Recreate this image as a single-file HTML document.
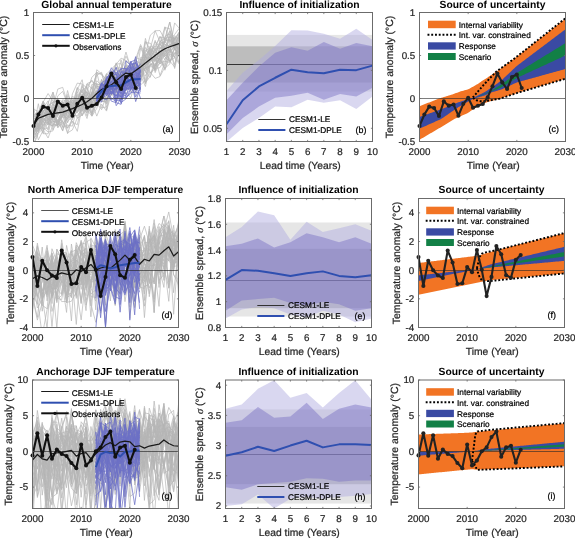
<!DOCTYPE html>
<html><head><meta charset="utf-8"><style>html,body{margin:0;padding:0;background:#fff;}svg{display:block;} text{-webkit-font-smoothing:antialiased;text-rendering:geometricPrecision;} body>div{will-change:transform;opacity:0.999;}</style></head>
<body><div><svg width="575" height="538" viewBox="0 0 575 538" font-family='"Liberation Sans", sans-serif'><defs><clipPath id="ca"><rect x="33.5" y="12.5" width="146.0" height="129.0"/></clipPath><clipPath id="cb"><rect x="226.5" y="12.5" width="146.0" height="129.0"/></clipPath><clipPath id="cc"><rect x="419.5" y="12.5" width="146.0" height="129.0"/></clipPath><clipPath id="cd"><rect x="32.5" y="198.5" width="146.0" height="129.0"/></clipPath><clipPath id="ce"><rect x="225.5" y="198.5" width="146.0" height="129.0"/></clipPath><clipPath id="cf"><rect x="418.5" y="198.5" width="146.0" height="129.0"/></clipPath><clipPath id="cg"><rect x="32.5" y="380.0" width="146.0" height="128.5"/></clipPath><clipPath id="ch"><rect x="225.5" y="380.0" width="146.0" height="128.5"/></clipPath><clipPath id="ci"><rect x="418.5" y="380.0" width="146.0" height="128.5"/></clipPath></defs><rect width="575" height="538" fill="#fff"/><text x="33.5" y="154.7" font-size="9.8" text-anchor="middle" font-weight="normal" fill="#262626" stroke="#262626" stroke-width="0.22" >2000</text>
<text x="82.17" y="154.7" font-size="9.8" text-anchor="middle" font-weight="normal" fill="#262626" stroke="#262626" stroke-width="0.22" >2010</text>
<text x="130.83" y="154.7" font-size="9.8" text-anchor="middle" font-weight="normal" fill="#262626" stroke="#262626" stroke-width="0.22" >2020</text>
<text x="179.5" y="154.7" font-size="9.8" text-anchor="middle" font-weight="normal" fill="#262626" stroke="#262626" stroke-width="0.22" >2030</text>
<text x="29.3" y="144.9" font-size="9.8" text-anchor="end" font-weight="normal" fill="#262626" stroke="#262626" stroke-width="0.22" >-0.5</text>
<text x="29.3" y="101.9" font-size="9.8" text-anchor="end" font-weight="normal" fill="#262626" stroke="#262626" stroke-width="0.22" >0</text>
<text x="29.3" y="58.9" font-size="9.8" text-anchor="end" font-weight="normal" fill="#262626" stroke="#262626" stroke-width="0.22" >0.5</text>
<text x="29.3" y="15.9" font-size="9.8" text-anchor="end" font-weight="normal" fill="#262626" stroke="#262626" stroke-width="0.22" >1</text>
<text x="106.5" y="7.55" font-size="10.3" text-anchor="middle" font-weight="bold" fill="#000" >Global annual temperature</text>
<text x="107.3" y="168.5" font-size="10.3" text-anchor="middle" font-weight="normal" fill="#262626" stroke="#262626" stroke-width="0.22" >Time (Year)</text>
<text x="0" y="0" font-size="10.45" text-anchor="middle" font-weight="normal" fill="#262626" stroke="#262626" stroke-width="0.22" transform="translate(7.31,77) rotate(-90)">Temperature anomaly (°C)</text>
<g clip-path="url(#ca)"><polyline points="33.5,129.02 38.37,117.17 43.23,118.49 48.1,123.41 52.97,121 57.83,124.63 62.7,115.65 67.57,99.16 72.43,109.23 77.3,112.59 82.17,102 87.03,97.61 91.9,95.89 96.77,101.28 101.63,92.47 106.5,81.94 111.37,95.43 116.23,88.72 121.1,96.99 125.97,92.14 130.83,97.8 135.7,80.97 140.57,82.31 145.43,65.99 150.3,58.8 155.17,57.08 160.03,75.7 164.9,62.1 169.77,51.89 174.63,45.86 179.5,57.9" fill="none" stroke="#b6b6b6" stroke-width="0.7" stroke-linejoin="round" /><polyline points="33.5,136.04 38.37,129.88 43.23,110.58 48.1,119.87 52.97,115.85 57.83,105.44 62.7,114.9 67.57,112.35 72.43,108.26 77.3,105.91 82.17,115.55 87.03,104.95 91.9,86.85 96.77,103.83 101.63,85.13 106.5,84.7 111.37,89.89 116.23,64.01 121.1,63.66 125.97,79.64 130.83,75.68 135.7,65.7 140.57,66.97 145.43,56.81 150.3,57.65 155.17,48.77 160.03,36.15 164.9,49.52 169.77,45.16 174.63,48.84 179.5,43.59" fill="none" stroke="#b6b6b6" stroke-width="0.7" stroke-linejoin="round" /><polyline points="33.5,118.53 38.37,118.08 43.23,107.95 48.1,100.86 52.97,121.16 57.83,122.86 62.7,109.59 67.57,127.92 72.43,119.03 77.3,111.17 82.17,94.4 87.03,91.86 91.9,97.89 96.77,96.77 101.63,92.94 106.5,74.43 111.37,84.32 116.23,83.4 121.1,74.25 125.97,73.35 130.83,75.99 135.7,81.48 140.57,70.85 145.43,68.61 150.3,50.36 155.17,46.35 160.03,48.85 164.9,41.52 169.77,47.38 174.63,35.58 179.5,40.17" fill="none" stroke="#b6b6b6" stroke-width="0.7" stroke-linejoin="round" /><polyline points="33.5,115.93 38.37,112.14 43.23,129.84 48.1,137.99 52.97,124.71 57.83,125.07 62.7,114.84 67.57,90.5 72.43,109.34 77.3,112.66 82.17,104.66 87.03,97.28 91.9,98.39 96.77,95.44 101.63,83.65 106.5,80.47 111.37,92.04 116.23,84.03 121.1,77.4 125.97,83.11 130.83,75.17 135.7,78.82 140.57,60.81 145.43,59.19 150.3,57.04 155.17,60.21 160.03,54.58 164.9,68.22 169.77,64.06 174.63,47.81 179.5,64.12" fill="none" stroke="#b6b6b6" stroke-width="0.7" stroke-linejoin="round" /><polyline points="33.5,130.94 38.37,113.59 43.23,122.54 48.1,109.36 52.97,110.66 57.83,126.06 62.7,105.13 67.57,94.54 72.43,103.66 77.3,107.43 82.17,106.21 87.03,111.42 91.9,91.53 96.77,96.16 101.63,90.88 106.5,95.17 111.37,93.41 116.23,95.61 121.1,70.14 125.97,72.22 130.83,64.82 135.7,67.12 140.57,72.15 145.43,67.98 150.3,66.13 155.17,57.85 160.03,56.13 164.9,53.04 169.77,61.04 174.63,57.58 179.5,32.5" fill="none" stroke="#b6b6b6" stroke-width="0.7" stroke-linejoin="round" /><polyline points="33.5,114.91 38.37,111.87 43.23,101.06 48.1,122.53 52.97,118.41 57.83,120.39 62.7,131.04 67.57,110.16 72.43,108.73 77.3,106.01 82.17,111.2 87.03,99.92 91.9,102.68 96.77,96.36 101.63,100.74 106.5,102.54 111.37,77.82 116.23,83.01 121.1,74.67 125.97,72.69 130.83,78.02 135.7,76.57 140.57,63.19 145.43,64.61 150.3,61.17 155.17,55.98 160.03,41.1 164.9,38.69 169.77,39.7 174.63,47.86 179.5,57.22" fill="none" stroke="#b6b6b6" stroke-width="0.7" stroke-linejoin="round" /><polyline points="33.5,119.3 38.37,117.83 43.23,111.17 48.1,105.36 52.97,102.77 57.83,100.52 62.7,111.99 67.57,96.26 72.43,115.2 77.3,100.95 82.17,97.89 87.03,91.38 91.9,77.28 96.77,72.39 101.63,92.7 106.5,104.1 111.37,83.17 116.23,89.59 121.1,79.79 125.97,66.39 130.83,86.96 135.7,94.54 140.57,72.91 145.43,64.81 150.3,62.11 155.17,56.16 160.03,60.03 164.9,65.65 169.77,54.22 174.63,56.73 179.5,62.75" fill="none" stroke="#b6b6b6" stroke-width="0.7" stroke-linejoin="round" /><polyline points="33.5,133.6 38.37,117.77 43.23,125.33 48.1,123.65 52.97,126.13 57.83,125.45 62.7,114.68 67.57,118.5 72.43,108.14 77.3,103.31 82.17,84.53 87.03,107.7 91.9,92.18 96.77,92.19 101.63,89.14 106.5,100.65 111.37,93.79 116.23,77.02 121.1,76.04 125.97,72.11 130.83,76.42 135.7,60.61 140.57,63.64 145.43,82.36 150.3,72.39 155.17,78.35 160.03,76.56 164.9,67.01 169.77,40.8 174.63,42.59 179.5,53.44" fill="none" stroke="#b6b6b6" stroke-width="0.7" stroke-linejoin="round" /><polyline points="33.5,109.18 38.37,111.53 43.23,113.54 48.1,113.92 52.97,113.11 57.83,105.22 62.7,104.29 67.57,105.61 72.43,116.59 77.3,104.68 82.17,110.11 87.03,93.62 91.9,107.25 96.77,97.91 101.63,91.09 106.5,100.17 111.37,73.41 116.23,63.24 121.1,74.75 125.97,65.26 130.83,67.83 135.7,92.51 140.57,72.29 145.43,65.57 150.3,59.33 155.17,65.52 160.03,57.83 164.9,52.5 169.77,37.07 174.63,38.62 179.5,41.24" fill="none" stroke="#b6b6b6" stroke-width="0.7" stroke-linejoin="round" /><polyline points="33.5,115.55 38.37,118.83 43.23,133.37 48.1,105.83 52.97,101.7 57.83,100.19 62.7,101.46 67.57,105.59 72.43,104.92 77.3,107.67 82.17,106.7 87.03,102.05 91.9,84.42 96.77,83.5 101.63,86.51 106.5,91.66 111.37,92.26 116.23,68.53 121.1,67.61 125.97,69.28 130.83,75.95 135.7,81.41 140.57,71.34 145.43,56.57 150.3,60.59 155.17,58.09 160.03,54.78 164.9,48.77 169.77,61.53 174.63,52.46 179.5,53.95" fill="none" stroke="#b6b6b6" stroke-width="0.7" stroke-linejoin="round" /><polyline points="33.5,129.29 38.37,114.68 43.23,100.96 48.1,111.93 52.97,118.34 57.83,112.74 62.7,112.06 67.57,119.53 72.43,107.53 77.3,87.58 82.17,100.17 87.03,102.15 91.9,108.14 96.77,93.99 101.63,101.2 106.5,101.69 111.37,78.04 116.23,86.78 121.1,68.68 125.97,56.16 130.83,65.75 135.7,62.44 140.57,46 145.43,57.62 150.3,62.81 155.17,69.29 160.03,56.27 164.9,36.6 169.77,33.63 174.63,49.24 179.5,52.83" fill="none" stroke="#b6b6b6" stroke-width="0.7" stroke-linejoin="round" /><polyline points="33.5,135.68 38.37,124.17 43.23,116.42 48.1,111.69 52.97,115.45 57.83,113.87 62.7,110.53 67.57,110.57 72.43,104 77.3,87.68 82.17,92.33 87.03,97.01 91.9,112.28 96.77,94.8 101.63,107.96 106.5,106.86 111.37,83.78 116.23,73.86 121.1,75.56 125.97,88.53 130.83,82.92 135.7,79.87 140.57,64.28 145.43,41.28 150.3,49.59 155.17,59.35 160.03,64.02 164.9,53.54 169.77,50.08 174.63,56.94 179.5,46.52" fill="none" stroke="#b6b6b6" stroke-width="0.7" stroke-linejoin="round" /><polyline points="33.5,135.44 38.37,112.33 43.23,104.21 48.1,114.56 52.97,108.92 57.83,112.44 62.7,115.54 67.57,114.68 72.43,122.14 77.3,124.74 82.17,103.43 87.03,103.18 91.9,96.82 96.77,83.7 101.63,102.1 106.5,99.01 111.37,87.33 116.23,78.01 121.1,79.12 125.97,64.4 130.83,69.08 135.7,79.98 140.57,78.84 145.43,59.83 150.3,53.8 155.17,71.2 160.03,44.84 164.9,40.77 169.77,31.53 174.63,43.33 179.5,45.58" fill="none" stroke="#b6b6b6" stroke-width="0.7" stroke-linejoin="round" /><polyline points="33.5,126.55 38.37,120.69 43.23,102.48 48.1,115.55 52.97,112.52 57.83,127.96 62.7,120.92 67.57,104.31 72.43,118.07 77.3,100 82.17,99.01 87.03,109.54 91.9,105.69 96.77,100.34 101.63,92.33 106.5,93.3 111.37,94.62 116.23,87.02 121.1,88.29 125.97,89.09 130.83,80.12 135.7,64.42 140.57,78.94 145.43,67.3 150.3,66.73 155.17,67.18 160.03,48.01 164.9,52.22 169.77,34.1 174.63,47.9 179.5,40.86" fill="none" stroke="#b6b6b6" stroke-width="0.7" stroke-linejoin="round" /><polyline points="33.5,127.47 38.37,113.94 43.23,116.26 48.1,108.79 52.97,112.11 57.83,122.39 62.7,116.37 67.57,111.35 72.43,100.06 77.3,112.03 82.17,106.71 87.03,118.51 91.9,98.15 96.77,103.47 101.63,109.7 106.5,94.96 111.37,77.29 116.23,92.26 121.1,90.69 125.97,84.87 130.83,88.66 135.7,72.07 140.57,74.93 145.43,72.61 150.3,57.16 155.17,61.78 160.03,50.02 164.9,57.12 169.77,60.92 174.63,67.07 179.5,33.9" fill="none" stroke="#b6b6b6" stroke-width="0.7" stroke-linejoin="round" /><polyline points="33.5,125.23 38.37,118.89 43.23,115.08 48.1,113.51 52.97,95.64 57.83,116.19 62.7,127.68 67.57,125.17 72.43,126.14 77.3,105.84 82.17,96.57 87.03,107.92 91.9,113.36 96.77,102.06 101.63,79.58 106.5,109.99 111.37,87.92 116.23,91.82 121.1,70.82 125.97,81.02 130.83,79.49 135.7,86.33 140.57,81.5 145.43,55.38 150.3,48.93 155.17,55.62 160.03,59.93 164.9,69.13 169.77,57.55 174.63,49.17 179.5,45.66" fill="none" stroke="#b6b6b6" stroke-width="0.7" stroke-linejoin="round" /><polyline points="33.5,128.5 38.37,120.36 43.23,117.43 48.1,102.83 52.97,92.29 57.83,106.66 62.7,117.02 67.57,112.66 72.43,115.02 77.3,115.75 82.17,108.19 87.03,112.74 91.9,96.55 96.77,93.85 101.63,87.28 106.5,88.26 111.37,91.93 116.23,92.04 121.1,82.73 125.97,80.29 130.83,74.43 135.7,70.65 140.57,79.58 145.43,66.93 150.3,73.02 155.17,66.04 160.03,58.25 164.9,70.22 169.77,53.43 174.63,46.05 179.5,45.25" fill="none" stroke="#b6b6b6" stroke-width="0.7" stroke-linejoin="round" /><polyline points="33.5,139.06 38.37,132.49 43.23,123.82 48.1,122.15 52.97,115.49 57.83,124.67 62.7,114.04 67.57,109.69 72.43,109.67 77.3,111.07 82.17,100.89 87.03,115.94 91.9,99.02 96.77,91.5 101.63,86.15 106.5,82.62 111.37,89.27 116.23,84.73 121.1,72.07 125.97,67.48 130.83,70.2 135.7,83.15 140.57,66.35 145.43,52.09 150.3,46.03 155.17,48.72 160.03,63.89 164.9,44.24 169.77,46.55 174.63,68.5 179.5,48.15" fill="none" stroke="#b6b6b6" stroke-width="0.7" stroke-linejoin="round" /><polyline points="33.5,132.85 38.37,127.15 43.23,107.66 48.1,114.81 52.97,111.26 57.83,95.84 62.7,91.36 67.57,104.04 72.43,108.61 77.3,118.31 82.17,114.97 87.03,101.51 91.9,94.57 96.77,91.18 101.63,79.44 106.5,90.98 111.37,86.66 116.23,74.64 121.1,69.03 125.97,60.49 130.83,65.98 135.7,70.52 140.57,63.55 145.43,71.23 150.3,77.27 155.17,56.44 160.03,52.67 164.9,46.19 169.77,61.6 174.63,53.69 179.5,52.02" fill="none" stroke="#b6b6b6" stroke-width="0.7" stroke-linejoin="round" /><polyline points="33.5,139.23 38.37,126.61 43.23,110.95 48.1,108.99 52.97,117.31 57.83,114.28 62.7,105.57 67.57,133.63 72.43,117.89 77.3,104.84 82.17,97.51 87.03,83.58 91.9,81.45 96.77,84.71 101.63,83.6 106.5,77.98 111.37,86.59 116.23,81.76 121.1,68.54 125.97,52.1 130.83,68.2 135.7,68.88 140.57,64.5 145.43,49.83 150.3,54.87 155.17,40.37 160.03,55.49 164.9,51.76 169.77,49.65 174.63,38.84 179.5,31.58" fill="none" stroke="#b6b6b6" stroke-width="0.7" stroke-linejoin="round" /><polyline points="33.5,123.14 38.37,114.75 43.23,121.21 48.1,130.22 52.97,109.55 57.83,106.85 62.7,105.42 67.57,112.4 72.43,99.77 77.3,105.76 82.17,93.99 87.03,106.55 91.9,107.92 96.77,94.97 101.63,96.5 106.5,83.53 111.37,81.13 116.23,88.03 121.1,78.45 125.97,76.96 130.83,66.94 135.7,73.85 140.57,72.14 145.43,53.73 150.3,35.22 155.17,30.78 160.03,41.82 164.9,43.22 169.77,30.63 174.63,40.62 179.5,50.93" fill="none" stroke="#b6b6b6" stroke-width="0.7" stroke-linejoin="round" /><polyline points="33.5,119.41 38.37,124.25 43.23,133.69 48.1,133.79 52.97,114.25 57.83,120.1 62.7,115.93 67.57,109.71 72.43,102.62 77.3,107.64 82.17,100.18 87.03,108.52 91.9,104.04 96.77,105 101.63,83.01 106.5,85.32 111.37,91.01 116.23,86.2 121.1,80.54 125.97,67.95 130.83,87.06 135.7,84.64 140.57,75.35 145.43,42.61 150.3,43.21 155.17,50.93 160.03,43.63 164.9,26.82 169.77,41.26 174.63,46.58 179.5,32.75" fill="none" stroke="#b6b6b6" stroke-width="0.7" stroke-linejoin="round" /><polyline points="33.5,139.24 38.37,128.22 43.23,102 48.1,93.55 52.97,101.09 57.83,102.13 62.7,127.11 67.57,109.68 72.43,110.15 77.3,103.15 82.17,96.91 87.03,102.29 91.9,114.17 96.77,95.65 101.63,97.09 106.5,93.06 111.37,92.47 116.23,86.61 121.1,100.03 125.97,69.98 130.83,70.64 135.7,58.98 140.57,44.53 145.43,55.07 150.3,73.13 155.17,68.65 160.03,67.61 164.9,58.93 169.77,49.59 174.63,64.65 179.5,47.13" fill="none" stroke="#b6b6b6" stroke-width="0.7" stroke-linejoin="round" /><polyline points="33.5,123.09 38.37,118.87 43.23,119.46 48.1,116.18 52.97,119.25 57.83,120.5 62.7,130.35 67.57,117 72.43,93.81 77.3,83.1 82.17,83.97 87.03,88.06 91.9,99.8 96.77,80.66 101.63,85.5 106.5,86.58 111.37,87.3 116.23,80.78 121.1,80.63 125.97,75.24 130.83,84.88 135.7,77.72 140.57,48.3 145.43,57.25 150.3,59.4 155.17,50.63 160.03,43.57 164.9,56.18 169.77,51.29 174.63,38.19 179.5,38.54" fill="none" stroke="#b6b6b6" stroke-width="0.7" stroke-linejoin="round" /><polyline points="33.5,143.86 38.37,131.4 43.23,120.17 48.1,120.57 52.97,101.98 57.83,126.87 62.7,123.2 67.57,119.12 72.43,105.51 77.3,99.93 82.17,89.18 87.03,111.01 91.9,94.61 96.77,94.93 101.63,96.14 106.5,84.66 111.37,92.46 116.23,102.68 121.1,87.69 125.97,90.81 130.83,86.29 135.7,71.32 140.57,64.3 145.43,47.5 150.3,55.63 155.17,68.45 160.03,63.37 164.9,61.31 169.77,62.44 174.63,46.57 179.5,49.95" fill="none" stroke="#b6b6b6" stroke-width="0.7" stroke-linejoin="round" /><polyline points="33.5,132.61 38.37,122.22 43.23,114.42 48.1,112.76 52.97,107.21 57.83,110.26 62.7,99.72 67.57,102.07 72.43,102.05 77.3,100.54 82.17,115.81 87.03,107.27 91.9,102.66 96.77,93.1 101.63,101.92 106.5,76.55 111.37,80.12 116.23,90.35 121.1,95.77 125.97,82.37 130.83,78.15 135.7,78.57 140.57,68.87 145.43,69.74 150.3,56.45 155.17,61.24 160.03,54.2 164.9,40.51 169.77,22.04 174.63,45.1 179.5,47.76" fill="none" stroke="#b6b6b6" stroke-width="0.7" stroke-linejoin="round" /><polyline points="33.5,129.26 38.37,130.65 43.23,125.16 48.1,117.77 52.97,123.88 57.83,125.32 62.7,120.85 67.57,132.86 72.43,129.86 77.3,117.89 82.17,107.02 87.03,104.39 91.9,115.68 96.77,103.88 101.63,85.71 106.5,80.86 111.37,83.33 116.23,88.47 121.1,73.44 125.97,77.31 130.83,86.38 135.7,82.22 140.57,57.59 145.43,57.81 150.3,46.65 155.17,55.54 160.03,43.15 164.9,51.29 169.77,49.11 174.63,22.9 179.5,28.58" fill="none" stroke="#b6b6b6" stroke-width="0.7" stroke-linejoin="round" /><polyline points="33.5,126.68 38.37,116.09 43.23,104.37 48.1,114.75 52.97,129.89 57.83,121.14 62.7,114.84 67.57,110.28 72.43,96.36 77.3,99.41 82.17,94.39 87.03,108.45 91.9,92.63 96.77,72.1 101.63,74.82 106.5,79.85 111.37,80.82 116.23,62.81 121.1,78.89 125.97,74.89 130.83,70.44 135.7,62.32 140.57,68.09 145.43,60.68 150.3,60.97 155.17,55 160.03,52.88 164.9,59.7 169.77,50.79 174.63,38.4 179.5,50.07" fill="none" stroke="#b6b6b6" stroke-width="0.7" stroke-linejoin="round" /><polyline points="33.5,126.16 38.37,128.84 43.23,118.35 48.1,124.93 52.97,106.81 57.83,89.04 62.7,87.36 67.57,102.89 72.43,99.12 77.3,102.18 82.17,101.95 87.03,86.55 91.9,105.22 96.77,86.15 101.63,87.35 106.5,73.54 111.37,78.3 116.23,84.72 121.1,75.41 125.97,65.82 130.83,71.2 135.7,64.95 140.57,69.79 145.43,83.9 150.3,58.18 155.17,48.66 160.03,48.06 164.9,46.8 169.77,36.48 174.63,45.75 179.5,50.23" fill="none" stroke="#b6b6b6" stroke-width="0.7" stroke-linejoin="round" /><polyline points="33.5,127.45 38.37,132.23 43.23,110.19 48.1,118.18 52.97,125.15 57.83,105.22 62.7,110.31 67.57,121.76 72.43,115.9 77.3,100.55 82.17,91.28 87.03,101.12 91.9,94.34 96.77,85.5 101.63,92.65 106.5,85.15 111.37,84.4 116.23,85.59 121.1,82.84 125.97,74.62 130.83,74.33 135.7,75.81 140.57,72.71 145.43,54.83 150.3,54.36 155.17,45.6 160.03,37.23 164.9,38.19 169.77,22.04 174.63,44.1 179.5,35.62" fill="none" stroke="#b6b6b6" stroke-width="0.7" stroke-linejoin="round" /><polyline points="33.5,127.68 38.37,103.71 43.23,129.35 48.1,127.94 52.97,112.22 57.83,105.05 62.7,102.53 67.57,107.64 72.43,103.42 77.3,98.76 82.17,102.42 87.03,91.54 91.9,115.68 96.77,93.71 101.63,99.13 106.5,81.83 111.37,85.06 116.23,89.09 121.1,76.04 125.97,81.3 130.83,85.4 135.7,88.97 140.57,73.61 145.43,60.86 150.3,48.98 155.17,53.23 160.03,41.33 164.9,44.91 169.77,46.29 174.63,39.63 179.5,31.74" fill="none" stroke="#b6b6b6" stroke-width="0.7" stroke-linejoin="round" /><polyline points="33.5,134.84 38.37,123.46 43.23,117.39 48.1,123.12 52.97,107.16 57.83,114.3 62.7,108.31 67.57,116.66 72.43,107.47 77.3,102.6 82.17,106.94 87.03,83.92 91.9,88.64 96.77,73.66 101.63,73.64 106.5,87.93 111.37,88.61 116.23,78.06 121.1,75.07 125.97,72.06 130.83,76.37 135.7,88.04 140.57,75.13 145.43,86.54 150.3,64 155.17,63.9 160.03,61.4 164.9,54.13 169.77,46.12 174.63,58.16 179.5,64.22" fill="none" stroke="#b6b6b6" stroke-width="0.7" stroke-linejoin="round" /><polyline points="33.5,128.3 38.37,128.64 43.23,105.23 48.1,120.31 52.97,109.67 57.83,124.18 62.7,113.28 67.57,113.71 72.43,110.32 77.3,101.96 82.17,86.54 87.03,93.7 91.9,94.35 96.77,101.14 101.63,86.74 106.5,88.65 111.37,77.62 116.23,78.65 121.1,59.72 125.97,85.52 130.83,81.17 135.7,64.8 140.57,68.16 145.43,70.89 150.3,64.43 155.17,70.11 160.03,55.84 164.9,27.55 169.77,28.74 174.63,49.08 179.5,52.94" fill="none" stroke="#b6b6b6" stroke-width="0.7" stroke-linejoin="round" /><polyline points="33.5,145.46 38.37,133.3 43.23,128 48.1,110.29 52.97,104.18 57.83,113.02 62.7,122.5 67.57,128.33 72.43,121.36 77.3,131.34 82.17,106.3 87.03,108.25 91.9,96.14 96.77,75.44 101.63,72.28 106.5,91.98 111.37,78.44 116.23,67.81 121.1,78.97 125.97,82.72 130.83,78.46 135.7,86.85 140.57,59 145.43,82.63 150.3,76.33 155.17,63.99 160.03,56.9 164.9,48.99 169.77,44.34 174.63,46.24 179.5,33.32" fill="none" stroke="#b6b6b6" stroke-width="0.7" stroke-linejoin="round" /><polyline points="33.5,123.71 38.37,124.7 43.23,117.36 48.1,112.72 52.97,121.49 57.83,121.55 62.7,107.79 67.57,105.59 72.43,113.22 77.3,89.34 82.17,79.72 87.03,105.71 91.9,96.91 96.77,69.77 101.63,73.91 106.5,79.83 111.37,84.17 116.23,85.55 121.1,80.23 125.97,79.43 130.83,69.39 135.7,72.53 140.57,71.7 145.43,75.93 150.3,64.19 155.17,65.52 160.03,57.01 164.9,40.91 169.77,40.63 174.63,38.29 179.5,37.77" fill="none" stroke="#b6b6b6" stroke-width="0.7" stroke-linejoin="round" /><polyline points="33.5,134.77 38.37,124.8 43.23,111.59 48.1,122.79 52.97,104.15 57.83,109.23 62.7,117.75 67.57,116.85 72.43,117.13 77.3,108.13 82.17,111.62 87.03,93.7 91.9,102.75 96.77,116.11 101.63,104.16 106.5,111.08 111.37,93.55 116.23,74.01 121.1,68.22 125.97,82.52 130.83,84.44 135.7,57.63 140.57,59.45 145.43,60.47 150.3,48.53 155.17,30.78 160.03,30.56 164.9,40.02 169.77,40.42 174.63,37.18 179.5,46.36" fill="none" stroke="#b6b6b6" stroke-width="0.7" stroke-linejoin="round" /><polyline points="33.5,124.35 38.37,127.07 43.23,119.99 48.1,114.8 52.97,92.08 57.83,113.2 62.7,113.34 67.57,112.29 72.43,105.21 77.3,95.74 82.17,105.18 87.03,109.64 91.9,116.28 96.77,108.38 101.63,89.71 106.5,86.99 111.37,94.15 116.23,87.49 121.1,78.65 125.97,69.11 130.83,78.18 135.7,74.24 140.57,85.06 145.43,80.14 150.3,50.21 155.17,72.62 160.03,60.95 164.9,49.91 169.77,50.64 174.63,53.96 179.5,47.12" fill="none" stroke="#b6b6b6" stroke-width="0.7" stroke-linejoin="round" /><polyline points="33.5,106.98 38.37,129.61 43.23,121.68 48.1,124.2 52.97,122.14 57.83,113.73 62.7,106.46 67.57,100.05 72.43,109.58 77.3,98.41 82.17,90.7 87.03,86.43 91.9,80.08 96.77,88.48 101.63,89.33 106.5,79.64 111.37,94.83 116.23,82.33 121.1,82.05 125.97,78.38 130.83,92.06 135.7,85.03 140.57,72.18 145.43,56.73 150.3,47.84 155.17,52.26 160.03,52.45 164.9,56.67 169.77,45.81 174.63,47.07 179.5,38.53" fill="none" stroke="#b6b6b6" stroke-width="0.7" stroke-linejoin="round" /><polyline points="33.5,113.79 38.37,128.47 43.23,127.89 48.1,131.96 52.97,130.87 57.83,106.8 62.7,107.87 67.57,122.94 72.43,106.94 77.3,94.36 82.17,103.49 87.03,107.7 91.9,103.53 96.77,92.7 101.63,83.26 106.5,74.2 111.37,69.04 116.23,64.26 121.1,58.2 125.97,60.49 130.83,83.85 135.7,75.12 140.57,65.61 145.43,66.21 150.3,51.88 155.17,56.27 160.03,60.68 164.9,38.47 169.77,37 174.63,39.66 179.5,32.97" fill="none" stroke="#b6b6b6" stroke-width="0.7" stroke-linejoin="round" /><polyline points="33.5,121.05 38.37,139.91 43.23,130.17 48.1,123.48 52.97,125.93 57.83,115.32 62.7,101.9 67.57,111.26 72.43,119.42 77.3,91.62 82.17,103.38 87.03,112.82 91.9,99.99 96.77,90.15 101.63,94.83 106.5,81.88 111.37,87.47 116.23,90.25 121.1,78.25 125.97,66.49 130.83,77.64 135.7,68.67 140.57,67.13 145.43,38.39 150.3,56.68 155.17,41.79 160.03,47.52 164.9,48.42 169.77,39.96 174.63,34.45 179.5,27.99" fill="none" stroke="#b6b6b6" stroke-width="0.7" stroke-linejoin="round" /></g>
<g clip-path="url(#ca)"><polyline points="96.77,101.11 101.63,95.13 106.5,85.95 111.37,81.65 116.23,72.53 121.1,77.23 125.97,71.1 130.83,62.59 135.7,71.81 140.57,88.97" fill="none" stroke="#6c70c6" stroke-width="0.75" stroke-linejoin="round" /><polyline points="96.77,97.62 101.63,84.52 106.5,88.4 111.37,78.24 116.23,77.67 121.1,68.58 125.97,68.53 130.83,75.34 135.7,79.36 140.57,78.33" fill="none" stroke="#6c70c6" stroke-width="0.75" stroke-linejoin="round" /><polyline points="96.77,102.17 101.63,93.71 106.5,79.05 111.37,94.35 116.23,86.95 121.1,92.95 125.97,83.63 130.83,72.92 135.7,77.31 140.57,71.79" fill="none" stroke="#6c70c6" stroke-width="0.75" stroke-linejoin="round" /><polyline points="96.77,101.71 101.63,95.75 106.5,85.61 111.37,84.24 116.23,105.69 121.1,98.29 125.97,85.23 130.83,67.47 135.7,72.48 140.57,74.46" fill="none" stroke="#6c70c6" stroke-width="0.75" stroke-linejoin="round" /><polyline points="96.77,100.61 101.63,85.39 106.5,83.89 111.37,86.26 116.23,98.74 121.1,82.65 125.97,60.92 130.83,65.19 135.7,63.42 140.57,68.89" fill="none" stroke="#6c70c6" stroke-width="0.75" stroke-linejoin="round" /><polyline points="96.77,99.9 101.63,97.23 106.5,91.04 111.37,85.88 116.23,78.43 121.1,79.31 125.97,77.25 130.83,84.12 135.7,91.65 140.57,82.83" fill="none" stroke="#6c70c6" stroke-width="0.75" stroke-linejoin="round" /><polyline points="96.77,99.82 101.63,97.31 106.5,92.65 111.37,101.17 116.23,102.69 121.1,104.32 125.97,87.65 130.83,78.05 135.7,61.64 140.57,85.52" fill="none" stroke="#6c70c6" stroke-width="0.75" stroke-linejoin="round" /><polyline points="96.77,100.61 101.63,93.55 106.5,89.89 111.37,75.6 116.23,84.03 121.1,93.94 125.97,96.1 130.83,81.77 135.7,77.33 140.57,89.95" fill="none" stroke="#6c70c6" stroke-width="0.75" stroke-linejoin="round" /><polyline points="96.77,98.8 101.63,89.29 106.5,89.59 111.37,82.92 116.23,79.71 121.1,97.47 125.97,89.24 130.83,78.57 135.7,83.65 140.57,98.64" fill="none" stroke="#6c70c6" stroke-width="0.75" stroke-linejoin="round" /><polyline points="96.77,96.45 101.63,83.88 106.5,95.66 111.37,71.86 116.23,88.85 121.1,78.6 125.97,70.17 130.83,66.77 135.7,73.4 140.57,86.79" fill="none" stroke="#6c70c6" stroke-width="0.75" stroke-linejoin="round" /><polyline points="96.77,101.17 101.63,101.94 106.5,76.8 111.37,76.89 116.23,67.19 121.1,86.07 125.97,70.91 130.83,61.9 135.7,59.81 140.57,72.39" fill="none" stroke="#6c70c6" stroke-width="0.75" stroke-linejoin="round" /><polyline points="96.77,94.95 101.63,98.24 106.5,99.94 111.37,90.95 116.23,95.61 121.1,90 125.97,84.99 130.83,64.19 135.7,62.79 140.57,73.63" fill="none" stroke="#6c70c6" stroke-width="0.75" stroke-linejoin="round" /><polyline points="96.77,100.39 101.63,93.9 106.5,83.08 111.37,92.91 116.23,90.68 121.1,97.59 125.97,85.82 130.83,67.02 135.7,81.12 140.57,77.76" fill="none" stroke="#6c70c6" stroke-width="0.75" stroke-linejoin="round" /><polyline points="96.77,97.35 101.63,95.75 106.5,80.92 111.37,67.75 116.23,74 121.1,86.88 125.97,77.34 130.83,80.54 135.7,72.71 140.57,74.26" fill="none" stroke="#6c70c6" stroke-width="0.75" stroke-linejoin="round" /><polyline points="96.77,101.73 101.63,95.66 106.5,91.36 111.37,99.72 116.23,94.8 121.1,99.85 125.97,88.72 130.83,90 135.7,81.94 140.57,76.12" fill="none" stroke="#6c70c6" stroke-width="0.75" stroke-linejoin="round" /><polyline points="96.77,104.52 101.63,99.17 106.5,86.59 111.37,74.22 116.23,73.88 121.1,83.88 125.97,70.16 130.83,87.88 135.7,69.37 140.57,81.11" fill="none" stroke="#6c70c6" stroke-width="0.75" stroke-linejoin="round" /><polyline points="96.77,94.98 101.63,83.03 106.5,88.71 111.37,85.65 116.23,87.17 121.1,84.9 125.97,94.27 130.83,89.7 135.7,78.73 140.57,76.95" fill="none" stroke="#6c70c6" stroke-width="0.75" stroke-linejoin="round" /><polyline points="96.77,100.76 101.63,83.3 106.5,87.06 111.37,84.33 116.23,100.34 121.1,100.42 125.97,77.05 130.83,85.58 135.7,76.76 140.57,78.66" fill="none" stroke="#6c70c6" stroke-width="0.75" stroke-linejoin="round" /><polyline points="96.77,91.62 101.63,89.27 106.5,88.7 111.37,81.64 116.23,78.54 121.1,87.35 125.97,90.49 130.83,80.16 135.7,80.2 140.57,70.65" fill="none" stroke="#6c70c6" stroke-width="0.75" stroke-linejoin="round" /><polyline points="96.77,98.58 101.63,91.63 106.5,88.07 111.37,92.4 116.23,95.53 121.1,96.73 125.97,89.65 130.83,85.85 135.7,75.05 140.57,80.92" fill="none" stroke="#6c70c6" stroke-width="0.75" stroke-linejoin="round" /><polyline points="96.77,95.04 101.63,82.8 106.5,79.92 111.37,70.82 116.23,72.92 121.1,68.73 125.97,78.67 130.83,72.13 135.7,56.58 140.57,80.41" fill="none" stroke="#6c70c6" stroke-width="0.75" stroke-linejoin="round" /><polyline points="96.77,97.68 101.63,89.27 106.5,81.63 111.37,75.03 116.23,86.47 121.1,82.11 125.97,88.5 130.83,87.66 135.7,87.32 140.57,83.08" fill="none" stroke="#6c70c6" stroke-width="0.75" stroke-linejoin="round" /><polyline points="96.77,96.11 101.63,95.89 106.5,77.76 111.37,74.05 116.23,74.68 121.1,84.3 125.97,82.85 130.83,74.99 135.7,73.98 140.57,91.73" fill="none" stroke="#6c70c6" stroke-width="0.75" stroke-linejoin="round" /><polyline points="96.77,99.18 101.63,99.46 106.5,85.19 111.37,82.72 116.23,85.16 121.1,73.68 125.97,88.17 130.83,80.28 135.7,66.69 140.57,76.33" fill="none" stroke="#6c70c6" stroke-width="0.75" stroke-linejoin="round" /><polyline points="96.77,100.9 101.63,94.68 106.5,79.64 111.37,89.33 116.23,79.73 121.1,93.48 125.97,79.79 130.83,79.53 135.7,101.59 140.57,86.88" fill="none" stroke="#6c70c6" stroke-width="0.75" stroke-linejoin="round" /><polyline points="96.77,94.81 101.63,82.92 106.5,89.31 111.37,94.52 116.23,77.17 121.1,81.26 125.97,68.28 130.83,71.57 135.7,84.02 140.57,81.26" fill="none" stroke="#6c70c6" stroke-width="0.75" stroke-linejoin="round" /><polyline points="96.77,96.37 101.63,90.19 106.5,86.12 111.37,86.49 116.23,90.58 121.1,70.92 125.97,77.37 130.83,87.56 135.7,86.09 140.57,75.09" fill="none" stroke="#6c70c6" stroke-width="0.75" stroke-linejoin="round" /><polyline points="96.77,98.02 101.63,93.93 106.5,88.09 111.37,98.32 116.23,101.44 121.1,84.1 125.97,86.01 130.83,77.64 135.7,67.88 140.57,69.38" fill="none" stroke="#6c70c6" stroke-width="0.75" stroke-linejoin="round" /><polyline points="96.77,98.82 101.63,88.86 106.5,87.8 111.37,81.26 116.23,80.26 121.1,90.39 125.97,83.64 130.83,81.46 135.7,96.91 140.57,86.69" fill="none" stroke="#6c70c6" stroke-width="0.75" stroke-linejoin="round" /><polyline points="96.77,99.91 101.63,99.07 106.5,92.81 111.37,88.82 116.23,85.91 121.1,94.68 125.97,80.51 130.83,89.45 135.7,84.55 140.57,69.52" fill="none" stroke="#6c70c6" stroke-width="0.75" stroke-linejoin="round" /><polyline points="96.77,100.33 101.63,88.07 106.5,87.59 111.37,88.42 116.23,84.75 121.1,76.18 125.97,97.52 130.83,92.33 135.7,92.37 140.57,93.03" fill="none" stroke="#6c70c6" stroke-width="0.75" stroke-linejoin="round" /><polyline points="96.77,98.24 101.63,90.04 106.5,91.47 111.37,87.12 116.23,82.73 121.1,90.19 125.97,83.1 130.83,65.64 135.7,71.48 140.57,81.82" fill="none" stroke="#6c70c6" stroke-width="0.75" stroke-linejoin="round" /><polyline points="96.77,99.42 101.63,90.86 106.5,81.75 111.37,89.58 116.23,88.79 121.1,77.12 125.97,83.7 130.83,78.43 135.7,87.59 140.57,89.01" fill="none" stroke="#6c70c6" stroke-width="0.75" stroke-linejoin="round" /><polyline points="96.77,97.36 101.63,92.42 106.5,90.48 111.37,91.41 116.23,89.15 121.1,81.13 125.97,79.48 130.83,61.09 135.7,70.87 140.57,63.84" fill="none" stroke="#6c70c6" stroke-width="0.75" stroke-linejoin="round" /><polyline points="96.77,98.66 101.63,97.35 106.5,90.62 111.37,88.09 116.23,88.41 121.1,103.5 125.97,81.74 130.83,82.6 135.7,83.91 140.57,82.8" fill="none" stroke="#6c70c6" stroke-width="0.75" stroke-linejoin="round" /><polyline points="96.77,100.8 101.63,97.9 106.5,95.43 111.37,87.67 116.23,85.1 121.1,88.03 125.97,88.04 130.83,88.71 135.7,82.84 140.57,70.28" fill="none" stroke="#6c70c6" stroke-width="0.75" stroke-linejoin="round" /><polyline points="96.77,97.81 101.63,87.64 106.5,87.71 111.37,81.01 116.23,95.34 121.1,102.53 125.97,98.88 130.83,89.1 135.7,85.23 140.57,85.46" fill="none" stroke="#6c70c6" stroke-width="0.75" stroke-linejoin="round" /><polyline points="96.77,96.61 101.63,88.35 106.5,93.5 111.37,93.36 116.23,91.95 121.1,96.71 125.97,97.5 130.83,93.63 135.7,84.17 140.57,75.74" fill="none" stroke="#6c70c6" stroke-width="0.75" stroke-linejoin="round" /><polyline points="96.77,97.19 101.63,93.86 106.5,93.39 111.37,85.71 116.23,101.88 121.1,80.89 125.97,84.83 130.83,87.09 135.7,78.91 140.57,70.16" fill="none" stroke="#6c70c6" stroke-width="0.75" stroke-linejoin="round" /><polyline points="96.77,96.06 101.63,89.48 106.5,79.12 111.37,74.2 116.23,81.53 121.1,72.15 125.97,76.53 130.83,76.68 135.7,85.93 140.57,83.79" fill="none" stroke="#6c70c6" stroke-width="0.75" stroke-linejoin="round" /></g>
<line x1="33.5" y1="98.5" x2="179.5" y2="98.5" stroke="#262626" stroke-opacity="0.65" stroke-width="1"/>
<polyline points="33.5,124.3 38.37,118.28 43.23,116.34 48.1,114.41 52.97,113.64 57.83,112.86 62.7,112.09 67.57,110.33 72.43,108.58 77.3,106.62 82.17,104.45 87.03,101.77 91.9,98.33 96.77,93.51 101.63,89.48 106.5,87.33 111.37,84.87 116.23,80.78 121.1,76.6 125.97,73.05 130.83,74.06 135.7,70.48 140.57,66.89 145.43,63.11 150.3,59.24 155.17,55.51 160.03,51.83 164.9,48.75 169.77,46.77 174.63,45.11 179.5,43.46" fill="none" stroke="#1a1a1a" stroke-width="1.25" stroke-linejoin="round" />
<polyline points="96.77,98.07 101.63,91.19 106.5,86.89 111.37,86.03 116.23,85.6 121.1,85.17 125.97,82.42 130.83,79.58 135.7,79.15 140.57,78.98" fill="none" stroke="#2f4fb0" stroke-width="2.0" stroke-linejoin="round" />
<polyline points="33.5,126.02 38.37,114.5 43.23,106.67 48.1,107.96 52.97,115.96 57.83,101.42 62.7,105.64 67.57,104.52 72.43,115.7 77.3,103.83 82.17,97.81 87.03,107.7 91.9,105.81 96.77,104 101.63,97.38 106.5,86.2 111.37,73.56 116.23,82.42 121.1,89.04 125.97,77 130.83,74.51 135.7,88.01" fill="none" stroke="#111" stroke-width="2.1" stroke-linejoin="round" />
<circle cx="33.5" cy="126.02" r="2.0" fill="#111"/>
<circle cx="38.37" cy="114.5" r="2.0" fill="#111"/>
<circle cx="43.23" cy="106.67" r="2.0" fill="#111"/>
<circle cx="48.1" cy="107.96" r="2.0" fill="#111"/>
<circle cx="52.97" cy="115.96" r="2.0" fill="#111"/>
<circle cx="57.83" cy="101.42" r="2.0" fill="#111"/>
<circle cx="62.7" cy="105.64" r="2.0" fill="#111"/>
<circle cx="67.57" cy="104.52" r="2.0" fill="#111"/>
<circle cx="72.43" cy="115.7" r="2.0" fill="#111"/>
<circle cx="77.3" cy="103.83" r="2.0" fill="#111"/>
<circle cx="82.17" cy="97.81" r="2.0" fill="#111"/>
<circle cx="87.03" cy="107.7" r="2.0" fill="#111"/>
<circle cx="91.9" cy="105.81" r="2.0" fill="#111"/>
<circle cx="96.77" cy="104" r="2.0" fill="#111"/>
<circle cx="101.63" cy="97.38" r="2.0" fill="#111"/>
<circle cx="106.5" cy="86.2" r="2.0" fill="#111"/>
<circle cx="111.37" cy="73.56" r="2.0" fill="#111"/>
<circle cx="116.23" cy="82.42" r="2.0" fill="#111"/>
<circle cx="121.1" cy="89.04" r="2.0" fill="#111"/>
<circle cx="125.97" cy="77" r="2.0" fill="#111"/>
<circle cx="130.83" cy="74.51" r="2.0" fill="#111"/>
<circle cx="135.7" cy="88.01" r="2.0" fill="#111"/>
<line x1="42.2" y1="24.5" x2="69.7" y2="24.5" stroke="#1a1a1a" stroke-width="1"/>
<line x1="42.2" y1="35.2" x2="69.7" y2="35.2" stroke="#2f4fb0" stroke-width="2"/>
<line x1="42.2" y1="45.8" x2="69.7" y2="45.8" stroke="#111" stroke-width="2"/>
<circle cx="55.95" cy="45.8" r="1.6" fill="#111"/>
<text x="72.8" y="28" font-size="8.25" text-anchor="start" font-weight="normal" fill="#000" stroke="#000" stroke-width="0.22" >CESM1-LE</text>
<text x="72.8" y="38.9" font-size="8.25" text-anchor="start" font-weight="normal" fill="#000" stroke="#000" stroke-width="0.22" >CESM1-DPLE</text>
<text x="72.8" y="49.5" font-size="8.25" text-anchor="start" font-weight="normal" fill="#000" stroke="#000" stroke-width="0.22" >Observations</text>
<text x="162.5" y="132" font-size="8.9" text-anchor="start" font-weight="normal" fill="#000" stroke="#000" stroke-width="0.22" >(a)</text>
<text x="226.5" y="154.7" font-size="9.8" text-anchor="middle" font-weight="normal" fill="#262626" stroke="#262626" stroke-width="0.22" >1</text>
<text x="242.72" y="154.7" font-size="9.8" text-anchor="middle" font-weight="normal" fill="#262626" stroke="#262626" stroke-width="0.22" >2</text>
<text x="258.94" y="154.7" font-size="9.8" text-anchor="middle" font-weight="normal" fill="#262626" stroke="#262626" stroke-width="0.22" >3</text>
<text x="275.17" y="154.7" font-size="9.8" text-anchor="middle" font-weight="normal" fill="#262626" stroke="#262626" stroke-width="0.22" >4</text>
<text x="291.39" y="154.7" font-size="9.8" text-anchor="middle" font-weight="normal" fill="#262626" stroke="#262626" stroke-width="0.22" >5</text>
<text x="307.61" y="154.7" font-size="9.8" text-anchor="middle" font-weight="normal" fill="#262626" stroke="#262626" stroke-width="0.22" >6</text>
<text x="323.83" y="154.7" font-size="9.8" text-anchor="middle" font-weight="normal" fill="#262626" stroke="#262626" stroke-width="0.22" >7</text>
<text x="340.06" y="154.7" font-size="9.8" text-anchor="middle" font-weight="normal" fill="#262626" stroke="#262626" stroke-width="0.22" >8</text>
<text x="356.28" y="154.7" font-size="9.8" text-anchor="middle" font-weight="normal" fill="#262626" stroke="#262626" stroke-width="0.22" >9</text>
<text x="372.5" y="154.7" font-size="9.8" text-anchor="middle" font-weight="normal" fill="#262626" stroke="#262626" stroke-width="0.22" >10</text>
<text x="222.3" y="131.7" font-size="9.8" text-anchor="end" font-weight="normal" fill="#262626" stroke="#262626" stroke-width="0.22" >0.05</text>
<text x="222.3" y="73.8" font-size="9.8" text-anchor="end" font-weight="normal" fill="#262626" stroke="#262626" stroke-width="0.22" >0.1</text>
<text x="222.3" y="15.9" font-size="9.8" text-anchor="end" font-weight="normal" fill="#262626" stroke="#262626" stroke-width="0.22" >0.15</text>
<text x="299.5" y="7.55" font-size="10.3" text-anchor="middle" font-weight="bold" fill="#000" >Influence of initialization</text>
<text x="300.3" y="168.5" font-size="10.3" text-anchor="middle" font-weight="normal" fill="#262626" stroke="#262626" stroke-width="0.22" >Lead time (Years)</text>
<text x="0" y="0" font-size="10.45" text-anchor="middle" font-weight="normal" fill="#262626" stroke="#262626" stroke-width="0.22" transform="translate(198.13,77) rotate(-90)">Ensemble spread, <tspan font-style="italic" font-family="Liberation Serif">σ</tspan> (°C)</text>
<g clip-path="url(#cb)">
<rect x="226.5" y="34.92" width="146.0" height="56.65" fill="#e6e6e6"/>
<rect x="226.5" y="46.33" width="146.0" height="36.23" fill="#bdbdbd"/>
<line x1="226.5" y1="64.5" x2="372.5" y2="64.5" stroke="#333" stroke-width="1"/>
<polygon points="226.5,90.97 242.72,72.65 258.94,59.94 275.17,45.93 291.39,30.32 307.61,30.52 323.83,33.72 340.06,38.82 356.28,28.71 372.5,40.02 372.5,96.57 356.28,109.08 340.06,100.27 323.83,102.78 307.61,99.77 291.39,107.18 275.17,106.58 258.94,117.89 242.72,127.9 226.5,141.71" fill="rgb(175,171,223)" stroke="none" fill-opacity="0.476"/>
<polygon points="226.5,100.27 242.72,82.76 258.94,66.45 275.17,52.63 291.39,47.33 307.61,50.63 323.83,42.03 340.06,48.83 356.28,43.03 372.5,46.33 372.5,87.76 356.28,96.57 340.06,94.07 323.83,99.77 307.61,92.77 291.39,95.67 275.17,97.77 258.94,106.58 242.72,117.89 226.5,134.2" fill="rgb(124,116,197)" stroke="none" fill-opacity="0.48"/>
<polyline points="226.5,124.2 242.72,100.27 258.94,86.46 275.17,77.76 291.39,69.65 307.61,72.15 323.83,73.15 340.06,69.65 356.28,70.15 372.5,65.65" fill="none" stroke="#2f4fb0" stroke-width="2.0" stroke-linejoin="round" />
</g>
<line x1="258.3" y1="119.5" x2="285.4" y2="119.5" stroke="#333" stroke-width="1"/>
<line x1="258.3" y1="130.0" x2="285.4" y2="130.0" stroke="#2f4fb0" stroke-width="2"/>
<text x="289.1" y="122.1" font-size="8.25" text-anchor="start" font-weight="normal" fill="#000" stroke="#000" stroke-width="0.22" >CESM1-LE</text>
<text x="289.1" y="133" font-size="8.25" text-anchor="start" font-weight="normal" fill="#000" stroke="#000" stroke-width="0.22" >CESM1-DPLE</text>
<text x="355.5" y="132.7" font-size="8.9" text-anchor="start" font-weight="normal" fill="#000" stroke="#000" stroke-width="0.22" >(b)</text>
<text x="419.5" y="154.7" font-size="9.8" text-anchor="middle" font-weight="normal" fill="#262626" stroke="#262626" stroke-width="0.22" >2000</text>
<text x="468.17" y="154.7" font-size="9.8" text-anchor="middle" font-weight="normal" fill="#262626" stroke="#262626" stroke-width="0.22" >2010</text>
<text x="516.83" y="154.7" font-size="9.8" text-anchor="middle" font-weight="normal" fill="#262626" stroke="#262626" stroke-width="0.22" >2020</text>
<text x="565.5" y="154.7" font-size="9.8" text-anchor="middle" font-weight="normal" fill="#262626" stroke="#262626" stroke-width="0.22" >2030</text>
<text x="415.3" y="144.9" font-size="9.8" text-anchor="end" font-weight="normal" fill="#262626" stroke="#262626" stroke-width="0.22" >-0.5</text>
<text x="415.3" y="101.9" font-size="9.8" text-anchor="end" font-weight="normal" fill="#262626" stroke="#262626" stroke-width="0.22" >0</text>
<text x="415.3" y="58.9" font-size="9.8" text-anchor="end" font-weight="normal" fill="#262626" stroke="#262626" stroke-width="0.22" >0.5</text>
<text x="415.3" y="15.9" font-size="9.8" text-anchor="end" font-weight="normal" fill="#262626" stroke="#262626" stroke-width="0.22" >1</text>
<text x="492.5" y="7.55" font-size="10.3" text-anchor="middle" font-weight="bold" fill="#000" >Source of uncertainty</text>
<text x="493.3" y="168.5" font-size="10.3" text-anchor="middle" font-weight="normal" fill="#262626" stroke="#262626" stroke-width="0.22" >Time (Year)</text>
<text x="0" y="0" font-size="10.45" text-anchor="middle" font-weight="normal" fill="#262626" stroke="#262626" stroke-width="0.22" transform="translate(393.31,77) rotate(-90)">Temperature anomaly (°C)</text>
<g clip-path="url(#cc)">
<polygon points="419.5,106.15 420.72,105.68 421.93,105.21 423.15,104.74 424.37,104.27 425.58,103.8 426.8,103.33 428.02,102.86 429.23,102.39 430.45,101.92 431.67,101.44 432.88,100.97 434.1,100.5 435.32,100.03 436.53,99.56 437.75,99.09 438.97,98.62 440.18,98.17 441.4,97.79 442.62,97.41 443.83,97.04 445.05,96.66 446.27,96.29 447.48,95.91 448.7,95.53 449.92,95.16 451.13,94.78 452.35,94.4 453.57,94.03 454.78,93.56 456,93.1 457.22,92.64 458.43,92.18 459.65,91.71 460.87,91.35 462.08,91.01 463.3,90.66 464.52,90.32 465.73,89.98 466.95,89.64 468.17,89.3 469.38,88.65 470.6,88.01 471.82,87.36 473.03,86.72 474.25,86.01 475.47,85.3 476.68,84.59 477.9,83.88 479.12,83.02 480.33,82.16 481.55,81.3 482.77,80.44 483.98,79.69 485.2,78.94 486.42,78.18 487.63,77.43 488.85,76.61 490.07,75.8 491.28,74.98 492.5,74.16 493.72,73.37 494.93,72.57 496.15,71.78 497.37,70.98 498.58,70.09 499.8,69.2 501.02,68.3 502.23,67.41 503.45,66.52 504.67,65.63 505.88,64.73 507.1,63.84 508.32,62.95 509.53,62.06 510.75,61.17 511.97,60.27 513.18,59.38 514.4,58.49 515.62,57.6 516.83,56.7 518.05,55.75 519.27,54.79 520.48,53.84 521.7,52.89 522.92,51.93 524.13,50.98 525.35,50.02 526.57,49.07 527.78,48.11 529,47.16 530.22,46.2 531.43,45.25 532.65,44.29 533.87,43.34 535.08,42.38 536.3,41.43 537.52,40.48 538.73,39.52 539.95,38.57 541.17,37.61 542.38,36.66 543.6,35.7 544.82,34.75 546.03,33.79 547.25,32.84 548.47,31.88 549.68,30.93 550.9,29.98 552.12,29.02 553.33,28.07 554.55,27.11 555.77,26.16 556.98,25.2 558.2,24.25 559.42,23.29 560.63,22.34 561.85,21.38 563.07,20.43 564.28,19.47 565.5,18.52 565.5,78.72 564.28,79.08 563.07,79.44 561.85,79.8 560.63,80.16 559.42,80.52 558.2,80.87 556.98,81.23 555.77,81.59 554.55,81.95 553.33,82.31 552.12,82.67 550.9,83.03 549.68,83.39 548.47,83.75 547.25,84.11 546.03,84.46 544.82,84.82 543.6,85.18 542.38,85.54 541.17,85.9 539.95,86.26 538.73,86.62 537.52,86.98 536.3,87.34 535.08,87.7 533.87,88.06 532.65,88.41 531.43,88.77 530.22,89.13 529,89.49 527.78,89.85 526.57,90.21 525.35,90.57 524.13,90.93 522.92,91.29 521.7,91.65 520.48,92 519.27,92.36 518.05,92.72 516.83,93.08 515.62,93.48 514.4,93.88 513.18,94.28 511.97,94.67 510.75,95.07 509.53,95.47 508.32,95.87 507.1,96.26 505.88,96.66 504.67,97.06 503.45,97.46 502.23,97.86 501.02,98.25 499.8,98.65 498.58,99.05 497.37,99.45 496.15,99.76 494.93,100.07 493.72,100.38 492.5,100.69 491.28,101 490.07,101.32 488.85,101.63 487.63,101.94 486.42,102.5 485.2,103.06 483.98,103.62 482.77,104.18 481.55,104.8 480.33,105.42 479.12,106.05 477.9,106.67 476.68,107.31 475.47,107.96 474.25,108.6 473.03,109.25 471.82,110.13 470.6,111.01 469.38,111.89 468.17,112.77 466.95,113.44 465.73,113.98 464.52,114.52 463.3,115.06 462.08,115.59 460.87,116.13 459.65,116.67 458.43,117.2 457.22,117.74 456,118.28 454.78,118.82 453.57,119.44 452.35,120.19 451.13,120.94 449.92,121.68 448.7,122.43 447.48,123.18 446.27,123.93 445.05,124.68 443.83,125.43 442.62,126.18 441.4,126.92 440.18,127.65 438.97,128.37 437.75,129.08 436.53,129.79 435.32,130.51 434.1,131.22 432.88,131.93 431.67,132.65 430.45,133.36 429.23,134.07 428.02,134.79 426.8,135.5 425.58,136.21 424.37,136.93 423.15,137.64 421.93,138.35 420.72,139.07 419.5,139.78" fill="#f27424" stroke="none" />
<polygon points="419.5,116.99 420.72,116.56 421.93,116.12 423.15,115.69 424.37,115.25 425.58,114.82 426.8,114.38 428.02,113.95 429.23,113.51 430.45,113.08 431.67,112.64 432.88,112.21 434.1,111.77 435.32,111.34 436.53,110.9 437.75,110.47 438.97,110.03 440.18,109.6 441.4,109.14 442.62,108.66 443.83,108.18 445.05,107.69 446.27,107.21 447.48,106.72 448.7,106.24 449.92,105.76 451.13,105.27 452.35,104.79 453.57,104.31 454.78,103.82 456,103.34 457.22,102.85 458.43,102.37 459.65,101.94 460.87,101.51 462.08,101.08 463.3,100.65 464.52,100.22 465.73,99.79 466.95,99.36 468.17,98.93 469.38,98.65 470.6,98.37 471.82,98.09 473.03,97.81 474.25,97.22 475.47,96.63 476.68,96.05 477.9,95.46 479.12,94.87 480.33,94.28 481.55,93.69 482.77,93.1 483.98,92.51 485.2,91.75 486.42,90.95 487.63,90.15 488.85,89.34 490.07,88.54 491.28,87.74 492.5,86.88 493.72,86 494.93,85.13 496.15,84.26 497.37,83.38 498.58,82.51 499.8,81.59 501.02,80.66 502.23,79.64 503.45,78.49 504.67,77.35 505.88,76.21 507.1,75.06 508.32,73.92 509.53,72.77 510.75,71.63 511.97,70.48 513.18,69.34 514.4,68.19 515.62,67.05 516.83,65.91 518.05,64.99 519.27,64.07 520.48,63.16 521.7,62.24 522.92,61.33 524.13,60.41 525.35,59.49 526.57,58.58 527.78,57.66 529,56.75 530.22,55.83 531.43,54.92 532.65,54 533.87,53.08 535.08,52.17 536.3,51.25 537.52,50.34 538.73,49.42 539.95,48.5 541.17,47.59 542.38,46.67 543.6,45.76 544.82,44.84 546.03,43.92 547.25,43.01 548.47,42.09 549.68,41.18 550.9,40.26 552.12,39.34 553.33,38.43 554.55,37.51 555.77,36.6 556.98,35.68 558.2,34.77 559.42,33.85 560.63,32.93 561.85,32.02 563.07,31.1 564.28,30.19 565.5,29.27 565.5,69 564.28,69.34 563.07,69.67 561.85,70.01 560.63,70.34 559.42,70.68 558.2,71.01 556.98,71.35 555.77,71.69 554.55,72.02 553.33,72.36 552.12,72.69 550.9,73.03 549.68,73.36 548.47,73.7 547.25,74.03 546.03,74.37 544.82,74.7 543.6,75.04 542.38,75.37 541.17,75.71 539.95,76.05 538.73,76.38 537.52,76.72 536.3,77.05 535.08,77.39 533.87,77.72 532.65,78.06 531.43,78.39 530.22,78.73 529,79.06 527.78,79.4 526.57,79.73 525.35,80.07 524.13,80.41 522.92,80.74 521.7,81.08 520.48,81.41 519.27,81.75 518.05,82.08 516.83,82.42 515.62,82.98 514.4,83.54 513.18,84.1 511.97,84.67 510.75,85.23 509.53,85.79 508.32,86.35 507.1,86.91 505.88,87.47 504.67,88.04 503.45,88.6 502.23,89.16 501.02,89.6 499.8,89.96 498.58,90.32 497.37,90.67 496.15,91.03 494.93,91.39 493.72,91.75 492.5,92.11 491.28,92.5 490.07,93.05 488.85,93.59 487.63,94.14 486.42,94.68 485.2,95.23 483.98,95.73 482.77,96.09 481.55,96.44 480.33,96.8 479.12,97.15 477.9,97.51 476.68,97.86 475.47,98.22 474.25,98.57 473.03,98.93 471.82,99.57 470.6,100.22 469.38,100.87 468.17,101.51 466.95,102.21 465.73,102.91 464.52,103.61 463.3,104.31 462.08,105 460.87,105.7 459.65,106.4 458.43,107.1 457.22,107.94 456,108.77 454.78,109.61 453.57,110.44 452.35,111.28 451.13,112.12 449.92,112.95 448.7,113.79 447.48,114.63 446.27,115.46 445.05,116.3 443.83,117.13 442.62,117.97 441.4,118.81 440.18,119.46 438.97,120 437.75,120.54 436.53,121.08 435.32,121.61 434.1,122.15 432.88,122.69 431.67,123.23 430.45,123.76 429.23,124.3 428.02,124.84 426.8,125.38 425.58,125.91 424.37,126.45 423.15,126.99 421.93,127.53 420.72,128.06 419.5,128.6" fill="#3a4aa3" stroke="none" />
<polygon points="473.03,98.5 474.2,97.99 475.37,97.49 476.54,96.98 477.72,96.48 478.89,95.97 480.06,95.46 481.23,94.96 482.4,94.45 483.57,93.94 484.74,93.44 485.91,92.93 487.08,92.43 488.25,91.92 489.42,91.41 490.59,90.91 491.76,90.36 492.93,89.63 494.1,88.9 495.27,88.17 496.44,87.44 497.61,86.71 498.78,85.98 499.95,85.25 501.12,84.53 502.29,83.73 503.47,82.86 504.64,82 505.81,81.13 506.98,80.26 508.15,79.39 509.32,78.53 510.49,77.66 511.66,76.79 512.83,75.93 514,75.06 515.17,74.19 516.34,73.32 517.51,72.54 518.68,71.82 519.85,71.11 521.02,70.39 522.19,69.67 523.36,68.95 524.53,68.24 525.7,67.52 526.87,66.8 528.05,66.08 529.22,65.37 530.39,64.65 531.56,63.93 532.73,63.21 533.9,62.49 535.07,61.78 536.24,61.06 537.41,60.34 538.58,59.62 539.75,58.91 540.92,58.19 542.09,57.47 543.26,56.75 544.43,56.03 545.6,55.32 546.77,54.6 547.94,53.88 549.11,53.16 550.28,52.45 551.45,51.73 552.62,51.01 553.8,50.29 554.97,49.58 556.14,48.86 557.31,48.14 558.48,47.42 559.65,46.7 560.82,45.99 561.99,45.27 563.16,44.55 564.33,43.83 565.5,43.12 565.5,55.5 564.33,56.04 563.16,56.58 561.99,57.12 560.82,57.66 559.65,58.2 558.48,58.74 557.31,59.28 556.14,59.82 554.97,60.36 553.8,60.9 552.62,61.44 551.45,61.98 550.28,62.52 549.11,63.06 547.94,63.6 546.77,64.14 545.6,64.68 544.43,65.22 543.26,65.76 542.09,66.3 540.92,66.84 539.75,67.38 538.58,67.92 537.41,68.46 536.24,69 535.07,69.54 533.9,70.08 532.73,70.62 531.56,71.16 530.39,71.7 529.22,72.24 528.05,72.77 526.87,73.31 525.7,73.85 524.53,74.39 523.36,74.93 522.19,75.47 521.02,76.01 519.85,76.55 518.68,77.09 517.51,77.63 516.34,78.25 515.17,78.96 514,79.67 512.83,80.39 511.66,81.1 510.49,81.82 509.32,82.53 508.15,83.24 506.98,83.96 505.81,84.67 504.64,85.39 503.47,86.1 502.29,86.81 501.12,87.41 499.95,87.9 498.78,88.39 497.61,88.89 496.44,89.38 495.27,89.87 494.1,90.36 492.93,90.86 491.76,91.35 490.59,91.81 489.42,92.25 488.25,92.7 487.08,93.14 485.91,93.59 484.74,94.04 483.57,94.48 482.4,94.93 481.23,95.38 480.06,95.82 478.89,96.27 477.72,96.71 476.54,97.16 475.37,97.61 474.2,98.05 473.03,98.5" fill="#128046" stroke="none" />
<line x1="419.5" y1="98.5" x2="565.5" y2="98.5" stroke="#262626" stroke-opacity="0.6" stroke-width="1"/>
<polyline points="472.79,97.47 473.83,96.27 474.87,95.06 475.92,93.86 476.96,92.66 478,91.46 479.04,90.26 480.08,89.05 481.12,87.85 482.17,86.65 483.21,85.45 484.25,84.24 485.29,83.1 486.33,82 487.37,80.91 488.42,79.81 489.46,78.71 490.5,77.62 491.54,76.52 492.58,75.42 493.62,74.33 494.67,73.23 495.71,72.13 496.75,71.15 497.79,70.41 498.83,69.66 499.87,68.91 500.92,68.16 501.96,67.41 503,66.66 504.04,65.91 505.08,65.16 506.12,64.42 507.17,63.67 508.21,62.92 509.25,62.17 510.29,61.42 511.33,60.67 512.37,59.92 513.42,59.18 514.46,58.43 515.5,57.65 516.54,56.83 517.58,56.01 518.62,55.19 519.67,54.37 520.71,53.54 521.75,52.72 522.79,51.9 523.83,51.08 524.87,50.25 525.92,49.43 526.96,48.61 528,47.79 529.04,46.96 530.08,46.14 531.12,45.32 532.17,44.5 533.21,43.67 534.25,42.85 535.29,42.03 536.33,41.21 537.37,40.38 538.42,39.56 539.46,38.74 540.5,37.92 541.54,37.09 542.58,36.27 543.62,35.45 544.67,34.63 545.71,33.8 546.75,32.98 547.79,32.16 548.83,31.34 549.87,30.51 550.92,29.69 551.96,28.87 553,28.05 554.04,27.22 555.08,26.4 556.12,25.58 557.17,24.76 558.21,23.93 559.25,23.11 560.29,22.29 561.33,21.47 562.37,20.64 563.42,19.82 564.46,19 565.5,18.18" fill="none" stroke="#000" stroke-width="1.9" stroke-linejoin="round" stroke-dasharray="1.9 1.85"/>
<polyline points="473.03,97.98 474.07,98.75 475.11,99.51 476.15,100.19 477.19,100.49 478.23,100.79 479.27,101.09 480.31,101.25 481.34,101.25 482.38,101.25 483.42,101.25 484.46,101.22 485.5,101.05 486.54,100.89 487.58,100.73 488.62,100.56 489.66,100.4 490.7,100.23 491.73,100.07 492.77,99.9 493.81,99.73 494.85,99.55 495.89,99.36 496.93,99.18 497.97,99 499.01,98.81 500.05,98.59 501.09,98.25 502.12,97.91 503.16,97.57 504.2,97.23 505.24,96.89 506.28,96.55 507.32,96.2 508.36,95.86 509.4,95.52 510.44,95.18 511.47,94.84 512.51,94.5 513.55,94.16 514.59,93.82 515.63,93.48 516.67,93.14 517.71,92.82 518.75,92.52 519.79,92.21 520.83,91.9 521.86,91.6 522.9,91.29 523.94,90.98 524.98,90.68 526.02,90.37 527.06,90.06 528.1,89.76 529.14,89.45 530.18,89.14 531.21,88.84 532.25,88.53 533.29,88.22 534.33,87.92 535.37,87.61 536.41,87.3 537.45,87 538.49,86.69 539.53,86.39 540.57,86.08 541.6,85.77 542.64,85.47 543.68,85.16 544.72,84.85 545.76,84.55 546.8,84.24 547.84,83.93 548.88,83.63 549.92,83.32 550.95,83.01 551.99,82.71 553.03,82.4 554.07,82.09 555.11,81.79 556.15,81.48 557.19,81.17 558.23,80.87 559.27,80.56 560.31,80.25 561.34,79.95 562.38,79.64 563.42,79.33 564.46,79.03 565.5,78.72" fill="none" stroke="#000" stroke-width="1.9" stroke-linejoin="round" stroke-dasharray="1.9 1.85"/>
</g>
<polyline points="419.5,126.02 424.37,114.5 429.23,106.67 434.1,107.96 438.97,115.96 443.83,101.42 448.7,105.64 453.57,104.52 458.43,115.7 463.3,103.83 468.17,97.81 473.03,107.7 477.9,105.81 482.77,104 487.63,97.38 492.5,86.2 497.37,73.56 502.23,82.42 507.1,89.04 511.97,77 516.83,74.51 521.7,88.01" fill="none" stroke="#222" stroke-width="2.1" stroke-linejoin="round" />
<circle cx="419.5" cy="126.02" r="2.05" fill="#222"/>
<circle cx="424.37" cy="114.5" r="2.05" fill="#222"/>
<circle cx="429.23" cy="106.67" r="2.05" fill="#222"/>
<circle cx="434.1" cy="107.96" r="2.05" fill="#222"/>
<circle cx="438.97" cy="115.96" r="2.05" fill="#222"/>
<circle cx="443.83" cy="101.42" r="2.05" fill="#222"/>
<circle cx="448.7" cy="105.64" r="2.05" fill="#222"/>
<circle cx="453.57" cy="104.52" r="2.05" fill="#222"/>
<circle cx="458.43" cy="115.7" r="2.05" fill="#222"/>
<circle cx="463.3" cy="103.83" r="2.05" fill="#222"/>
<circle cx="468.17" cy="97.81" r="2.05" fill="#222"/>
<circle cx="473.03" cy="107.7" r="2.05" fill="#222"/>
<circle cx="477.9" cy="105.81" r="2.05" fill="#222"/>
<circle cx="482.77" cy="104" r="2.05" fill="#222"/>
<circle cx="487.63" cy="97.38" r="2.05" fill="#222"/>
<circle cx="492.5" cy="86.2" r="2.05" fill="#222"/>
<circle cx="497.37" cy="73.56" r="2.05" fill="#222"/>
<circle cx="502.23" cy="82.42" r="2.05" fill="#222"/>
<circle cx="507.1" cy="89.04" r="2.05" fill="#222"/>
<circle cx="511.97" cy="77" r="2.05" fill="#222"/>
<circle cx="516.83" cy="74.51" r="2.05" fill="#222"/>
<circle cx="521.7" cy="88.01" r="2.05" fill="#222"/>
<rect x="428.0" y="20.7" width="27.69999999999999" height="7.5" fill="#f27424"/>
<line x1="427.5" y1="34.8" x2="455.7" y2="34.8" stroke="#000" stroke-width="1.9" stroke-dasharray="1.9 1.85"/>
<rect x="428.0" y="42.3" width="27.69999999999999" height="7.3" fill="#3a4aa3"/>
<rect x="428.0" y="53.0" width="27.69999999999999" height="7" fill="#128046"/>
<text x="458.8" y="27.5" font-size="8.25" text-anchor="start" font-weight="normal" fill="#000" stroke="#000" stroke-width="0.22" >Internal variability</text>
<text x="458.8" y="38.3" font-size="8.25" text-anchor="start" font-weight="normal" fill="#000" stroke="#000" stroke-width="0.22" >Int. var. constrained</text>
<text x="458.8" y="49" font-size="8.25" text-anchor="start" font-weight="normal" fill="#000" stroke="#000" stroke-width="0.22" >Response</text>
<text x="458.8" y="59.5" font-size="8.25" text-anchor="start" font-weight="normal" fill="#000" stroke="#000" stroke-width="0.22" >Scenario</text>
<text x="548.5" y="132" font-size="8.9" text-anchor="start" font-weight="normal" fill="#000" stroke="#000" stroke-width="0.22" >(c)</text>
<text x="32.5" y="340.7" font-size="9.8" text-anchor="middle" font-weight="normal" fill="#262626" stroke="#262626" stroke-width="0.22" >2000</text>
<text x="81.17" y="340.7" font-size="9.8" text-anchor="middle" font-weight="normal" fill="#262626" stroke="#262626" stroke-width="0.22" >2010</text>
<text x="129.83" y="340.7" font-size="9.8" text-anchor="middle" font-weight="normal" fill="#262626" stroke="#262626" stroke-width="0.22" >2020</text>
<text x="178.5" y="340.7" font-size="9.8" text-anchor="middle" font-weight="normal" fill="#262626" stroke="#262626" stroke-width="0.22" >2030</text>
<text x="28.3" y="330.9" font-size="9.8" text-anchor="end" font-weight="normal" fill="#262626" stroke="#262626" stroke-width="0.22" >-4</text>
<text x="28.3" y="302.23" font-size="9.8" text-anchor="end" font-weight="normal" fill="#262626" stroke="#262626" stroke-width="0.22" >-2</text>
<text x="28.3" y="273.57" font-size="9.8" text-anchor="end" font-weight="normal" fill="#262626" stroke="#262626" stroke-width="0.22" >0</text>
<text x="28.3" y="244.9" font-size="9.8" text-anchor="end" font-weight="normal" fill="#262626" stroke="#262626" stroke-width="0.22" >2</text>
<text x="28.3" y="216.23" font-size="9.8" text-anchor="end" font-weight="normal" fill="#262626" stroke="#262626" stroke-width="0.22" >4</text>
<text x="105.5" y="193" font-size="10.3" text-anchor="middle" font-weight="bold" fill="#000" >North America DJF temperature</text>
<text x="106.3" y="354.5" font-size="10.3" text-anchor="middle" font-weight="normal" fill="#262626" stroke="#262626" stroke-width="0.22" >Time (Year)</text>
<text x="0" y="0" font-size="10.45" text-anchor="middle" font-weight="normal" fill="#262626" stroke="#262626" stroke-width="0.22" transform="translate(14.49,263) rotate(-90)">Temperature anomaly (°C)</text>
<g clip-path="url(#cd)"><polyline points="32.5,257.97 37.37,262.5 42.23,269.02 47.1,272.82 51.97,326.52 56.83,274.61 61.7,259.51 66.57,287.46 71.43,271 76.3,324.46 81.17,257.86 86.03,278.82 90.9,247.66 95.77,309.86 100.63,253.95 105.5,269.03 110.37,252.62 115.23,281.22 120.1,270.28 124.97,222.34 129.83,274.9 134.7,268.87 139.57,267.38 144.43,278.43 149.3,239.74 154.17,226.53 159.03,267.11 163.9,287.4 168.77,225.8 173.63,235.83 178.5,235.78" fill="none" stroke="#b6b6b6" stroke-width="0.7" stroke-linejoin="round" /><polyline points="32.5,287.45 37.37,276.87 42.23,305.31 47.1,308.74 51.97,258.4 56.83,286.19 61.7,239.8 66.57,270.57 71.43,285.51 76.3,254.06 81.17,243.06 86.03,256.96 90.9,288.19 95.77,261.33 100.63,244.38 105.5,274.23 110.37,281.96 115.23,245.42 120.1,255.33 124.97,276.14 129.83,265.3 134.7,269.96 139.57,256.73 144.43,255.02 149.3,240.28 154.17,239.92 159.03,287.48 163.9,241.37 168.77,229.65 173.63,245.71 178.5,232.76" fill="none" stroke="#b6b6b6" stroke-width="0.7" stroke-linejoin="round" /><polyline points="32.5,270.85 37.37,258.27 42.23,297.63 47.1,328.49 51.97,257.77 56.83,287.33 61.7,276.57 66.57,302.36 71.43,301.29 76.3,292.04 81.17,276.37 86.03,258.91 90.9,316.82 95.77,255.18 100.63,290.93 105.5,286.9 110.37,254.61 115.23,263.46 120.1,291.8 124.97,226.12 129.83,275.59 134.7,250.13 139.57,258.42 144.43,235.19 149.3,267.71 154.17,235.51 159.03,267.94 163.9,230.49 168.77,260.09 173.63,260.78 178.5,222.29" fill="none" stroke="#b6b6b6" stroke-width="0.7" stroke-linejoin="round" /><polyline points="32.5,282.25 37.37,243.13 42.23,268.8 47.1,294.52 51.97,262.04 56.83,297.8 61.7,252.48 66.57,252.72 71.43,284.07 76.3,280.08 81.17,266.14 86.03,265.23 90.9,282.55 95.77,258.07 100.63,313.15 105.5,272.98 110.37,274.1 115.23,267.31 120.1,252.38 124.97,279.13 129.83,247.71 134.7,258.03 139.57,275.12 144.43,286.68 149.3,283.93 154.17,245.6 159.03,272.92 163.9,247.39 168.77,227.3 173.63,236.88 178.5,225.95" fill="none" stroke="#b6b6b6" stroke-width="0.7" stroke-linejoin="round" /><polyline points="32.5,290.59 37.37,256.98 42.23,269.69 47.1,259.7 51.97,274.32 56.83,253.58 61.7,256.48 66.57,259.74 71.43,263.85 76.3,260.44 81.17,265.14 86.03,261.4 90.9,245.94 95.77,278.06 100.63,240.18 105.5,266.5 110.37,250.02 115.23,263.75 120.1,262.63 124.97,224.25 129.83,263.88 134.7,282.05 139.57,276.5 144.43,263.17 149.3,228.98 154.17,248.26 159.03,237.42 163.9,269.49 168.77,238.28 173.63,242.24 178.5,223.27" fill="none" stroke="#b6b6b6" stroke-width="0.7" stroke-linejoin="round" /><polyline points="32.5,248.17 37.37,268.23 42.23,296.61 47.1,278.18 51.97,279.59 56.83,328.08 61.7,260.3 66.57,262.53 71.43,281.27 76.3,296.45 81.17,246.69 86.03,260.7 90.9,245.56 95.77,246.1 100.63,276.09 105.5,250.83 110.37,270.83 115.23,263.23 120.1,259.51 124.97,252.91 129.83,239.92 134.7,252.33 139.57,264.97 144.43,262.36 149.3,252.66 154.17,270.49 159.03,262.81 163.9,249.56 168.77,255.83 173.63,255.98 178.5,261.8" fill="none" stroke="#b6b6b6" stroke-width="0.7" stroke-linejoin="round" /><polyline points="32.5,278.72 37.37,265.73 42.23,276.25 47.1,247.73 51.97,268.74 56.83,274.3 61.7,265.21 66.57,266.45 71.43,250.83 76.3,267.85 81.17,240.1 86.03,283.67 90.9,250.34 95.77,288.84 100.63,239.3 105.5,270.89 110.37,267.3 115.23,246.74 120.1,238.03 124.97,276.36 129.83,264.62 134.7,284.94 139.57,259.54 144.43,258.95 149.3,265.53 154.17,265.82 159.03,260.4 163.9,263.73 168.77,235.34 173.63,230.63 178.5,293.89" fill="none" stroke="#b6b6b6" stroke-width="0.7" stroke-linejoin="round" /><polyline points="32.5,265.69 37.37,265.03 42.23,295 47.1,280.6 51.97,296.31 56.83,260.76 61.7,268.83 66.57,275.01 71.43,266.07 76.3,272.23 81.17,303.72 86.03,255.19 90.9,257.01 95.77,270.85 100.63,249.6 105.5,245.11 110.37,289.23 115.23,277.97 120.1,234.42 124.97,230.94 129.83,272.88 134.7,279.72 139.57,274.84 144.43,266.87 149.3,293.88 154.17,251.44 159.03,280.4 163.9,274.41 168.77,229.37 173.63,267.51 178.5,250.93" fill="none" stroke="#b6b6b6" stroke-width="0.7" stroke-linejoin="round" /><polyline points="32.5,306.49 37.37,280.2 42.23,274.42 47.1,294.72 51.97,248.79 56.83,261.49 61.7,293.93 66.57,271.87 71.43,260.5 76.3,259.08 81.17,242.76 86.03,244.13 90.9,272.9 95.77,269.61 100.63,293.33 105.5,259.98 110.37,263.45 115.23,229.45 120.1,256.1 124.97,301.68 129.83,271.43 134.7,252.54 139.57,288.99 144.43,274.88 149.3,265.87 154.17,245.91 159.03,256.02 163.9,266.92 168.77,231.28 173.63,264.45 178.5,259.45" fill="none" stroke="#b6b6b6" stroke-width="0.7" stroke-linejoin="round" /><polyline points="32.5,285.92 37.37,262.47 42.23,311.23 47.1,279.16 51.97,262.3 56.83,280.01 61.7,266.31 66.57,295.54 71.43,252.08 76.3,249.7 81.17,265.1 86.03,305.08 90.9,284.13 95.77,251.86 100.63,240.42 105.5,259.16 110.37,246.45 115.23,274.2 120.1,261.51 124.97,252.86 129.83,250.41 134.7,288.31 139.57,246.5 144.43,236.3 149.3,283.11 154.17,281.38 159.03,246.62 163.9,261.73 168.77,301.31 173.63,240.14 178.5,246.74" fill="none" stroke="#b6b6b6" stroke-width="0.7" stroke-linejoin="round" /><polyline points="32.5,276.14 37.37,271.12 42.23,290.55 47.1,275.96 51.97,296.32 56.83,288.15 61.7,263.79 66.57,282.96 71.43,281.52 76.3,242.63 81.17,255 86.03,251.98 90.9,252.97 95.77,259.43 100.63,243.38 105.5,264.86 110.37,239.33 115.23,281.81 120.1,262.79 124.97,282.82 129.83,264.57 134.7,245.54 139.57,239.72 144.43,270.38 149.3,258.66 154.17,259 159.03,267.86 163.9,273.91 168.77,243.45 173.63,292.72 178.5,247.55" fill="none" stroke="#b6b6b6" stroke-width="0.7" stroke-linejoin="round" /><polyline points="32.5,267.48 37.37,294.79 42.23,305.32 47.1,250.78 51.97,303.56 56.83,249.06 61.7,260.28 66.57,279.02 71.43,297.21 76.3,250.51 81.17,243.82 86.03,284.85 90.9,267.96 95.77,250.81 100.63,259.78 105.5,236.17 110.37,277.56 115.23,252.61 120.1,284.71 124.97,223.65 129.83,272.7 134.7,306.64 139.57,264.43 144.43,259.68 149.3,231.27 154.17,258.59 159.03,253.12 163.9,238.31 168.77,220.64 173.63,254.93 178.5,232.63" fill="none" stroke="#b6b6b6" stroke-width="0.7" stroke-linejoin="round" /><polyline points="32.5,270.27 37.37,272.23 42.23,274.71 47.1,296.77 51.97,255.2 56.83,302.77 61.7,251.9 66.57,256.2 71.43,274.41 76.3,283.07 81.17,273.7 86.03,257.18 90.9,249.59 95.77,262.77 100.63,249.49 105.5,275.57 110.37,261.96 115.23,296.78 120.1,244.97 124.97,250.08 129.83,266.03 134.7,235.97 139.57,250.24 144.43,317.6 149.3,258.02 154.17,283.87 159.03,235.55 163.9,216.05 168.77,254.83 173.63,252.36 178.5,254.4" fill="none" stroke="#b6b6b6" stroke-width="0.7" stroke-linejoin="round" /><polyline points="32.5,267.87 37.37,253.38 42.23,295.82 47.1,254.06 51.97,293.82 56.83,267.67 61.7,252.07 66.57,259.79 71.43,292.12 76.3,281.68 81.17,278.46 86.03,266.45 90.9,243.77 95.77,295.73 100.63,257.57 105.5,253.96 110.37,256.5 115.23,253.85 120.1,234.76 124.97,244.32 129.83,243.57 134.7,244.81 139.57,235.83 144.43,300.51 149.3,238.54 154.17,257.04 159.03,258.29 163.9,268.75 168.77,287.2 173.63,261.18 178.5,263.45" fill="none" stroke="#b6b6b6" stroke-width="0.7" stroke-linejoin="round" /><polyline points="32.5,300.51 37.37,251.57 42.23,270.34 47.1,282.58 51.97,288.87 56.83,288.71 61.7,294.57 66.57,282.75 71.43,272.55 76.3,270.88 81.17,300.19 86.03,270.61 90.9,280.62 95.77,265.01 100.63,238.81 105.5,253.72 110.37,272.26 115.23,298.23 120.1,288.73 124.97,290.67 129.83,245.55 134.7,270.17 139.57,260.9 144.43,269.49 149.3,257.08 154.17,230.3 159.03,266.69 163.9,255.19 168.77,261.05 173.63,239.15 178.5,271.05" fill="none" stroke="#b6b6b6" stroke-width="0.7" stroke-linejoin="round" /><polyline points="32.5,292.96 37.37,304.34 42.23,266.96 47.1,245.21 51.97,295.29 56.83,256.95 61.7,266.12 66.57,295.19 71.43,277.99 76.3,271.96 81.17,283.3 86.03,237.85 90.9,305.84 95.77,261.16 100.63,259.85 105.5,276.04 110.37,263.47 115.23,247.42 120.1,255.1 124.97,245.49 129.83,246.06 134.7,301.7 139.57,239.39 144.43,226.19 149.3,242.63 154.17,235.43 159.03,283.56 163.9,250.82 168.77,261.17 173.63,265.45 178.5,233.66" fill="none" stroke="#b6b6b6" stroke-width="0.7" stroke-linejoin="round" /><polyline points="32.5,296.07 37.37,317.37 42.23,278.25 47.1,276.16 51.97,288.77 56.83,287.23 61.7,243.46 66.57,297.76 71.43,294.71 76.3,284.04 81.17,250.24 86.03,236.21 90.9,256.25 95.77,282.45 100.63,274.16 105.5,247.18 110.37,285.04 115.23,239.7 120.1,235.99 124.97,251.58 129.83,246.79 134.7,241.89 139.57,238.5 144.43,279.1 149.3,239.87 154.17,259.33 159.03,268.5 163.9,246.69 168.77,248.66 173.63,274.32 178.5,285.05" fill="none" stroke="#b6b6b6" stroke-width="0.7" stroke-linejoin="round" /><polyline points="32.5,273.28 37.37,245.71 42.23,264.07 47.1,258.87 51.97,284.75 56.83,274.11 61.7,265.56 66.57,294.71 71.43,293.3 76.3,265.71 81.17,275.56 86.03,287.84 90.9,255.33 95.77,272.99 100.63,249.08 105.5,264.59 110.37,272.01 115.23,259.71 120.1,261.17 124.97,266.33 129.83,265.75 134.7,241.89 139.57,250.94 144.43,236.77 149.3,296.71 154.17,259.69 159.03,260.99 163.9,245.45 168.77,253.45 173.63,263.89 178.5,236.37" fill="none" stroke="#b6b6b6" stroke-width="0.7" stroke-linejoin="round" /><polyline points="32.5,275.2 37.37,252.78 42.23,258.89 47.1,289.25 51.97,260.58 56.83,287.57 61.7,252.51 66.57,276.11 71.43,289.06 76.3,274.76 81.17,284.95 86.03,262 90.9,259 95.77,267.27 100.63,276.85 105.5,325.05 110.37,264.5 115.23,305.43 120.1,253.48 124.97,234.67 129.83,252.96 134.7,262.2 139.57,265.48 144.43,259.56 149.3,269.67 154.17,263.66 159.03,272 163.9,229.6 168.77,244.86 173.63,237.97 178.5,254.38" fill="none" stroke="#b6b6b6" stroke-width="0.7" stroke-linejoin="round" /><polyline points="32.5,294.47 37.37,265.52 42.23,261.37 47.1,273.48 51.97,288.09 56.83,288.55 61.7,245.89 66.57,277.34 71.43,278.27 76.3,245 81.17,251.74 86.03,256.18 90.9,270 95.77,236.46 100.63,258.8 105.5,254.97 110.37,269.46 115.23,292.88 120.1,286.75 124.97,245.67 129.83,250.94 134.7,259.2 139.57,286.96 144.43,288.55 149.3,265.11 154.17,283.89 159.03,237.94 163.9,230.07 168.77,211.96 173.63,239.1 178.5,261.42" fill="none" stroke="#b6b6b6" stroke-width="0.7" stroke-linejoin="round" /><polyline points="32.5,309.13 37.37,285.54 42.23,278.61 47.1,261.88 51.97,263.96 56.83,262.47 61.7,266.78 66.57,260.61 71.43,250.37 76.3,289.88 81.17,278.35 86.03,295.68 90.9,237.89 95.77,247.53 100.63,253.03 105.5,290.04 110.37,263.06 115.23,266.55 120.1,256.41 124.97,256.47 129.83,248.81 134.7,262.31 139.57,247.76 144.43,252.67 149.3,264.41 154.17,254.13 159.03,261.52 163.9,234.9 168.77,249.79 173.63,248.44 178.5,257.24" fill="none" stroke="#b6b6b6" stroke-width="0.7" stroke-linejoin="round" /><polyline points="32.5,290.81 37.37,295.88 42.23,263.62 47.1,270.39 51.97,311.51 56.83,292.26 61.7,280.82 66.57,288.74 71.43,297.81 76.3,254.93 81.17,273.96 86.03,258.64 90.9,270.63 95.77,262.45 100.63,281.04 105.5,264.99 110.37,256.13 115.23,261.22 120.1,266.88 124.97,275.77 129.83,254.84 134.7,248.44 139.57,267.02 144.43,272.7 149.3,249.31 154.17,219.55 159.03,258.72 163.9,242.56 168.77,237.85 173.63,314.3 178.5,247.31" fill="none" stroke="#b6b6b6" stroke-width="0.7" stroke-linejoin="round" /><polyline points="32.5,274.77 37.37,278.54 42.23,291.08 47.1,282 51.97,271.48 56.83,283.79 61.7,271.64 66.57,301.28 71.43,276.97 76.3,254.39 81.17,241.34 86.03,253.45 90.9,257.3 95.77,249.01 100.63,249.11 105.5,239.68 110.37,248.66 115.23,264.28 120.1,253.23 124.97,249.61 129.83,252.47 134.7,250.96 139.57,278 144.43,306.13 149.3,272.28 154.17,298.95 159.03,251.62 163.9,248.5 168.77,282.07 173.63,241.98 178.5,235.11" fill="none" stroke="#b6b6b6" stroke-width="0.7" stroke-linejoin="round" /><polyline points="32.5,275.76 37.37,246.62 42.23,300.96 47.1,260.91 51.97,266.74 56.83,265.26 61.7,255.19 66.57,286.5 71.43,284.48 76.3,284.43 81.17,284.7 86.03,267.35 90.9,293.96 95.77,289.86 100.63,255.77 105.5,265.82 110.37,259.4 115.23,305.24 120.1,273.88 124.97,263.92 129.83,257.29 134.7,266.29 139.57,246.61 144.43,258.13 149.3,258.44 154.17,251.77 159.03,240.81 163.9,257.87 168.77,226.47 173.63,245.64 178.5,246.77" fill="none" stroke="#b6b6b6" stroke-width="0.7" stroke-linejoin="round" /><polyline points="32.5,245.1 37.37,257.05 42.23,259.62 47.1,271.13 51.97,259.91 56.83,270.49 61.7,250.82 66.57,272.44 71.43,320.96 76.3,246.57 81.17,267.38 86.03,290.38 90.9,265.98 95.77,286.15 100.63,236.51 105.5,255.77 110.37,300.94 115.23,252.54 120.1,265.68 124.97,225.38 129.83,279.99 134.7,307.76 139.57,260.84 144.43,263.79 149.3,266.91 154.17,302.17 159.03,245.34 163.9,223.66 168.77,288.29 173.63,234.98 178.5,260.9" fill="none" stroke="#b6b6b6" stroke-width="0.7" stroke-linejoin="round" /><polyline points="32.5,278.79 37.37,277.24 42.23,257.38 47.1,268.64 51.97,286.35 56.83,260.55 61.7,280.75 66.57,312.42 71.43,244.03 76.3,274.29 81.17,281.54 86.03,259.44 90.9,296.7 95.77,297.25 100.63,275.65 105.5,274.78 110.37,264.88 115.23,243.95 120.1,267.23 124.97,244.24 129.83,247.5 134.7,277.43 139.57,257.91 144.43,276.59 149.3,241.46 154.17,244 159.03,252.57 163.9,277.56 168.77,242.44 173.63,269.35 178.5,237.54" fill="none" stroke="#b6b6b6" stroke-width="0.7" stroke-linejoin="round" /><polyline points="32.5,277.39 37.37,258.33 42.23,262.96 47.1,289.66 51.97,255.89 56.83,278.42 61.7,276.63 66.57,269.67 71.43,287.95 76.3,276.17 81.17,272.41 86.03,242.22 90.9,239.28 95.77,272.9 100.63,241.57 105.5,265.3 110.37,259.44 115.23,247.34 120.1,252.65 124.97,220.92 129.83,253.5 134.7,280.12 139.57,241.54 144.43,265.1 149.3,264.63 154.17,312.58 159.03,236.47 163.9,234.83 168.77,231.11 173.63,237.65 178.5,224.47" fill="none" stroke="#b6b6b6" stroke-width="0.7" stroke-linejoin="round" /><polyline points="32.5,303.29 37.37,288.76 42.23,282.11 47.1,260.63 51.97,267.58 56.83,301.48 61.7,264.21 66.57,275.43 71.43,289.41 76.3,259.83 81.17,277.27 86.03,300.27 90.9,285.66 95.77,241.96 100.63,299.14 105.5,260.45 110.37,255.68 115.23,251.06 120.1,284.09 124.97,259.1 129.83,255.32 134.7,241.12 139.57,275 144.43,281.74 149.3,242.32 154.17,234.16 159.03,246.29 163.9,260.75 168.77,237.36 173.63,251.73 178.5,235.55" fill="none" stroke="#b6b6b6" stroke-width="0.7" stroke-linejoin="round" /><polyline points="32.5,254.5 37.37,276.68 42.23,298.67 47.1,273.91 51.97,273.88 56.83,280.68 61.7,263.63 66.57,302.88 71.43,273.67 76.3,259.88 81.17,264.25 86.03,248.03 90.9,287.8 95.77,301.11 100.63,261.45 105.5,256.47 110.37,236.76 115.23,251.41 120.1,275.89 124.97,239.31 129.83,275.25 134.7,287.22 139.57,229.45 144.43,251.2 149.3,246.58 154.17,242.23 159.03,226.46 163.9,243.47 168.77,225.19 173.63,275.24 178.5,279.86" fill="none" stroke="#b6b6b6" stroke-width="0.7" stroke-linejoin="round" /><polyline points="32.5,289.44 37.37,264.73 42.23,271.14 47.1,274.79 51.97,288.41 56.83,249.28 61.7,259.35 66.57,263.09 71.43,265.97 76.3,250.43 81.17,260.52 86.03,252.85 90.9,287.03 95.77,259.01 100.63,235.72 105.5,274.75 110.37,268.65 115.23,247.21 120.1,242.11 124.97,242.12 129.83,293.89 134.7,245.81 139.57,287.24 144.43,273.93 149.3,249.22 154.17,257.73 159.03,239.26 163.9,215.97 168.77,231.44 173.63,241.44 178.5,268.07" fill="none" stroke="#b6b6b6" stroke-width="0.7" stroke-linejoin="round" /><polyline points="32.5,297.24 37.37,284.22 42.23,298.25 47.1,291.09 51.97,278.51 56.83,293.54 61.7,301.6 66.57,301.46 71.43,264.66 76.3,266.4 81.17,252.6 86.03,248.47 90.9,268.8 95.77,256.45 100.63,297.26 105.5,233.6 110.37,247.13 115.23,266.16 120.1,282.6 124.97,246.12 129.83,300.56 134.7,270.48 139.57,249.36 144.43,255.64 149.3,268.44 154.17,236.33 159.03,274.65 163.9,243.46 168.77,254.4 173.63,271.14 178.5,241.43" fill="none" stroke="#b6b6b6" stroke-width="0.7" stroke-linejoin="round" /><polyline points="32.5,275.71 37.37,285.32 42.23,247.02 47.1,300.88 51.97,264.05 56.83,298.23 61.7,299.67 66.57,269.03 71.43,261.06 76.3,294.88 81.17,250.43 86.03,281.78 90.9,259.79 95.77,261.18 100.63,255.49 105.5,305.22 110.37,241.91 115.23,252.29 120.1,266.23 124.97,274.31 129.83,295.88 134.7,284.11 139.57,252.56 144.43,263.65 149.3,282.7 154.17,262.46 159.03,229.21 163.9,254.99 168.77,256.22 173.63,232.65 178.5,241.45" fill="none" stroke="#b6b6b6" stroke-width="0.7" stroke-linejoin="round" /><polyline points="32.5,274.39 37.37,307.98 42.23,300.12 47.1,287.29 51.97,278.72 56.83,266.31 61.7,261.05 66.57,267.9 71.43,268.66 76.3,288.54 81.17,319.9 86.03,275.81 90.9,282.01 95.77,281.04 100.63,271.07 105.5,291.12 110.37,289.66 115.23,263.95 120.1,255.77 124.97,266.07 129.83,249.17 134.7,258.8 139.57,283.38 144.43,256.28 149.3,231.6 154.17,265.62 159.03,234.19 163.9,227.15 168.77,221.67 173.63,270.58 178.5,221.11" fill="none" stroke="#b6b6b6" stroke-width="0.7" stroke-linejoin="round" /><polyline points="32.5,262.63 37.37,278.07 42.23,264.84 47.1,276.87 51.97,277.89 56.83,252.43 61.7,285.29 66.57,293.81 71.43,259.29 76.3,255.5 81.17,251.66 86.03,288.04 90.9,244.66 95.77,259.47 100.63,239.88 105.5,291.23 110.37,262.25 115.23,267.4 120.1,293.17 124.97,267.34 129.83,239.74 134.7,263.83 139.57,276.69 144.43,242.54 149.3,242.52 154.17,235.81 159.03,268.99 163.9,249.67 168.77,227.74 173.63,266.93 178.5,264.8" fill="none" stroke="#b6b6b6" stroke-width="0.7" stroke-linejoin="round" /><polyline points="32.5,271.89 37.37,298.1 42.23,335.8 47.1,309.55 51.97,295.68 56.83,275.27 61.7,260.03 66.57,274.72 71.43,286.81 76.3,264.7 81.17,289.36 86.03,266.37 90.9,275.07 95.77,235.32 100.63,252.05 105.5,281.61 110.37,287.01 115.23,270.65 120.1,294.6 124.97,267.69 129.83,272.87 134.7,239.88 139.57,270.41 144.43,273.17 149.3,287.75 154.17,277.04 159.03,254.13 163.9,252.69 168.77,226.31 173.63,266.35 178.5,232.36" fill="none" stroke="#b6b6b6" stroke-width="0.7" stroke-linejoin="round" /><polyline points="32.5,296.92 37.37,320.1 42.23,303 47.1,265.23 51.97,252.85 56.83,268.91 61.7,257.75 66.57,279.91 71.43,279.89 76.3,280.84 81.17,253.33 86.03,259.37 90.9,266.68 95.77,274.29 100.63,256.1 105.5,258.7 110.37,283.26 115.23,236.66 120.1,253.26 124.97,252.69 129.83,235.25 134.7,237.86 139.57,263.71 144.43,247.69 149.3,281.25 154.17,264.88 159.03,306.42 163.9,229.17 168.77,288 173.63,242.08 178.5,266.61" fill="none" stroke="#b6b6b6" stroke-width="0.7" stroke-linejoin="round" /><polyline points="32.5,295.05 37.37,268.86 42.23,264.67 47.1,251.83 51.97,268.13 56.83,257.98 61.7,282.61 66.57,259.78 71.43,269.86 76.3,276.61 81.17,271.17 86.03,266.66 90.9,258.72 95.77,260.81 100.63,275.84 105.5,279.52 110.37,253.53 115.23,300.1 120.1,270.27 124.97,229.34 129.83,318.46 134.7,268.59 139.57,250.3 144.43,293.88 149.3,226.15 154.17,312.58 159.03,230.73 163.9,224.99 168.77,229.37 173.63,257.98 178.5,243.21" fill="none" stroke="#b6b6b6" stroke-width="0.7" stroke-linejoin="round" /><polyline points="32.5,277.05 37.37,297.33 42.23,280.51 47.1,261.48 51.97,298.06 56.83,279.74 61.7,267.65 66.57,300.97 71.43,254 76.3,261.41 81.17,302.74 86.03,266.37 90.9,277.99 95.77,281.15 100.63,264.36 105.5,278.84 110.37,250.32 115.23,276.29 120.1,241.76 124.97,253.7 129.83,243.59 134.7,265.34 139.57,272.04 144.43,281.48 149.3,248.73 154.17,236.51 159.03,223.43 163.9,228.26 168.77,240.05 173.63,257.77 178.5,242.68" fill="none" stroke="#b6b6b6" stroke-width="0.7" stroke-linejoin="round" /><polyline points="32.5,258.72 37.37,258.07 42.23,292.4 47.1,291.69 51.97,253.23 56.83,267.13 61.7,275.09 66.57,252.99 71.43,280.22 76.3,272.89 81.17,278.43 86.03,310.65 90.9,247.76 95.77,293.73 100.63,277.1 105.5,279.59 110.37,253.85 115.23,263.34 120.1,257.61 124.97,290.48 129.83,259.54 134.7,286.98 139.57,256.54 144.43,250.5 149.3,259.08 154.17,223.28 159.03,243.67 163.9,238.27 168.77,241.96 173.63,257.42 178.5,233.67" fill="none" stroke="#b6b6b6" stroke-width="0.7" stroke-linejoin="round" /><polyline points="32.5,314.33 37.37,256.5 42.23,266.26 47.1,261.98 51.97,266.32 56.83,299.31 61.7,295.59 66.57,245.39 71.43,268.1 76.3,298.4 81.17,263.15 86.03,272.53 90.9,304.14 95.77,322.33 100.63,301.39 105.5,259.59 110.37,267.11 115.23,266.84 120.1,252.77 124.97,242.49 129.83,306.96 134.7,260.41 139.57,279.01 144.43,283.42 149.3,269.62 154.17,254.34 159.03,258 163.9,280.42 168.77,254.09 173.63,225.27 178.5,271.72" fill="none" stroke="#b6b6b6" stroke-width="0.7" stroke-linejoin="round" /></g>
<g clip-path="url(#cd)"><polyline points="95.77,255.24 100.63,252.11 105.5,255.78 110.37,290.7 115.23,247.98 120.1,279.46 124.97,287.06 129.83,274.03 134.7,262.81 139.57,247.76" fill="none" stroke="#6c70c6" stroke-width="0.75" stroke-linejoin="round" /><polyline points="95.77,276.41 100.63,246.8 105.5,262.7 110.37,250.65 115.23,296.72 120.1,299.04 124.97,248.5 129.83,292.78 134.7,266.72 139.57,262.31" fill="none" stroke="#6c70c6" stroke-width="0.75" stroke-linejoin="round" /><polyline points="95.77,264.73 100.63,240.38 105.5,327.15 110.37,250.84 115.23,232.8 120.1,262.37 124.97,262.48 129.83,248.56 134.7,233.06 139.57,286.66" fill="none" stroke="#6c70c6" stroke-width="0.75" stroke-linejoin="round" /><polyline points="95.77,292.29 100.63,252.73 105.5,261.24 110.37,254.37 115.23,273.55 120.1,261.89 124.97,276.13 129.83,275.27 134.7,263.46 139.57,263.19" fill="none" stroke="#6c70c6" stroke-width="0.75" stroke-linejoin="round" /><polyline points="95.77,265.62 100.63,265.48 105.5,295.48 110.37,247.63 115.23,280.76 120.1,253.59 124.97,262.44 129.83,256.69 134.7,257.44 139.57,272.29" fill="none" stroke="#6c70c6" stroke-width="0.75" stroke-linejoin="round" /><polyline points="95.77,264.95 100.63,317.75 105.5,263 110.37,258.15 115.23,287.91 120.1,293.7 124.97,231.16 129.83,268.9 134.7,230.49 139.57,250.69" fill="none" stroke="#6c70c6" stroke-width="0.75" stroke-linejoin="round" /><polyline points="95.77,260.27 100.63,251.48 105.5,244.67 110.37,258.13 115.23,262.23 120.1,259.49 124.97,240.2 129.83,247.14 134.7,282.4 139.57,273.63" fill="none" stroke="#6c70c6" stroke-width="0.75" stroke-linejoin="round" /><polyline points="95.77,249.36 100.63,270.44 105.5,284.88 110.37,271.35 115.23,257.2 120.1,245.87 124.97,261.93 129.83,231.24 134.7,262.17 139.57,226.53" fill="none" stroke="#6c70c6" stroke-width="0.75" stroke-linejoin="round" /><polyline points="95.77,329.3 100.63,273.06 105.5,327.15 110.37,269.18 115.23,261.6 120.1,234.21 124.97,293.23 129.83,232.95 134.7,265.69 139.57,247.6" fill="none" stroke="#6c70c6" stroke-width="0.75" stroke-linejoin="round" /><polyline points="95.77,266.83 100.63,269.75 105.5,252.14 110.37,264.38 115.23,290.11 120.1,246.59 124.97,249.79 129.83,250.67 134.7,243.52 139.57,241.9" fill="none" stroke="#6c70c6" stroke-width="0.75" stroke-linejoin="round" /><polyline points="95.77,235.41 100.63,294.08 105.5,242.37 110.37,253.55 115.23,263.03 120.1,271.68 124.97,261.5 129.83,260.92 134.7,267.46 139.57,275.05" fill="none" stroke="#6c70c6" stroke-width="0.75" stroke-linejoin="round" /><polyline points="95.77,245.16 100.63,275.4 105.5,293.39 110.37,281.39 115.23,252.25 120.1,249.49 124.97,266.45 129.83,260.4 134.7,266.8 139.57,284.68" fill="none" stroke="#6c70c6" stroke-width="0.75" stroke-linejoin="round" /><polyline points="95.77,268.26 100.63,229.15 105.5,280.22 110.37,268.83 115.23,249.7 120.1,267.71 124.97,293.43 129.83,281.85 134.7,258.75 139.57,254.02" fill="none" stroke="#6c70c6" stroke-width="0.75" stroke-linejoin="round" /><polyline points="95.77,298.35 100.63,245.91 105.5,258.26 110.37,265.61 115.23,270.02 120.1,252.87 124.97,246.28 129.83,260.23 134.7,252.44 139.57,266.91" fill="none" stroke="#6c70c6" stroke-width="0.75" stroke-linejoin="round" /><polyline points="95.77,263.94 100.63,249.37 105.5,256.08 110.37,241.23 115.23,263.9 120.1,247.83 124.97,240.58 129.83,244.45 134.7,273.31 139.57,264.04" fill="none" stroke="#6c70c6" stroke-width="0.75" stroke-linejoin="round" /><polyline points="95.77,266.02 100.63,254.17 105.5,246.88 110.37,275.97 115.23,235.84 120.1,268.65 124.97,266.13 129.83,266.14 134.7,275.55 139.57,252.71" fill="none" stroke="#6c70c6" stroke-width="0.75" stroke-linejoin="round" /><polyline points="95.77,253.44 100.63,251.93 105.5,254.53 110.37,270.53 115.23,296.99 120.1,264.58 124.97,280.24 129.83,245.08 134.7,261.27 139.57,234.6" fill="none" stroke="#6c70c6" stroke-width="0.75" stroke-linejoin="round" /><polyline points="95.77,280.92 100.63,258.49 105.5,260.32 110.37,254.47 115.23,249.1 120.1,277.75 124.97,253.15 129.83,227.53 134.7,262.43 139.57,265.49" fill="none" stroke="#6c70c6" stroke-width="0.75" stroke-linejoin="round" /><polyline points="95.77,257.66 100.63,243.11 105.5,263.09 110.37,260.54 115.23,237.18 120.1,228.97 124.97,281.14 129.83,243.57 134.7,249.51 139.57,253.03" fill="none" stroke="#6c70c6" stroke-width="0.75" stroke-linejoin="round" /><polyline points="95.77,268.11 100.63,237.92 105.5,253.21 110.37,259.69 115.23,244.43 120.1,247.31 124.97,253.65 129.83,255.27 134.7,233.83 139.57,251.09" fill="none" stroke="#6c70c6" stroke-width="0.75" stroke-linejoin="round" /><polyline points="95.77,245.56 100.63,269.7 105.5,287.06 110.37,264.02 115.23,260.11 120.1,312.19 124.97,261.7 129.83,249.77 134.7,257.47 139.57,280.92" fill="none" stroke="#6c70c6" stroke-width="0.75" stroke-linejoin="round" /><polyline points="95.77,269.9 100.63,290.03 105.5,287.82 110.37,266.36 115.23,248.17 120.1,243.4 124.97,258.11 129.83,287.74 134.7,274.34 139.57,279.59" fill="none" stroke="#6c70c6" stroke-width="0.75" stroke-linejoin="round" /><polyline points="95.77,275.72 100.63,260.68 105.5,252.72 110.37,269.03 115.23,256.54 120.1,283.01 124.97,295.15 129.83,274.64 134.7,241.38 139.57,242.91" fill="none" stroke="#6c70c6" stroke-width="0.75" stroke-linejoin="round" /><polyline points="95.77,267.45 100.63,269.34 105.5,240.3 110.37,257.31 115.23,274.18 120.1,248.9 124.97,278.48 129.83,281.52 134.7,293.63 139.57,255.54" fill="none" stroke="#6c70c6" stroke-width="0.75" stroke-linejoin="round" /><polyline points="95.77,255.42 100.63,271.15 105.5,241.24 110.37,274.74 115.23,280.19 120.1,242.32 124.97,239.3 129.83,255.1 134.7,301.38 139.57,272.83" fill="none" stroke="#6c70c6" stroke-width="0.75" stroke-linejoin="round" /><polyline points="95.77,290.76 100.63,238.36 105.5,295.05 110.37,254.07 115.23,278.02 120.1,241.29 124.97,263.58 129.83,243.92 134.7,274.18 139.57,292.28" fill="none" stroke="#6c70c6" stroke-width="0.75" stroke-linejoin="round" /><polyline points="95.77,257.5 100.63,285.1 105.5,244.38 110.37,244.38 115.23,259.87 120.1,285.32 124.97,264.43 129.83,275.76 134.7,237.45 139.57,254.51" fill="none" stroke="#6c70c6" stroke-width="0.75" stroke-linejoin="round" /><polyline points="95.77,286.13 100.63,311.14 105.5,280.56 110.37,290.63 115.23,258.13 120.1,260.98 124.97,279.11 129.83,269.26 134.7,236.06 139.57,281.09" fill="none" stroke="#6c70c6" stroke-width="0.75" stroke-linejoin="round" /><polyline points="95.77,273.27 100.63,277.49 105.5,272.98 110.37,256.5 115.23,238.43 120.1,304.61 124.97,262.47 129.83,260.6 134.7,262.32 139.57,264.09" fill="none" stroke="#6c70c6" stroke-width="0.75" stroke-linejoin="round" /><polyline points="95.77,288.16 100.63,272.33 105.5,266.76 110.37,266.13 115.23,262.92 120.1,266.2 124.97,245.09 129.83,261.56 134.7,257.38 139.57,261.39" fill="none" stroke="#6c70c6" stroke-width="0.75" stroke-linejoin="round" /><polyline points="95.77,268.47 100.63,285.71 105.5,260.62 110.37,281.11 115.23,288.13 120.1,258.35 124.97,252.59 129.83,302.67 134.7,234.61 139.57,259.77" fill="none" stroke="#6c70c6" stroke-width="0.75" stroke-linejoin="round" /><polyline points="95.77,233.33 100.63,261.49 105.5,276.79 110.37,234.84 115.23,288.45 120.1,264.74 124.97,247.38 129.83,284.75 134.7,262.68 139.57,253.26" fill="none" stroke="#6c70c6" stroke-width="0.75" stroke-linejoin="round" /><polyline points="95.77,258.91 100.63,263.76 105.5,252.52 110.37,264.57 115.23,291.61 120.1,255.32 124.97,260.06 129.83,253.23 134.7,241.76 139.57,243.17" fill="none" stroke="#6c70c6" stroke-width="0.75" stroke-linejoin="round" /><polyline points="95.77,259.04 100.63,286.89 105.5,266.9 110.37,261.97 115.23,273.11 120.1,260.96 124.97,279.66 129.83,237.17 134.7,229.79 139.57,268.28" fill="none" stroke="#6c70c6" stroke-width="0.75" stroke-linejoin="round" /><polyline points="95.77,263.94 100.63,242.09 105.5,256.28 110.37,264.64 115.23,269.42 120.1,260.42 124.97,283.79 129.83,249.38 134.7,275.68 139.57,250.71" fill="none" stroke="#6c70c6" stroke-width="0.75" stroke-linejoin="round" /><polyline points="95.77,260.4 100.63,263.16 105.5,246.9 110.37,285.95 115.23,254.05 120.1,267.28 124.97,258.44 129.83,260.02 134.7,244.6 139.57,308.94" fill="none" stroke="#6c70c6" stroke-width="0.75" stroke-linejoin="round" /><polyline points="95.77,273.2 100.63,242.86 105.5,311.47 110.37,287.89 115.23,303.87 120.1,237.35 124.97,290.91 129.83,259.22 134.7,271.71 139.57,302.74" fill="none" stroke="#6c70c6" stroke-width="0.75" stroke-linejoin="round" /><polyline points="95.77,279.27 100.63,266.47 105.5,248.11 110.37,273.43 115.23,264.85 120.1,270.62 124.97,255.74 129.83,233.02 134.7,253.97 139.57,256.72" fill="none" stroke="#6c70c6" stroke-width="0.75" stroke-linejoin="round" /><polyline points="95.77,291.01 100.63,239.48 105.5,288.66 110.37,285.73 115.23,266.89 120.1,271.5 124.97,233.14 129.83,320.18 134.7,253.99 139.57,247.78" fill="none" stroke="#6c70c6" stroke-width="0.75" stroke-linejoin="round" /><polyline points="95.77,270.34 100.63,254.89 105.5,238.9 110.37,285.9 115.23,301.33 120.1,246.21 124.97,238.02 129.83,268.14 134.7,314.89 139.57,237.19" fill="none" stroke="#6c70c6" stroke-width="0.75" stroke-linejoin="round" /></g>
<line x1="32.5" y1="270.5" x2="178.5" y2="270.5" stroke="#262626" stroke-opacity="0.65" stroke-width="1"/>
<polyline points="32.5,278.77 37.37,275.9 42.23,277.48 47.1,280.06 51.97,276.76 56.83,274.9 61.7,272.89 66.57,274.18 71.43,274.9 76.3,269.74 81.17,271.6 86.03,267.73 90.9,264.43 95.77,270.17 100.63,268.02 105.5,266.73 110.37,268.45 115.23,264.29 120.1,260.13 124.97,255.12 129.83,260.13 134.7,256.84 139.57,264.29 144.43,259.27 149.3,260.99 154.17,254.26 159.03,255.12 163.9,250.82 168.77,246.8 173.63,255.98 178.5,251.82" fill="none" stroke="#1a1a1a" stroke-width="1.25" stroke-linejoin="round" />
<polyline points="95.77,268.73 100.63,265.15 105.5,266.58 110.37,268.45 115.23,267.3 120.1,265.15 124.97,264.43 129.83,263.72 134.7,263 139.57,262.71" fill="none" stroke="#2f4fb0" stroke-width="2.0" stroke-linejoin="round" />
<polyline points="32.5,257.08 37.37,285.89 42.23,260.78 47.1,270.31 51.97,275.47 56.83,278.05 61.7,250.53 66.57,262.43 71.43,283.93 76.3,283.28 81.17,267.08 86.03,272.32 90.9,250.1 95.77,269.74 100.63,296.11 105.5,276.9 110.37,245.94 115.23,254.26 120.1,275.18 124.97,277.76 129.83,259.85 134.7,255.12" fill="none" stroke="#111" stroke-width="2.1" stroke-linejoin="round" />
<circle cx="32.5" cy="257.08" r="2.0" fill="#111"/>
<circle cx="37.37" cy="285.89" r="2.0" fill="#111"/>
<circle cx="42.23" cy="260.78" r="2.0" fill="#111"/>
<circle cx="47.1" cy="270.31" r="2.0" fill="#111"/>
<circle cx="51.97" cy="275.47" r="2.0" fill="#111"/>
<circle cx="56.83" cy="278.05" r="2.0" fill="#111"/>
<circle cx="61.7" cy="250.53" r="2.0" fill="#111"/>
<circle cx="66.57" cy="262.43" r="2.0" fill="#111"/>
<circle cx="71.43" cy="283.93" r="2.0" fill="#111"/>
<circle cx="76.3" cy="283.28" r="2.0" fill="#111"/>
<circle cx="81.17" cy="267.08" r="2.0" fill="#111"/>
<circle cx="86.03" cy="272.32" r="2.0" fill="#111"/>
<circle cx="90.9" cy="250.1" r="2.0" fill="#111"/>
<circle cx="95.77" cy="269.74" r="2.0" fill="#111"/>
<circle cx="100.63" cy="296.11" r="2.0" fill="#111"/>
<circle cx="105.5" cy="276.9" r="2.0" fill="#111"/>
<circle cx="110.37" cy="245.94" r="2.0" fill="#111"/>
<circle cx="115.23" cy="254.26" r="2.0" fill="#111"/>
<circle cx="120.1" cy="275.18" r="2.0" fill="#111"/>
<circle cx="124.97" cy="277.76" r="2.0" fill="#111"/>
<circle cx="129.83" cy="259.85" r="2.0" fill="#111"/>
<circle cx="134.7" cy="255.12" r="2.0" fill="#111"/>
<line x1="41.2" y1="210.5" x2="68.7" y2="210.5" stroke="#555" stroke-width="1"/>
<line x1="41.2" y1="221.2" x2="68.7" y2="221.2" stroke="#2f4fb0" stroke-width="2"/>
<line x1="41.2" y1="231.8" x2="68.7" y2="231.8" stroke="#111" stroke-width="2"/>
<circle cx="54.95" cy="231.8" r="1.6" fill="#111"/>
<text x="71.8" y="214" font-size="8.25" text-anchor="start" font-weight="normal" fill="#000" stroke="#000" stroke-width="0.22" >CESM1-LE</text>
<text x="71.8" y="224.9" font-size="8.25" text-anchor="start" font-weight="normal" fill="#000" stroke="#000" stroke-width="0.22" >CESM1-DPLE</text>
<text x="71.8" y="235.5" font-size="8.25" text-anchor="start" font-weight="normal" fill="#000" stroke="#000" stroke-width="0.22" >Observations</text>
<text x="161.5" y="318" font-size="8.9" text-anchor="start" font-weight="normal" fill="#000" stroke="#000" stroke-width="0.22" >(d)</text>
<text x="225.5" y="340.7" font-size="9.8" text-anchor="middle" font-weight="normal" fill="#262626" stroke="#262626" stroke-width="0.22" >1</text>
<text x="241.72" y="340.7" font-size="9.8" text-anchor="middle" font-weight="normal" fill="#262626" stroke="#262626" stroke-width="0.22" >2</text>
<text x="257.94" y="340.7" font-size="9.8" text-anchor="middle" font-weight="normal" fill="#262626" stroke="#262626" stroke-width="0.22" >3</text>
<text x="274.17" y="340.7" font-size="9.8" text-anchor="middle" font-weight="normal" fill="#262626" stroke="#262626" stroke-width="0.22" >4</text>
<text x="290.39" y="340.7" font-size="9.8" text-anchor="middle" font-weight="normal" fill="#262626" stroke="#262626" stroke-width="0.22" >5</text>
<text x="306.61" y="340.7" font-size="9.8" text-anchor="middle" font-weight="normal" fill="#262626" stroke="#262626" stroke-width="0.22" >6</text>
<text x="322.83" y="340.7" font-size="9.8" text-anchor="middle" font-weight="normal" fill="#262626" stroke="#262626" stroke-width="0.22" >7</text>
<text x="339.06" y="340.7" font-size="9.8" text-anchor="middle" font-weight="normal" fill="#262626" stroke="#262626" stroke-width="0.22" >8</text>
<text x="355.28" y="340.7" font-size="9.8" text-anchor="middle" font-weight="normal" fill="#262626" stroke="#262626" stroke-width="0.22" >9</text>
<text x="371.5" y="340.7" font-size="9.8" text-anchor="middle" font-weight="normal" fill="#262626" stroke="#262626" stroke-width="0.22" >10</text>
<text x="221.3" y="330.9" font-size="9.8" text-anchor="end" font-weight="normal" fill="#262626" stroke="#262626" stroke-width="0.22" >0.8</text>
<text x="221.3" y="305.1" font-size="9.8" text-anchor="end" font-weight="normal" fill="#262626" stroke="#262626" stroke-width="0.22" >1</text>
<text x="221.3" y="279.3" font-size="9.8" text-anchor="end" font-weight="normal" fill="#262626" stroke="#262626" stroke-width="0.22" >1.2</text>
<text x="221.3" y="253.5" font-size="9.8" text-anchor="end" font-weight="normal" fill="#262626" stroke="#262626" stroke-width="0.22" >1.4</text>
<text x="221.3" y="227.7" font-size="9.8" text-anchor="end" font-weight="normal" fill="#262626" stroke="#262626" stroke-width="0.22" >1.6</text>
<text x="221.3" y="201.9" font-size="9.8" text-anchor="end" font-weight="normal" fill="#262626" stroke="#262626" stroke-width="0.22" >1.8</text>
<text x="298.5" y="193" font-size="10.3" text-anchor="middle" font-weight="bold" fill="#000" >Influence of initialization</text>
<text x="299.3" y="354.5" font-size="10.3" text-anchor="middle" font-weight="normal" fill="#262626" stroke="#262626" stroke-width="0.22" >Lead time (Years)</text>
<text x="0" y="0" font-size="10.45" text-anchor="middle" font-weight="normal" fill="#262626" stroke="#262626" stroke-width="0.22" transform="translate(202.58,263) rotate(-90)">Ensemble spread, <tspan font-style="italic" font-family="Liberation Serif">σ</tspan> (°C)</text>
<g clip-path="url(#ce)">
<rect x="225.5" y="222.49" width="146.0" height="94.04" fill="#e6e6e6"/>
<rect x="225.5" y="248.81" width="146.0" height="59.34" fill="#bdbdbd"/>
<line x1="225.5" y1="280.5" x2="371.5" y2="280.5" stroke="#333" stroke-width="1"/>
<polygon points="225.5,237.2 241.72,226.88 257.94,211.4 274.17,215.27 290.39,239.78 306.61,221.72 322.83,232.04 339.06,228.17 355.28,224.3 371.5,230.75 371.5,318.47 355.28,322.34 339.06,314.6 322.83,310.73 306.61,317.18 290.39,314.6 274.17,308.15 257.94,306.86 241.72,309.44 225.5,318.47" fill="rgb(175,171,223)" stroke="none" fill-opacity="0.476"/>
<polygon points="225.5,246.23 241.72,243.65 257.94,238.49 274.17,247.52 290.39,242.36 306.61,233.33 322.83,237.2 339.06,242.36 355.28,237.2 371.5,243.65 371.5,308.15 355.28,310.73 339.06,304.28 322.83,301.7 306.61,305.57 290.39,302.99 274.17,297.83 257.94,299.12 241.72,300.41 225.5,310.73" fill="rgb(124,116,197)" stroke="none" fill-opacity="0.48"/>
<polyline points="225.5,279.77 241.72,270.09 257.94,270.74 274.17,273.32 290.39,275.9 306.61,273.32 322.83,271.38 339.06,275.9 355.28,277.19 371.5,275.25" fill="none" stroke="#2f4fb0" stroke-width="2.0" stroke-linejoin="round" />
</g>
<line x1="257.3" y1="305.5" x2="284.4" y2="305.5" stroke="#333" stroke-width="1"/>
<line x1="257.3" y1="316.0" x2="284.4" y2="316.0" stroke="#2f4fb0" stroke-width="2"/>
<text x="288.1" y="308.1" font-size="8.25" text-anchor="start" font-weight="normal" fill="#000" stroke="#000" stroke-width="0.22" >CESM1-LE</text>
<text x="288.1" y="319" font-size="8.25" text-anchor="start" font-weight="normal" fill="#000" stroke="#000" stroke-width="0.22" >CESM1-DPLE</text>
<text x="354.5" y="318.7" font-size="8.9" text-anchor="start" font-weight="normal" fill="#000" stroke="#000" stroke-width="0.22" >(e)</text>
<text x="418.5" y="340.7" font-size="9.8" text-anchor="middle" font-weight="normal" fill="#262626" stroke="#262626" stroke-width="0.22" >2000</text>
<text x="467.17" y="340.7" font-size="9.8" text-anchor="middle" font-weight="normal" fill="#262626" stroke="#262626" stroke-width="0.22" >2010</text>
<text x="515.83" y="340.7" font-size="9.8" text-anchor="middle" font-weight="normal" fill="#262626" stroke="#262626" stroke-width="0.22" >2020</text>
<text x="564.5" y="340.7" font-size="9.8" text-anchor="middle" font-weight="normal" fill="#262626" stroke="#262626" stroke-width="0.22" >2030</text>
<text x="414.3" y="330.9" font-size="9.8" text-anchor="end" font-weight="normal" fill="#262626" stroke="#262626" stroke-width="0.22" >-4</text>
<text x="414.3" y="302.23" font-size="9.8" text-anchor="end" font-weight="normal" fill="#262626" stroke="#262626" stroke-width="0.22" >-2</text>
<text x="414.3" y="273.57" font-size="9.8" text-anchor="end" font-weight="normal" fill="#262626" stroke="#262626" stroke-width="0.22" >0</text>
<text x="414.3" y="244.9" font-size="9.8" text-anchor="end" font-weight="normal" fill="#262626" stroke="#262626" stroke-width="0.22" >2</text>
<text x="414.3" y="216.23" font-size="9.8" text-anchor="end" font-weight="normal" fill="#262626" stroke="#262626" stroke-width="0.22" >4</text>
<text x="491.5" y="193" font-size="10.3" text-anchor="middle" font-weight="bold" fill="#000" >Source of uncertainty</text>
<text x="492.3" y="354.5" font-size="10.3" text-anchor="middle" font-weight="normal" fill="#262626" stroke="#262626" stroke-width="0.22" >Time (Year)</text>
<text x="0" y="0" font-size="10.45" text-anchor="middle" font-weight="normal" fill="#262626" stroke="#262626" stroke-width="0.22" transform="translate(400.49,263) rotate(-90)">Temperature anomaly (°C)</text>
<g clip-path="url(#cf)">
<polygon points="418.5,263 419.72,262.85 420.93,262.7 422.15,262.55 423.37,262.4 424.58,262.25 425.8,262.1 427.02,261.95 428.23,261.8 429.45,261.65 430.67,261.5 431.88,261.35 433.1,261.2 434.32,261.05 435.53,260.9 436.75,260.75 437.97,260.6 439.18,260.45 440.4,260.3 441.62,260.15 442.83,260 444.05,259.85 445.27,259.7 446.48,259.55 447.7,259.4 448.92,259.26 450.13,259.11 451.35,258.96 452.57,258.81 453.78,258.66 455,258.51 456.22,258.36 457.43,258.21 458.65,258.06 459.87,257.91 461.08,257.76 462.3,257.61 463.52,257.46 464.73,257.31 465.95,257.16 467.17,257.01 468.38,256.86 469.6,256.71 470.82,256.56 472.03,256.41 473.25,256.26 474.47,256.11 475.68,255.96 476.9,255.81 478.12,255.62 479.33,255.26 480.55,254.9 481.77,254.54 482.98,254.19 484.2,253.83 485.42,253.47 486.63,253.11 487.85,252.75 489.07,252.39 490.28,252.04 491.5,251.68 492.72,251.32 493.93,250.96 495.15,250.6 496.37,250.24 497.58,249.89 498.8,249.55 500.02,249.24 501.23,248.94 502.45,248.63 503.67,248.33 504.88,248.02 506.1,247.71 507.32,247.41 508.53,247.1 509.75,246.8 510.97,246.49 512.18,246.19 513.4,245.88 514.62,245.57 515.83,245.27 517.05,244.96 518.27,244.66 519.48,244.35 520.7,244.05 521.92,243.74 523.13,243.44 524.35,243.13 525.57,242.82 526.78,242.52 528,242.21 529.22,241.91 530.43,241.6 531.65,241.3 532.87,240.99 534.08,240.68 535.3,240.38 536.52,240.07 537.73,239.77 538.95,239.46 540.17,239.16 541.38,238.85 542.6,238.54 543.82,238.24 545.03,237.93 546.25,237.63 547.47,237.32 548.68,237.02 549.9,236.71 551.12,236.41 552.33,236.1 553.55,235.79 554.77,235.49 555.98,235.18 557.2,234.88 558.42,234.57 559.63,234.27 560.85,233.96 562.07,233.65 563.28,233.35 564.5,233.04 564.5,273.46 563.28,273.57 562.07,273.68 560.85,273.79 559.63,273.9 558.42,274.01 557.2,274.12 555.98,274.23 554.77,274.34 553.55,274.45 552.33,274.56 551.12,274.67 549.9,274.78 548.68,274.89 547.47,275 546.25,275.11 545.03,275.22 543.82,275.33 542.6,275.44 541.38,275.55 540.17,275.66 538.95,275.77 537.73,275.89 536.52,276 535.3,276.11 534.08,276.22 532.87,276.33 531.65,276.44 530.43,276.55 529.22,276.66 528,276.77 526.78,276.88 525.57,276.99 524.35,277.1 523.13,277.21 521.92,277.32 520.7,277.43 519.48,277.54 518.27,277.65 517.05,277.76 515.83,277.87 514.62,277.98 513.4,278.09 512.18,278.2 510.97,278.31 509.75,278.42 508.53,278.53 507.32,278.64 506.1,278.75 504.88,278.86 503.67,278.97 502.45,279.08 501.23,279.19 500.02,279.3 498.8,279.41 497.58,279.52 496.37,279.63 495.15,279.74 493.93,279.85 492.72,279.96 491.5,280.07 490.28,280.18 489.07,280.38 487.85,280.61 486.63,280.84 485.42,281.07 484.2,281.3 482.98,281.53 481.77,281.76 480.55,281.99 479.33,282.22 478.12,282.45 476.9,282.7 475.68,282.95 474.47,283.2 473.25,283.45 472.03,283.71 470.82,283.96 469.6,284.21 468.38,284.46 467.17,284.72 465.95,284.97 464.73,285.22 463.52,285.47 462.3,285.73 461.08,285.98 459.87,286.23 458.65,286.48 457.43,286.74 456.22,286.99 455,287.24 453.78,287.49 452.57,287.75 451.35,288 450.13,288.25 448.92,288.51 447.7,288.76 446.48,289.01 445.27,289.26 444.05,289.52 442.83,289.77 441.62,290.02 440.4,290.27 439.18,290.53 437.97,290.78 436.75,291.03 435.53,291.28 434.32,291.54 433.1,291.79 431.88,292.04 430.67,292.29 429.45,292.55 428.23,292.8 427.02,293.05 425.8,293.3 424.58,293.56 423.37,293.81 422.15,294.06 420.93,294.31 419.72,294.57 418.5,294.82" fill="#f27424" stroke="none" />
<polygon points="418.5,275.33 419.72,275.2 420.93,275.07 422.15,274.94 423.37,274.81 424.58,274.68 425.8,274.56 427.02,274.43 428.23,274.3 429.45,274.17 430.67,274.04 431.88,273.91 433.1,273.79 434.32,273.66 435.53,273.53 436.75,273.4 437.97,273.27 439.18,273.14 440.4,273.02 441.62,272.89 442.83,272.76 444.05,272.63 445.27,272.5 446.48,272.37 447.7,272.25 448.92,272.12 450.13,271.99 451.35,271.86 452.57,271.73 453.78,271.6 455,271.47 456.22,271.35 457.43,271.22 458.65,271.09 459.87,270.96 461.08,270.83 462.3,270.7 463.52,270.58 464.73,270.45 465.95,270.32 467.17,270.19 468.38,270.06 469.6,269.93 470.82,269.81 472.03,269.68 473.25,269.55 474.47,269.42 475.68,269.29 476.9,269.16 478.12,268.74 479.33,268.31 480.55,267.89 481.77,267.46 482.98,267.04 484.2,266.62 485.42,266.19 486.63,265.77 487.85,265.34 489.07,264.92 490.28,264.52 491.5,264.23 492.72,263.94 493.93,263.65 495.15,263.36 496.37,263.07 497.58,262.78 498.8,262.49 500.02,262.2 501.23,261.9 502.45,261.61 503.67,261.32 504.88,261.03 506.1,260.74 507.32,260.45 508.53,260.16 509.75,259.87 510.97,259.58 512.18,259.29 513.4,259 514.62,258.71 515.83,258.42 517.05,258.13 518.27,257.84 519.48,257.55 520.7,257.26 521.92,256.97 523.13,256.68 524.35,256.39 525.57,256.1 526.78,255.81 528,255.52 529.22,255.23 530.43,254.93 531.65,254.64 532.87,254.35 534.08,254.06 535.3,253.77 536.52,253.48 537.73,253.19 538.95,252.9 540.17,252.61 541.38,252.32 542.6,252.03 543.82,251.74 545.03,251.45 546.25,251.16 547.47,250.87 548.68,250.58 549.9,250.29 551.12,250 552.33,249.71 553.55,249.42 554.77,249.13 555.98,248.84 557.2,248.55 558.42,248.26 559.63,247.96 560.85,247.67 562.07,247.38 563.28,247.09 564.5,246.8 564.5,260.85 563.28,260.96 562.07,261.07 560.85,261.18 559.63,261.29 558.42,261.4 557.2,261.51 555.98,261.62 554.77,261.73 553.55,261.84 552.33,261.95 551.12,262.06 549.9,262.17 548.68,262.28 547.47,262.39 546.25,262.5 545.03,262.61 543.82,262.72 542.6,262.83 541.38,262.94 540.17,263.05 538.95,263.16 537.73,263.27 536.52,263.38 535.3,263.49 534.08,263.6 532.87,263.71 531.65,263.82 530.43,263.93 529.22,264.04 528,264.15 526.78,264.26 525.57,264.37 524.35,264.48 523.13,264.59 521.92,264.7 520.7,264.81 519.48,264.92 518.27,265.03 517.05,265.14 515.83,265.25 514.62,265.36 513.4,265.47 512.18,265.58 510.97,265.69 509.75,265.8 508.53,265.91 507.32,266.02 506.1,266.13 504.88,266.24 503.67,266.35 502.45,266.46 501.23,266.57 500.02,266.68 498.8,266.79 497.58,266.9 496.37,267.01 495.15,267.12 493.93,267.23 492.72,267.34 491.5,267.45 490.28,267.56 489.07,267.7 487.85,267.85 486.63,268 485.42,268.14 484.2,268.29 482.98,268.43 481.77,268.58 480.55,268.73 479.33,268.87 478.12,269.02 476.9,269.16 475.68,269.41 474.47,269.66 473.25,269.91 472.03,270.15 470.82,270.4 469.6,270.65 468.38,270.9 467.17,271.15 465.95,271.39 464.73,271.64 463.52,271.89 462.3,272.14 461.08,272.39 459.87,272.63 458.65,272.88 457.43,273.13 456.22,273.38 455,273.62 453.78,273.87 452.57,274.12 451.35,274.37 450.13,274.62 448.92,274.86 447.7,275.11 446.48,275.36 445.27,275.61 444.05,275.86 442.83,276.1 441.62,276.35 440.4,276.6 439.18,276.85 437.97,277.09 436.75,277.34 435.53,277.59 434.32,277.84 433.1,278.09 431.88,278.33 430.67,278.58 429.45,278.83 428.23,279.08 427.02,279.33 425.8,279.57 424.58,279.82 423.37,280.07 422.15,280.32 420.93,280.56 419.72,280.81 418.5,281.06" fill="#3a4aa3" stroke="none" />
<polygon points="476.9,269.16 478.01,268.95 479.12,268.73 480.23,268.51 481.34,268.29 482.44,268.07 483.55,267.86 484.66,267.64 485.77,267.42 486.88,267.2 487.99,266.99 489.1,266.77 490.21,266.55 491.32,266.33 492.42,266.12 493.53,265.9 494.64,265.68 495.75,265.46 496.86,265.24 497.97,265.03 499.08,264.81 500.19,264.59 501.29,264.37 502.4,264.16 503.51,263.94 504.62,263.72 505.73,263.5 506.84,263.28 507.95,263.07 509.06,262.85 510.17,262.63 511.27,262.41 512.38,262.2 513.49,261.98 514.6,261.76 515.71,261.54 516.82,261.33 517.93,261.11 519.04,260.89 520.15,260.67 521.25,260.45 522.36,260.24 523.47,260.02 524.58,259.8 525.69,259.58 526.8,259.37 527.91,259.15 529.02,258.93 530.13,258.71 531.23,258.49 532.34,258.28 533.45,258.06 534.56,257.84 535.67,257.62 536.78,257.41 537.89,257.19 539,256.97 540.11,256.75 541.21,256.54 542.32,256.32 543.43,256.1 544.54,255.88 545.65,255.66 546.76,255.45 547.87,255.23 548.98,255.01 550.08,254.79 551.19,254.58 552.3,254.36 553.41,254.14 554.52,253.92 555.63,253.71 556.74,253.49 557.85,253.27 558.96,253.05 560.06,252.83 561.17,252.62 562.28,252.4 563.39,252.18 564.5,251.96 564.5,256.41 563.39,256.57 562.28,256.73 561.17,256.89 560.06,257.05 558.96,257.21 557.85,257.38 556.74,257.54 555.63,257.7 554.52,257.86 553.41,258.02 552.3,258.18 551.19,258.34 550.08,258.51 548.98,258.67 547.87,258.83 546.76,258.99 545.65,259.15 544.54,259.31 543.43,259.47 542.32,259.64 541.21,259.8 540.11,259.96 539,260.12 537.89,260.28 536.78,260.44 535.67,260.61 534.56,260.77 533.45,260.93 532.34,261.09 531.23,261.25 530.13,261.41 529.02,261.57 527.91,261.74 526.8,261.9 525.69,262.06 524.58,262.22 523.47,262.38 522.36,262.54 521.25,262.7 520.15,262.87 519.04,263.03 517.93,263.19 516.82,263.35 515.71,263.51 514.6,263.67 513.49,263.83 512.38,264 511.27,264.16 510.17,264.32 509.06,264.48 507.95,264.64 506.84,264.8 505.73,264.96 504.62,265.13 503.51,265.29 502.4,265.45 501.29,265.61 500.19,265.77 499.08,265.93 497.97,266.1 496.86,266.26 495.75,266.42 494.64,266.58 493.53,266.74 492.42,266.9 491.32,267.06 490.21,267.23 489.1,267.39 487.99,267.55 486.88,267.71 485.77,267.87 484.66,268.03 483.55,268.19 482.44,268.36 481.34,268.52 480.23,268.68 479.12,268.84 478.01,269 476.9,269.16" fill="#128046" stroke="none" />
<line x1="418.5" y1="270.5" x2="564.5" y2="270.5" stroke="#262626" stroke-opacity="0.6" stroke-width="1"/>
<polyline points="476.9,268.02 477.88,264.15 478.87,260.34 479.85,256.64 480.84,255.03 481.82,253.72 482.81,253.32 483.79,252.91 484.77,252.52 485.76,252.32 486.74,252.12 487.73,251.92 488.71,251.72 489.7,251.52 490.68,251.32 491.66,251.12 492.65,250.92 493.63,250.7 494.62,250.49 495.6,250.27 496.59,250.05 497.57,249.83 498.55,249.61 499.54,249.36 500.52,249.12 501.51,248.87 502.49,248.62 503.48,248.37 504.46,248.13 505.44,247.88 506.43,247.63 507.41,247.38 508.4,247.14 509.38,246.89 510.37,246.64 511.35,246.4 512.33,246.15 513.32,245.9 514.3,245.65 515.29,245.41 516.27,245.16 517.26,244.91 518.24,244.66 519.22,244.42 520.21,244.17 521.19,243.92 522.18,243.68 523.16,243.43 524.14,243.18 525.13,242.93 526.11,242.69 527.1,242.44 528.08,242.19 529.07,241.94 530.05,241.7 531.03,241.45 532.02,241.2 533,240.96 533.99,240.71 534.97,240.46 535.96,240.21 536.94,239.97 537.92,239.72 538.91,239.47 539.89,239.22 540.88,238.98 541.86,238.73 542.85,238.48 543.83,238.24 544.81,237.99 545.8,237.74 546.78,237.49 547.77,237.25 548.75,237 549.74,236.75 550.72,236.5 551.7,236.26 552.69,236.01 553.67,235.76 554.66,235.52 555.64,235.27 556.63,235.02 557.61,234.77 558.59,234.53 559.58,234.28 560.56,234.03 561.55,233.79 562.53,233.54 563.52,233.29 564.5,233.04" fill="none" stroke="#000" stroke-width="1.9" stroke-linejoin="round" stroke-dasharray="1.9 1.85"/>
<polyline points="476.9,268.02 477.88,272.36 478.87,275.42 479.85,277.24 480.84,278.85 481.82,280.18 482.81,280.66 483.79,281.15 484.77,281.31 485.76,281.25 486.74,281.19 487.73,281.12 488.71,281.06 489.7,281 490.68,280.94 491.66,280.85 492.65,280.76 493.63,280.66 494.62,280.56 495.6,280.47 496.59,280.37 497.57,280.27 498.55,280.18 499.54,280.08 500.52,279.98 501.51,279.87 502.49,279.77 503.48,279.67 504.46,279.57 505.44,279.47 506.43,279.37 507.41,279.27 508.4,279.17 509.38,279.07 510.37,278.97 511.35,278.87 512.33,278.77 513.32,278.67 514.3,278.57 515.29,278.47 516.27,278.37 517.26,278.27 518.24,278.17 519.22,278.07 520.21,277.97 521.19,277.87 522.18,277.77 523.16,277.67 524.14,277.57 525.13,277.47 526.11,277.37 527.1,277.27 528.08,277.17 529.07,277.07 530.05,276.97 531.03,276.87 532.02,276.77 533,276.67 533.99,276.57 534.97,276.47 535.96,276.37 536.94,276.27 537.92,276.17 538.91,276.07 539.89,275.97 540.88,275.87 541.86,275.77 542.85,275.67 543.83,275.57 544.81,275.47 545.8,275.37 546.78,275.27 547.77,275.17 548.75,275.07 549.74,274.97 550.72,274.87 551.7,274.77 552.69,274.67 553.67,274.57 554.66,274.47 555.64,274.36 556.63,274.26 557.61,274.16 558.59,274.06 559.58,273.96 560.56,273.86 561.55,273.76 562.53,273.66 563.52,273.56 564.5,273.46" fill="none" stroke="#000" stroke-width="1.9" stroke-linejoin="round" stroke-dasharray="1.9 1.85"/>
</g>
<polyline points="418.5,257.08 423.37,285.89 428.23,260.78 433.1,270.31 437.97,275.47 442.83,278.05 447.7,250.53 452.57,262.43 457.43,283.93 462.3,283.28 467.17,267.08 472.03,272.32 476.9,250.1 481.77,269.74 486.63,296.11 491.5,276.9 496.37,245.94 501.23,254.26 506.1,275.18 510.97,277.76 515.83,259.85 520.7,255.12" fill="none" stroke="#222" stroke-width="2.1" stroke-linejoin="round" />
<circle cx="418.5" cy="257.08" r="2.05" fill="#222"/>
<circle cx="423.37" cy="285.89" r="2.05" fill="#222"/>
<circle cx="428.23" cy="260.78" r="2.05" fill="#222"/>
<circle cx="433.1" cy="270.31" r="2.05" fill="#222"/>
<circle cx="437.97" cy="275.47" r="2.05" fill="#222"/>
<circle cx="442.83" cy="278.05" r="2.05" fill="#222"/>
<circle cx="447.7" cy="250.53" r="2.05" fill="#222"/>
<circle cx="452.57" cy="262.43" r="2.05" fill="#222"/>
<circle cx="457.43" cy="283.93" r="2.05" fill="#222"/>
<circle cx="462.3" cy="283.28" r="2.05" fill="#222"/>
<circle cx="467.17" cy="267.08" r="2.05" fill="#222"/>
<circle cx="472.03" cy="272.32" r="2.05" fill="#222"/>
<circle cx="476.9" cy="250.1" r="2.05" fill="#222"/>
<circle cx="481.77" cy="269.74" r="2.05" fill="#222"/>
<circle cx="486.63" cy="296.11" r="2.05" fill="#222"/>
<circle cx="491.5" cy="276.9" r="2.05" fill="#222"/>
<circle cx="496.37" cy="245.94" r="2.05" fill="#222"/>
<circle cx="501.23" cy="254.26" r="2.05" fill="#222"/>
<circle cx="506.1" cy="275.18" r="2.05" fill="#222"/>
<circle cx="510.97" cy="277.76" r="2.05" fill="#222"/>
<circle cx="515.83" cy="259.85" r="2.05" fill="#222"/>
<circle cx="520.7" cy="255.12" r="2.05" fill="#222"/>
<rect x="426.2" y="206.7" width="27.69999999999999" height="7.5" fill="#f27424"/>
<line x1="425.7" y1="220.8" x2="453.9" y2="220.8" stroke="#000" stroke-width="1.9" stroke-dasharray="1.9 1.85"/>
<rect x="426.2" y="228.3" width="27.69999999999999" height="7.3" fill="#3a4aa3"/>
<rect x="426.2" y="239.0" width="27.69999999999999" height="7" fill="#128046"/>
<text x="457" y="213.5" font-size="8.25" text-anchor="start" font-weight="normal" fill="#000" stroke="#000" stroke-width="0.22" >Internal variability</text>
<text x="457" y="224.3" font-size="8.25" text-anchor="start" font-weight="normal" fill="#000" stroke="#000" stroke-width="0.22" >Int. var. constrained</text>
<text x="457" y="235" font-size="8.25" text-anchor="start" font-weight="normal" fill="#000" stroke="#000" stroke-width="0.22" >Response</text>
<text x="457" y="245.5" font-size="8.25" text-anchor="start" font-weight="normal" fill="#000" stroke="#000" stroke-width="0.22" >Scenario</text>
<text x="547.5" y="318" font-size="8.9" text-anchor="start" font-weight="normal" fill="#000" stroke="#000" stroke-width="0.22" >(f)</text>
<text x="32.5" y="521.7" font-size="9.8" text-anchor="middle" font-weight="normal" fill="#262626" stroke="#262626" stroke-width="0.22" >2000</text>
<text x="81.17" y="521.7" font-size="9.8" text-anchor="middle" font-weight="normal" fill="#262626" stroke="#262626" stroke-width="0.22" >2010</text>
<text x="129.83" y="521.7" font-size="9.8" text-anchor="middle" font-weight="normal" fill="#262626" stroke="#262626" stroke-width="0.22" >2020</text>
<text x="178.5" y="521.7" font-size="9.8" text-anchor="middle" font-weight="normal" fill="#262626" stroke="#262626" stroke-width="0.22" >2030</text>
<text x="28.3" y="490.48" font-size="9.8" text-anchor="end" font-weight="normal" fill="#262626" stroke="#262626" stroke-width="0.22" >-5</text>
<text x="28.3" y="454.79" font-size="9.8" text-anchor="end" font-weight="normal" fill="#262626" stroke="#262626" stroke-width="0.22" >0</text>
<text x="28.3" y="419.09" font-size="9.8" text-anchor="end" font-weight="normal" fill="#262626" stroke="#262626" stroke-width="0.22" >5</text>
<text x="28.3" y="383.4" font-size="9.8" text-anchor="end" font-weight="normal" fill="#262626" stroke="#262626" stroke-width="0.22" >10</text>
<text x="105.5" y="374.8" font-size="10.3" text-anchor="middle" font-weight="bold" fill="#000" >Anchorage DJF temperature</text>
<text x="106.3" y="535.5" font-size="10.3" text-anchor="middle" font-weight="normal" fill="#262626" stroke="#262626" stroke-width="0.22" >Time (Year)</text>
<text x="0" y="0" font-size="10.45" text-anchor="middle" font-weight="normal" fill="#262626" stroke="#262626" stroke-width="0.22" transform="translate(12.3,444.25) rotate(-90)">Temperature anomaly (°C)</text>
<g clip-path="url(#cg)"><polyline points="32.5,467.45 37.37,452.73 42.23,465.23 47.1,468.42 51.97,422.34 56.83,422.01 61.7,512.85 66.57,473.1 71.43,414.55 76.3,462.31 81.17,487.99 86.03,449.74 90.9,458.57 95.77,453.38 100.63,458.37 105.5,449.71 110.37,451.18 115.23,435.3 120.1,460.3 124.97,445.27 129.83,442.45 134.7,417.84 139.57,434.52 144.43,447.9 149.3,431.39 154.17,433.18 159.03,419.07 163.9,425.93 168.77,407.47 173.63,416.36 178.5,444.25" fill="none" stroke="#b6b6b6" stroke-width="0.7" stroke-linejoin="round" /><polyline points="32.5,438.38 37.37,440.29 42.23,458.24 47.1,498.16 51.97,503.58 56.83,442.13 61.7,433.08 66.57,431.46 71.43,482.5 76.3,431.88 81.17,464.09 86.03,441.12 90.9,446.66 95.77,471.79 100.63,461.34 105.5,503.12 110.37,463.83 115.23,494.5 120.1,429.52 124.97,436.77 129.83,419.82 134.7,435.74 139.57,459.02 144.43,437.46 149.3,452.84 154.17,428.98 159.03,434.2 163.9,463.19 168.77,440.59 173.63,441.63 178.5,450.8" fill="none" stroke="#b6b6b6" stroke-width="0.7" stroke-linejoin="round" /><polyline points="32.5,442.03 37.37,460.75 42.23,464.6 47.1,524.45 51.97,454 56.83,460.8 61.7,513.68 66.57,442 71.43,434.56 76.3,472.09 81.17,459.87 86.03,475.26 90.9,439.67 95.77,493.32 100.63,454.08 105.5,406.93 110.37,438.64 115.23,432.45 120.1,442.8 124.97,469.78 129.83,439.77 134.7,434.67 139.57,469.97 144.43,437.56 149.3,418.26 154.17,420.31 159.03,485.72 163.9,462.8 168.77,486.01 173.63,420.93 178.5,429.95" fill="none" stroke="#b6b6b6" stroke-width="0.7" stroke-linejoin="round" /><polyline points="32.5,429.21 37.37,483.04 42.23,454.19 47.1,454.85 51.97,473.11 56.83,446.7 61.7,435.55 66.57,443.34 71.43,475.03 76.3,515.66 81.17,456.99 86.03,446.05 90.9,462.3 95.77,461.67 100.63,464.06 105.5,426.73 110.37,441.09 115.23,439.99 120.1,464.84 124.97,453.91 129.83,435.21 134.7,470.32 139.57,477.07 144.43,453.34 149.3,418.99 154.17,437.88 159.03,412.99 163.9,440.29 168.77,448.21 173.63,481.2 178.5,457.79" fill="none" stroke="#b6b6b6" stroke-width="0.7" stroke-linejoin="round" /><polyline points="32.5,440.7 37.37,435.95 42.23,440.78 47.1,457.43 51.97,455.86 56.83,447.22 61.7,435.02 66.57,438.37 71.43,436.59 76.3,449.71 81.17,470.52 86.03,456.2 90.9,480.67 95.77,430.25 100.63,508.43 105.5,447.4 110.37,399.72 115.23,451.23 120.1,469.66 124.97,438.63 129.83,413.32 134.7,447.63 139.57,429.54 144.43,442.95 149.3,452.39 154.17,401.05 159.03,439.69 163.9,450.61 168.77,452.86 173.63,434.37 178.5,434.11" fill="none" stroke="#b6b6b6" stroke-width="0.7" stroke-linejoin="round" /><polyline points="32.5,463.46 37.37,491.22 42.23,444.26 47.1,464.75 51.97,457.89 56.83,491.14 61.7,464 66.57,467.18 71.43,448.35 76.3,493.49 81.17,449.52 86.03,446.96 90.9,485.91 95.77,466.88 100.63,468.7 105.5,423.08 110.37,516.42 115.23,451.27 120.1,486.2 124.97,448.91 129.83,421.07 134.7,459.76 139.57,439.72 144.43,467.2 149.3,408.15 154.17,423.12 159.03,418.39 163.9,473.42 168.77,470 173.63,420.78 178.5,447.96" fill="none" stroke="#b6b6b6" stroke-width="0.7" stroke-linejoin="round" /><polyline points="32.5,496.82 37.37,485.73 42.23,439.47 47.1,456.77 51.97,440.28 56.83,467.06 61.7,438.22 66.57,466.57 71.43,427.58 76.3,430.27 81.17,431.57 86.03,438.43 90.9,442.19 95.77,527.63 100.63,428.72 105.5,448.81 110.37,437.64 115.23,449.76 120.1,477.53 124.97,451.72 129.83,424.71 134.7,416.07 139.57,458.69 144.43,468.88 149.3,414.96 154.17,465.27 159.03,404.66 163.9,435.95 168.77,463.66 173.63,422.47 178.5,411.49" fill="none" stroke="#b6b6b6" stroke-width="0.7" stroke-linejoin="round" /><polyline points="32.5,448.61 37.37,458.56 42.23,427.22 47.1,466.57 51.97,495.11 56.83,438.88 61.7,430.16 66.57,411.6 71.43,415.28 76.3,438.26 81.17,456.46 86.03,462.88 90.9,463.18 95.77,472.59 100.63,453.1 105.5,518.7 110.37,435.73 115.23,443.53 120.1,398.05 124.97,421.96 129.83,450.96 134.7,431.38 139.57,476.05 144.43,460.5 149.3,497.07 154.17,414.28 159.03,428.37 163.9,468.74 168.77,442.07 173.63,423.1 178.5,432.31" fill="none" stroke="#b6b6b6" stroke-width="0.7" stroke-linejoin="round" /><polyline points="32.5,484.43 37.37,467.86 42.23,453.77 47.1,437.91 51.97,472.39 56.83,479.96 61.7,426.31 66.57,472.93 71.43,425.4 76.3,447.71 81.17,432.14 86.03,417.35 90.9,441.1 95.77,434.48 100.63,470.42 105.5,459.88 110.37,425.85 115.23,413.36 120.1,411.96 124.97,398.81 129.83,431.94 134.7,439.12 139.57,422.08 144.43,444.83 149.3,444.69 154.17,470.05 159.03,420.78 163.9,465.64 168.77,429.31 173.63,482.05 178.5,420.85" fill="none" stroke="#b6b6b6" stroke-width="0.7" stroke-linejoin="round" /><polyline points="32.5,450.09 37.37,496.29 42.23,466.89 47.1,433.37 51.97,471.72 56.83,448.42 61.7,461.48 66.57,518.05 71.43,440.5 76.3,443.62 81.17,480.27 86.03,437.26 90.9,476.52 95.77,477.55 100.63,446.26 105.5,459.5 110.37,400.7 115.23,486.32 120.1,423.43 124.97,417.68 129.83,496.7 134.7,493.08 139.57,430.57 144.43,457.28 149.3,434.59 154.17,419.11 159.03,450.51 163.9,465.41 168.77,517.2 173.63,438.22 178.5,467.59" fill="none" stroke="#b6b6b6" stroke-width="0.7" stroke-linejoin="round" /><polyline points="32.5,475.11 37.37,489.74 42.23,423.78 47.1,435 51.97,432.97 56.83,481.86 61.7,459.63 66.57,462.29 71.43,457.75 76.3,483.33 81.17,441 86.03,444.6 90.9,447.76 95.77,463.7 100.63,420.72 105.5,437.81 110.37,516.42 115.23,459.09 120.1,440.63 124.97,418.1 129.83,446.34 134.7,449.85 139.57,459.78 144.43,430.85 149.3,454.32 154.17,457.53 159.03,460.39 163.9,424.9 168.77,454 173.63,490.34 178.5,429.71" fill="none" stroke="#b6b6b6" stroke-width="0.7" stroke-linejoin="round" /><polyline points="32.5,491.23 37.37,443.29 42.23,431.73 47.1,435.68 51.97,465.4 56.83,453.99 61.7,484.67 66.57,417 71.43,437.64 76.3,425.92 81.17,458.51 86.03,509.99 90.9,426.53 95.77,448.89 100.63,443.33 105.5,440.84 110.37,425.84 115.23,431.09 120.1,483.9 124.97,415.94 129.83,452.25 134.7,455.4 139.57,410.66 144.43,425.99 149.3,451.5 154.17,495.76 159.03,437.62 163.9,425.27 168.77,442.55 173.63,476.67 178.5,463.67" fill="none" stroke="#b6b6b6" stroke-width="0.7" stroke-linejoin="round" /><polyline points="32.5,462.03 37.37,434.3 42.23,434.8 47.1,475.97 51.97,445.54 56.83,437.8 61.7,462.34 66.57,452.12 71.43,410.21 76.3,448.56 81.17,432.11 86.03,460.63 90.9,455.01 95.77,499.76 100.63,447.01 105.5,418.07 110.37,402.86 115.23,418.71 120.1,424.43 124.97,436.97 129.83,454.15 134.7,447.63 139.57,429.55 144.43,465.52 149.3,423.69 154.17,468.2 159.03,492.22 163.9,463.88 168.77,487.71 173.63,480.58 178.5,420.23" fill="none" stroke="#b6b6b6" stroke-width="0.7" stroke-linejoin="round" /><polyline points="32.5,469.46 37.37,428.21 42.23,430.81 47.1,469.81 51.97,424.61 56.83,441.35 61.7,449.48 66.57,438.7 71.43,486.82 76.3,473.54 81.17,453.28 86.03,436.53 90.9,465.14 95.77,454.11 100.63,426.24 105.5,414.51 110.37,423.44 115.23,417.52 120.1,449.27 124.97,445.7 129.83,431.78 134.7,451.13 139.57,455.6 144.43,414.07 149.3,448.06 154.17,467.68 159.03,430.54 163.9,403.42 168.77,438.75 173.63,418.2 178.5,454.14" fill="none" stroke="#b6b6b6" stroke-width="0.7" stroke-linejoin="round" /><polyline points="32.5,478.38 37.37,455.14 42.23,422.26 47.1,488.2 51.97,419.93 56.83,476.62 61.7,455.22 66.57,430.85 71.43,433.77 76.3,446.85 81.17,497.25 86.03,441.68 90.9,483.03 95.77,409.83 100.63,451.58 105.5,437.79 110.37,470.58 115.23,454.78 120.1,474.41 124.97,417.81 129.83,445.36 134.7,431.42 139.57,460.37 144.43,457.79 149.3,417.55 154.17,467.84 159.03,492.96 163.9,428.04 168.77,471.21 173.63,453.82 178.5,424.15" fill="none" stroke="#b6b6b6" stroke-width="0.7" stroke-linejoin="round" /><polyline points="32.5,450.05 37.37,469.06 42.23,427.15 47.1,430.95 51.97,462.65 56.83,455.14 61.7,471.12 66.57,443.96 71.43,424.15 76.3,493.27 81.17,431.47 86.03,485.99 90.9,478.33 95.77,502.21 100.63,409.36 105.5,440.76 110.37,434.26 115.23,460.07 120.1,417.36 124.97,500.26 129.83,438.37 134.7,405.56 139.57,452.34 144.43,444.87 149.3,428.65 154.17,463.26 159.03,440.81 163.9,417.11 168.77,436.17 173.63,434.57 178.5,451.86" fill="none" stroke="#b6b6b6" stroke-width="0.7" stroke-linejoin="round" /><polyline points="32.5,465.18 37.37,423.41 42.23,440.4 47.1,463.11 51.97,525.49 56.83,434.58 61.7,433.38 66.57,472.54 71.43,505.86 76.3,483.86 81.17,431.31 86.03,478.14 90.9,467.41 95.77,446.01 100.63,421.81 105.5,442.57 110.37,442.25 115.23,456.63 120.1,408.38 124.97,416.31 129.83,441.26 134.7,482.19 139.57,463.31 144.43,432.58 149.3,461.68 154.17,423.51 159.03,433.21 163.9,430.49 168.77,426.45 173.63,431.88 178.5,465.49" fill="none" stroke="#b6b6b6" stroke-width="0.7" stroke-linejoin="round" /><polyline points="32.5,456.2 37.37,484.28 42.23,467.8 47.1,435.3 51.97,454.74 56.83,470.99 61.7,485.68 66.57,436.75 71.43,426.4 76.3,425.83 81.17,449.44 86.03,428.32 90.9,483.34 95.77,447.18 100.63,463.68 105.5,438.13 110.37,423.76 115.23,420.88 120.1,465.37 124.97,412.89 129.83,450.81 134.7,470.92 139.57,447.02 144.43,485.78 149.3,443.1 154.17,435.69 159.03,446.19 163.9,425.32 168.77,448.33 173.63,442.83 178.5,483.09" fill="none" stroke="#b6b6b6" stroke-width="0.7" stroke-linejoin="round" /><polyline points="32.5,476.72 37.37,462.87 42.23,458.22 47.1,452.8 51.97,497.38 56.83,493.73 61.7,456.93 66.57,438.02 71.43,439.37 76.3,434.49 81.17,424.84 86.03,438.85 90.9,456.46 95.77,478.37 100.63,471.24 105.5,453.76 110.37,433.75 115.23,437.79 120.1,439.18 124.97,441.87 129.83,425.27 134.7,438.99 139.57,436.16 144.43,438.28 149.3,456.92 154.17,469.57 159.03,430.46 163.9,427.81 168.77,445.96 173.63,453.2 178.5,404.28" fill="none" stroke="#b6b6b6" stroke-width="0.7" stroke-linejoin="round" /><polyline points="32.5,496.03 37.37,445.65 42.23,486.94 47.1,454.48 51.97,417.7 56.83,430.45 61.7,435.8 66.57,435.6 71.43,444.89 76.3,433.29 81.17,454.44 86.03,460.31 90.9,453.61 95.77,432.04 100.63,438.94 105.5,427.53 110.37,499.12 115.23,418.77 120.1,399.63 124.97,411.8 129.83,446.76 134.7,465.8 139.57,436.6 144.43,471.28 149.3,427.6 154.17,455.44 159.03,421.33 163.9,410.3 168.77,500.19 173.63,436.27 178.5,461.11" fill="none" stroke="#b6b6b6" stroke-width="0.7" stroke-linejoin="round" /><polyline points="32.5,441.97 37.37,457 42.23,434.66 47.1,499.59 51.97,429.28 56.83,413.96 61.7,436.5 66.57,436.54 71.43,447.81 76.3,484.86 81.17,438.91 86.03,441.22 90.9,440.26 95.77,409.83 100.63,430.77 105.5,432.62 110.37,409.95 115.23,479.66 120.1,469.89 124.97,447.45 129.83,455.64 134.7,428.79 139.57,450.69 144.43,412.85 149.3,413.92 154.17,425.81 159.03,450.87 163.9,423.68 168.77,423.39 173.63,471.26 178.5,435.41" fill="none" stroke="#b6b6b6" stroke-width="0.7" stroke-linejoin="round" /><polyline points="32.5,433.58 37.37,421.67 42.23,431.55 47.1,478.58 51.97,448.03 56.83,471.65 61.7,436.86 66.57,471.12 71.43,428.15 76.3,444.56 81.17,430.5 86.03,453.32 90.9,496.29 95.77,418.28 100.63,450.57 105.5,415.06 110.37,430.24 115.23,428.26 120.1,405.64 124.97,430.52 129.83,411.55 134.7,484.98 139.57,424.55 144.43,451.14 149.3,446.42 154.17,442.07 159.03,433.53 163.9,405.86 168.77,494.02 173.63,441.89 178.5,461.61" fill="none" stroke="#b6b6b6" stroke-width="0.7" stroke-linejoin="round" /><polyline points="32.5,432.86 37.37,441.53 42.23,465.8 47.1,442.72 51.97,429.92 56.83,459.8 61.7,448.41 66.57,487.73 71.43,440.56 76.3,435.17 81.17,464.66 86.03,427 90.9,516.98 95.77,504.36 100.63,484.57 105.5,454.22 110.37,439.41 115.23,444.73 120.1,440.87 124.97,422.64 129.83,450.75 134.7,478.06 139.57,476.6 144.43,408.13 149.3,514.26 154.17,446.52 159.03,413.01 163.9,426.41 168.77,462.13 173.63,442.87 178.5,425.04" fill="none" stroke="#b6b6b6" stroke-width="0.7" stroke-linejoin="round" /><polyline points="32.5,500.82 37.37,435.42 42.23,450.22 47.1,434.63 51.97,423.63 56.83,458.41 61.7,489.65 66.57,439.68 71.43,414.56 76.3,438.45 81.17,445.43 86.03,409.58 90.9,483.55 95.77,432.09 100.63,460.78 105.5,440.97 110.37,437.76 115.23,413.65 120.1,463.81 124.97,451.63 129.83,483.7 134.7,432.97 139.57,454.31 144.43,435.84 149.3,471.75 154.17,451.11 159.03,419.93 163.9,441.33 168.77,427.01 173.63,431.26 178.5,451.95" fill="none" stroke="#b6b6b6" stroke-width="0.7" stroke-linejoin="round" /><polyline points="32.5,512.76 37.37,447.76 42.23,435.56 47.1,516.07 51.97,497.64 56.83,513.45 61.7,472.39 66.57,427.08 71.43,435.06 76.3,454.08 81.17,447.66 86.03,433.56 90.9,463.36 95.77,442.17 100.63,443.18 105.5,507.18 110.37,449.34 115.23,416.06 120.1,449.05 124.97,441.64 129.83,454.33 134.7,455.86 139.57,420.01 144.43,451.8 149.3,470.24 154.17,518.84 159.03,455.77 163.9,494.41 168.77,493 173.63,425.98 178.5,428" fill="none" stroke="#b6b6b6" stroke-width="0.7" stroke-linejoin="round" /><polyline points="32.5,456.58 37.37,441.48 42.23,476.18 47.1,441.42 51.97,496.72 56.83,482.47 61.7,489.34 66.57,478.24 71.43,428.97 76.3,489.72 81.17,481.57 86.03,474.83 90.9,451.49 95.77,459.39 100.63,428.21 105.5,460.33 110.37,474.93 115.23,455.45 120.1,438.46 124.97,462.68 129.83,432.75 134.7,410.38 139.57,457.76 144.43,444.43 149.3,416.66 154.17,459 159.03,463.65 163.9,466.64 168.77,431.98 173.63,431.83 178.5,447.2" fill="none" stroke="#b6b6b6" stroke-width="0.7" stroke-linejoin="round" /><polyline points="32.5,441.62 37.37,433.73 42.23,495.15 47.1,457.9 51.97,448.95 56.83,434.92 61.7,455.54 66.57,465.6 71.43,459.53 76.3,504.97 81.17,451.94 86.03,465.65 90.9,446.2 95.77,479.07 100.63,458.01 105.5,468.79 110.37,469.11 115.23,428.39 120.1,451.72 124.97,429.02 129.83,469.95 134.7,442.34 139.57,491.98 144.43,458.17 149.3,456.77 154.17,430.3 159.03,438.1 163.9,442.34 168.77,423.66 173.63,439.45 178.5,432.29" fill="none" stroke="#b6b6b6" stroke-width="0.7" stroke-linejoin="round" /><polyline points="32.5,505.49 37.37,459.95 42.23,449.53 47.1,468.64 51.97,443.16 56.83,428.15 61.7,432.35 66.57,459.11 71.43,483.78 76.3,455.68 81.17,454.81 86.03,428.07 90.9,466.59 95.77,457.25 100.63,431.55 105.5,455.23 110.37,444.81 115.23,411.47 120.1,411.21 124.97,425.46 129.83,433.93 134.7,470.58 139.57,431.64 144.43,445.02 149.3,439.21 154.17,456.48 159.03,442.76 163.9,442.74 168.77,434.53 173.63,415.83 178.5,436.17" fill="none" stroke="#b6b6b6" stroke-width="0.7" stroke-linejoin="round" /><polyline points="32.5,420.24 37.37,497.55 42.23,477.75 47.1,445.91 51.97,442.96 56.83,466.37 61.7,444.55 66.57,469.31 71.43,488.09 76.3,493.42 81.17,474.35 86.03,422.88 90.9,494.08 95.77,426.99 100.63,420.95 105.5,447.72 110.37,442.19 115.23,459.66 120.1,441.04 124.97,424.95 129.83,439.96 134.7,424.04 139.57,419.85 144.43,438.64 149.3,436.93 154.17,444.96 159.03,434.66 163.9,468.37 168.77,432.67 173.63,439.38 178.5,467.12" fill="none" stroke="#b6b6b6" stroke-width="0.7" stroke-linejoin="round" /><polyline points="32.5,491.54 37.37,475.74 42.23,450.81 47.1,515.12 51.97,472.76 56.83,494.07 61.7,476.45 66.57,453.02 71.43,441.43 76.3,431.68 81.17,434.6 86.03,426.85 90.9,444.21 95.77,464.1 100.63,424.63 105.5,455.71 110.37,456.82 115.23,414.29 120.1,423.54 124.97,434.41 129.83,423.96 134.7,426.31 139.57,481.93 144.43,448.84 149.3,476.53 154.17,440.71 159.03,459.92 163.9,411.26 168.77,430.34 173.63,465.44 178.5,445.03" fill="none" stroke="#b6b6b6" stroke-width="0.7" stroke-linejoin="round" /><polyline points="32.5,464.3 37.37,440.81 42.23,451.22 47.1,515.05 51.97,460.55 56.83,439.91 61.7,443.86 66.57,426.03 71.43,484.15 76.3,442.89 81.17,468.77 86.03,446.64 90.9,448.12 95.77,437.35 100.63,462.48 105.5,439.17 110.37,472.94 115.23,483.49 120.1,428.25 124.97,440.87 129.83,486.4 134.7,467.48 139.57,443.83 144.43,416.35 149.3,422.72 154.17,426.39 159.03,494.35 163.9,440.86 168.77,431.27 173.63,435.34 178.5,435.21" fill="none" stroke="#b6b6b6" stroke-width="0.7" stroke-linejoin="round" /><polyline points="32.5,454.83 37.37,423.99 42.23,459.63 47.1,484.69 51.97,415.18 56.83,465.43 61.7,426.41 66.57,414.65 71.43,473.92 76.3,447.96 81.17,460.73 86.03,439.69 90.9,450.01 95.77,416.68 100.63,434.7 105.5,443.73 110.37,417.93 115.23,450.94 120.1,449.77 124.97,400.29 129.83,461.9 134.7,457.52 139.57,443.27 144.43,475.07 149.3,507.55 154.17,421.6 159.03,463.23 163.9,452.29 168.77,451.32 173.63,470.48 178.5,473.59" fill="none" stroke="#b6b6b6" stroke-width="0.7" stroke-linejoin="round" /><polyline points="32.5,529.45 37.37,437.04 42.23,441.12 47.1,500.97 51.97,452.89 56.83,483.61 61.7,434.2 66.57,455.55 71.43,447.98 76.3,456.81 81.17,467 86.03,494.14 90.9,444.49 95.77,490.91 100.63,479.97 105.5,450.9 110.37,459.53 115.23,438.19 120.1,419.43 124.97,433.84 129.83,435.8 134.7,444.62 139.57,425.9 144.43,500.41 149.3,436.22 154.17,468.43 159.03,476.51 163.9,438.42 168.77,451.71 173.63,431.35 178.5,421.81" fill="none" stroke="#b6b6b6" stroke-width="0.7" stroke-linejoin="round" /><polyline points="32.5,438.87 37.37,417.16 42.23,438.79 47.1,429.96 51.97,449.91 56.83,491.5 61.7,481.42 66.57,434.39 71.43,428.58 76.3,473.66 81.17,458.72 86.03,445.19 90.9,507.86 95.77,461.17 100.63,416.56 105.5,404.82 110.37,443.87 115.23,409.97 120.1,454 124.97,460.82 129.83,508.03 134.7,424.9 139.57,453.65 144.43,406.25 149.3,436.99 154.17,439.27 159.03,495.11 163.9,409.05 168.77,451.06 173.63,448.22 178.5,511.12" fill="none" stroke="#b6b6b6" stroke-width="0.7" stroke-linejoin="round" /><polyline points="32.5,465.71 37.37,468.58 42.23,455.16 47.1,449.62 51.97,431.9 56.83,448.88 61.7,418.16 66.57,455.87 71.43,464.35 76.3,466.38 81.17,527.27 86.03,472.29 90.9,436.14 95.77,446.26 100.63,469.19 105.5,435.45 110.37,500.87 115.23,451.19 120.1,428.83 124.97,424.23 129.83,460.48 134.7,425.64 139.57,409.47 144.43,457.27 149.3,428.36 154.17,487.59 159.03,500.34 163.9,424.86 168.77,440.89 173.63,439.53 178.5,459.41" fill="none" stroke="#b6b6b6" stroke-width="0.7" stroke-linejoin="round" /><polyline points="32.5,466.38 37.37,420.31 42.23,462.53 47.1,505.53 51.97,426.34 56.83,437.87 61.7,435.84 66.57,445.54 71.43,408.56 76.3,452.71 81.17,440.4 86.03,504.99 90.9,471.97 95.77,470 100.63,448.35 105.5,435.39 110.37,460.54 115.23,411.24 120.1,469.13 124.97,450.75 129.83,434.68 134.7,479.27 139.57,431.44 144.43,432.53 149.3,451.64 154.17,408.26 159.03,440.63 163.9,431.87 168.77,467.37 173.63,492.03 178.5,460.68" fill="none" stroke="#b6b6b6" stroke-width="0.7" stroke-linejoin="round" /><polyline points="32.5,468.92 37.37,436.25 42.23,530.27 47.1,489.11 51.97,505.15 56.83,424.28 61.7,465.16 66.57,462.81 71.43,478.43 76.3,435.31 81.17,462.22 86.03,445.9 90.9,517.46 95.77,428.2 100.63,438.64 105.5,431.03 110.37,415.87 115.23,448.76 120.1,444.54 124.97,423.72 129.83,430.51 134.7,450.97 139.57,443.05 144.43,459.21 149.3,428.77 154.17,423.63 159.03,442.39 163.9,403.46 168.77,485.22 173.63,449.8 178.5,411.89" fill="none" stroke="#b6b6b6" stroke-width="0.7" stroke-linejoin="round" /><polyline points="32.5,460.09 37.37,425.06 42.23,444.95 47.1,490.91 51.97,435.26 56.83,478.52 61.7,487.81 66.57,453.4 71.43,460.77 76.3,484.05 81.17,460.95 86.03,477.83 90.9,455.7 95.77,452.74 100.63,431.33 105.5,454.71 110.37,477.82 115.23,480.43 120.1,446.45 124.97,409.35 129.83,421.9 134.7,461.38 139.57,424.06 144.43,477.92 149.3,423.04 154.17,452.96 159.03,425.79 163.9,424.49 168.77,448.59 173.63,436.51 178.5,473.12" fill="none" stroke="#b6b6b6" stroke-width="0.7" stroke-linejoin="round" /><polyline points="32.5,469 37.37,410.48 42.23,441.71 47.1,456.23 51.97,479.13 56.83,428.98 61.7,498.03 66.57,470.67 71.43,440.4 76.3,487.3 81.17,421.75 86.03,428.23 90.9,471.58 95.77,466.3 100.63,483.97 105.5,482.27 110.37,430.93 115.23,430.15 120.1,432.33 124.97,433.15 129.83,454.37 134.7,436.63 139.57,485.35 144.43,446.17 149.3,415.26 154.17,416.74 159.03,454.13 163.9,446.53 168.77,414.2 173.63,410.38 178.5,486.51" fill="none" stroke="#b6b6b6" stroke-width="0.7" stroke-linejoin="round" /><polyline points="32.5,471.18 37.37,427.89 42.23,479.1 47.1,444.11 51.97,459.44 56.83,410.36 61.7,440.89 66.57,452.91 71.43,456.9 76.3,432.29 81.17,436.86 86.03,480.15 90.9,452 95.77,489.25 100.63,467.19 105.5,478.94 110.37,477.63 115.23,461.68 120.1,466.52 124.97,427.45 129.83,422.82 134.7,450.72 139.57,474.32 144.43,428.96 149.3,504.35 154.17,500.15 159.03,426.53 163.9,423.74 168.77,421.11 173.63,449.28 178.5,479.04" fill="none" stroke="#b6b6b6" stroke-width="0.7" stroke-linejoin="round" /></g>
<g clip-path="url(#cg)"><polyline points="95.77,454.78 100.63,470.41 105.5,466.26 110.37,485.73 115.23,478.68 120.1,439.11 124.97,441.23 129.83,477.62 134.7,474.89 139.57,461.58" fill="none" stroke="#6c70c6" stroke-width="0.75" stroke-linejoin="round" /><polyline points="95.77,477.65 100.63,456.45 105.5,506.87 110.37,481.93 115.23,442.44 120.1,438.2 124.97,477.91 129.83,467.59 134.7,434.09 139.57,457.56" fill="none" stroke="#6c70c6" stroke-width="0.75" stroke-linejoin="round" /><polyline points="95.77,505.17 100.63,448.81 105.5,429.99 110.37,436.43 115.23,463.75 120.1,457.57 124.97,451.52 129.83,482.91 134.7,472.07 139.57,430.91" fill="none" stroke="#6c70c6" stroke-width="0.75" stroke-linejoin="round" /><polyline points="95.77,447.88 100.63,447.01 105.5,453.2 110.37,440.94 115.23,441.37 120.1,433.28 124.97,459.03 129.83,454.72 134.7,454.53 139.57,418.29" fill="none" stroke="#6c70c6" stroke-width="0.75" stroke-linejoin="round" /><polyline points="95.77,468.64 100.63,460.05 105.5,466.26 110.37,451.2 115.23,446.39 120.1,420.02 124.97,496.82 129.83,430.83 134.7,440.5 139.57,464.85" fill="none" stroke="#6c70c6" stroke-width="0.75" stroke-linejoin="round" /><polyline points="95.77,445.59 100.63,451.69 105.5,431.58 110.37,489.03 115.23,427.5 120.1,463.1 124.97,424.29 129.83,441.49 134.7,427.08 139.57,437.77" fill="none" stroke="#6c70c6" stroke-width="0.75" stroke-linejoin="round" /><polyline points="95.77,432.21 100.63,471.81 105.5,437.14 110.37,437.75 115.23,417.71 120.1,506.85 124.97,454.3 129.83,430.23 134.7,479.21 139.57,453.66" fill="none" stroke="#6c70c6" stroke-width="0.75" stroke-linejoin="round" /><polyline points="95.77,462.36 100.63,472.94 105.5,425.27 110.37,430.04 115.23,435.84 120.1,447.19 124.97,445.16 129.83,469.64 134.7,460.45 139.57,434.72" fill="none" stroke="#6c70c6" stroke-width="0.75" stroke-linejoin="round" /><polyline points="95.77,451.62 100.63,459.79 105.5,514.49 110.37,458.5 115.23,444.92 120.1,447.11 124.97,448.54 129.83,468.37 134.7,423.29 139.57,463.61" fill="none" stroke="#6c70c6" stroke-width="0.75" stroke-linejoin="round" /><polyline points="95.77,431.7 100.63,481.04 105.5,425.38 110.37,517.9 115.23,470.03 120.1,446.11 124.97,457.63 129.83,435.19 134.7,450.97 139.57,458.52" fill="none" stroke="#6c70c6" stroke-width="0.75" stroke-linejoin="round" /><polyline points="95.77,472.44 100.63,455.75 105.5,475.3 110.37,468.07 115.23,437.9 120.1,443.63 124.97,449.76 129.83,465.16 134.7,435.66 139.57,491.17" fill="none" stroke="#6c70c6" stroke-width="0.75" stroke-linejoin="round" /><polyline points="95.77,450.19 100.63,471.7 105.5,446.61 110.37,466.01 115.23,468.6 120.1,425.07 124.97,435.64 129.83,427.88 134.7,447.59 139.57,430.62" fill="none" stroke="#6c70c6" stroke-width="0.75" stroke-linejoin="round" /><polyline points="95.77,444.42 100.63,416.92 105.5,454.42 110.37,445.65 115.23,451.21 120.1,521.4 124.97,483.38 129.83,448.71 134.7,436.37 139.57,460.99" fill="none" stroke="#6c70c6" stroke-width="0.75" stroke-linejoin="round" /><polyline points="95.77,476.52 100.63,461.04 105.5,424.97 110.37,422.04 115.23,440.92 120.1,476.95 124.97,424.35 129.83,452.45 134.7,456.58 139.57,445.73" fill="none" stroke="#6c70c6" stroke-width="0.75" stroke-linejoin="round" /><polyline points="95.77,477.6 100.63,437.34 105.5,427.8 110.37,439.44 115.23,467.92 120.1,457.48 124.97,433.11 129.83,457.74 134.7,412.1 139.57,453.21" fill="none" stroke="#6c70c6" stroke-width="0.75" stroke-linejoin="round" /><polyline points="95.77,450.23 100.63,437.81 105.5,449.91 110.37,455.52 115.23,441.53 120.1,438.55 124.97,434.99 129.83,455.38 134.7,439.86 139.57,432.35" fill="none" stroke="#6c70c6" stroke-width="0.75" stroke-linejoin="round" /><polyline points="95.77,478.23 100.63,472.3 105.5,466.89 110.37,455.52 115.23,446.28 120.1,437.15 124.97,437.49 129.83,451.57 134.7,447.86 139.57,419.32" fill="none" stroke="#6c70c6" stroke-width="0.75" stroke-linejoin="round" /><polyline points="95.77,448.12 100.63,425.58 105.5,442.47 110.37,503.3 115.23,442.49 120.1,462.51 124.97,451.71 129.83,429.89 134.7,439.16 139.57,453.69" fill="none" stroke="#6c70c6" stroke-width="0.75" stroke-linejoin="round" /><polyline points="95.77,469.72 100.63,449.75 105.5,443.33 110.37,445.54 115.23,457.22 120.1,464.14 124.97,448.81 129.83,470.92 134.7,478.33 139.57,425.32" fill="none" stroke="#6c70c6" stroke-width="0.75" stroke-linejoin="round" /><polyline points="95.77,489.39 100.63,454.74 105.5,448.85 110.37,450.15 115.23,448.57 120.1,472.39 124.97,432.2 129.83,464.42 134.7,429.57 139.57,496.92" fill="none" stroke="#6c70c6" stroke-width="0.75" stroke-linejoin="round" /><polyline points="95.77,448.38 100.63,455.02 105.5,464.34 110.37,443.2 115.23,474.26 120.1,452.54 124.97,507.38 129.83,458.78 134.7,462.84 139.57,437.6" fill="none" stroke="#6c70c6" stroke-width="0.75" stroke-linejoin="round" /><polyline points="95.77,441.16 100.63,425.02 105.5,462.46 110.37,503.68 115.23,513.24 120.1,428.14 124.97,451.16 129.83,463.35 134.7,465.21 139.57,473.62" fill="none" stroke="#6c70c6" stroke-width="0.75" stroke-linejoin="round" /><polyline points="95.77,464.71 100.63,422.8 105.5,453.55 110.37,513 115.23,434.19 120.1,462.08 124.97,454.38 129.83,422.56 134.7,453.96 139.57,427.35" fill="none" stroke="#6c70c6" stroke-width="0.75" stroke-linejoin="round" /><polyline points="95.77,469.44 100.63,442.04 105.5,462.67 110.37,428.94 115.23,432.32 120.1,452.83 124.97,437.63 129.83,438.01 134.7,454.23 139.57,431.51" fill="none" stroke="#6c70c6" stroke-width="0.75" stroke-linejoin="round" /><polyline points="95.77,438.77 100.63,473.82 105.5,447.25 110.37,442.43 115.23,467.77 120.1,463.12 124.97,461.03 129.83,435.1 134.7,464.45 139.57,439.39" fill="none" stroke="#6c70c6" stroke-width="0.75" stroke-linejoin="round" /><polyline points="95.77,469.9 100.63,491.58 105.5,446.66 110.37,431.67 115.23,455.9 120.1,434.11 124.97,437.37 129.83,440.49 134.7,453.75 139.57,459.13" fill="none" stroke="#6c70c6" stroke-width="0.75" stroke-linejoin="round" /><polyline points="95.77,470.23 100.63,441.59 105.5,440.89 110.37,456.86 115.23,448.36 120.1,446.27 124.97,489.22 129.83,466 134.7,466.18 139.57,452.12" fill="none" stroke="#6c70c6" stroke-width="0.75" stroke-linejoin="round" /><polyline points="95.77,462.58 100.63,471.54 105.5,436.3 110.37,444.8 115.23,490.22 120.1,453.55 124.97,475.42 129.83,420.68 134.7,457.94 139.57,456.24" fill="none" stroke="#6c70c6" stroke-width="0.75" stroke-linejoin="round" /><polyline points="95.77,483.9 100.63,452.79 105.5,423.04 110.37,445.75 115.23,434.08 120.1,433.69 124.97,471.44 129.83,420.81 134.7,434.97 139.57,430.23" fill="none" stroke="#6c70c6" stroke-width="0.75" stroke-linejoin="round" /><polyline points="95.77,442.81 100.63,443.44 105.5,460.75 110.37,416.14 115.23,438.65 120.1,458.82 124.97,445.05 129.83,431.82 134.7,427.83 139.57,436.51" fill="none" stroke="#6c70c6" stroke-width="0.75" stroke-linejoin="round" /><polyline points="95.77,475.85 100.63,480.74 105.5,459.53 110.37,471.77 115.23,447.52 120.1,429.15 124.97,436.53 129.83,472.76 134.7,454.19 139.57,429.07" fill="none" stroke="#6c70c6" stroke-width="0.75" stroke-linejoin="round" /><polyline points="95.77,462.76 100.63,445.45 105.5,494.69 110.37,435.65 115.23,442.73 120.1,442.79 124.97,471.46 129.83,465.78 134.7,461.1 139.57,442.63" fill="none" stroke="#6c70c6" stroke-width="0.75" stroke-linejoin="round" /><polyline points="95.77,469.93 100.63,422.55 105.5,426.26 110.37,466.3 115.23,464.02 120.1,425.67 124.97,455.7 129.83,424.81 134.7,421.33 139.57,459.54" fill="none" stroke="#6c70c6" stroke-width="0.75" stroke-linejoin="round" /><polyline points="95.77,526.08 100.63,471.14 105.5,471.44 110.37,458.87 115.23,433.73 120.1,463.43 124.97,453.28 129.83,458.61 134.7,480.67 139.57,422.53" fill="none" stroke="#6c70c6" stroke-width="0.75" stroke-linejoin="round" /><polyline points="95.77,459.88 100.63,440.75 105.5,482.52 110.37,438.65 115.23,427.58 120.1,473.25 124.97,444.73 129.83,474.44 134.7,438.12 139.57,445.84" fill="none" stroke="#6c70c6" stroke-width="0.75" stroke-linejoin="round" /><polyline points="95.77,456.96 100.63,442.34 105.5,425.7 110.37,438.15 115.23,477.8 120.1,448.5 124.97,439.44 129.83,483.48 134.7,424.87 139.57,446.26" fill="none" stroke="#6c70c6" stroke-width="0.75" stroke-linejoin="round" /><polyline points="95.77,483.16 100.63,450.02 105.5,442.98 110.37,457.21 115.23,447.86 120.1,508.56 124.97,425.48 129.83,474.55 134.7,504.74 139.57,469.74" fill="none" stroke="#6c70c6" stroke-width="0.75" stroke-linejoin="round" /><polyline points="95.77,453.15 100.63,472.42 105.5,443.29 110.37,472.3 115.23,416.13 120.1,443.23 124.97,418.14 129.83,472 134.7,435.37 139.57,469.66" fill="none" stroke="#6c70c6" stroke-width="0.75" stroke-linejoin="round" /><polyline points="95.77,495.72 100.63,490.73 105.5,475.62 110.37,477.69 115.23,486.18 120.1,470.18 124.97,471.09 129.83,483.57 134.7,446.02 139.57,437.22" fill="none" stroke="#6c70c6" stroke-width="0.75" stroke-linejoin="round" /><polyline points="95.77,473.06 100.63,451.44 105.5,453.96 110.37,466.01 115.23,434.54 120.1,438.15 124.97,436.19 129.83,453.05 134.7,416.88 139.57,419.39" fill="none" stroke="#6c70c6" stroke-width="0.75" stroke-linejoin="round" /></g>
<line x1="32.5" y1="451.5" x2="178.5" y2="451.5" stroke="#262626" stroke-opacity="0.65" stroke-width="1"/>
<polyline points="32.5,460.03 37.37,454.53 42.23,458.81 47.1,460.03 51.97,453.74 56.83,452.82 61.7,452.39 66.57,451.39 71.43,450.32 76.3,456.1 81.17,453.53 86.03,452.67 90.9,458.81 95.77,453.89 100.63,449.25 105.5,444.96 110.37,442.68 115.23,445.68 120.1,442.11 124.97,441.04 129.83,441.82 134.7,446.61 139.57,445.75 144.43,448.11 149.3,446.03 154.17,445.11 159.03,444.18 163.9,439.97 168.77,443.46 173.63,445.75 178.5,446.11" fill="none" stroke="#1a1a1a" stroke-width="1.25" stroke-linejoin="round" />
<polyline points="95.77,467.09 100.63,454.39 105.5,451.82 110.37,453.1 115.23,452.39 120.1,456.6 124.97,451.82 129.83,451.39 134.7,450.82 139.57,450.53" fill="none" stroke="#2f4fb0" stroke-width="2.0" stroke-linejoin="round" />
<polyline points="32.5,455.39 37.37,433.33 42.23,455.67 47.1,435.25 51.97,458.81 56.83,449.6 61.7,453.89 66.57,456.1 71.43,463.03 76.3,468.31 81.17,444.46 86.03,465.52 90.9,460.6 95.77,451.32 100.63,447.39 105.5,437.11 110.37,431.61 115.23,456.81 120.1,447.39 124.97,445.75 129.83,462.74 134.7,449.68" fill="none" stroke="#111" stroke-width="2.1" stroke-linejoin="round" />
<circle cx="32.5" cy="455.39" r="2.0" fill="#111"/>
<circle cx="37.37" cy="433.33" r="2.0" fill="#111"/>
<circle cx="42.23" cy="455.67" r="2.0" fill="#111"/>
<circle cx="47.1" cy="435.25" r="2.0" fill="#111"/>
<circle cx="51.97" cy="458.81" r="2.0" fill="#111"/>
<circle cx="56.83" cy="449.6" r="2.0" fill="#111"/>
<circle cx="61.7" cy="453.89" r="2.0" fill="#111"/>
<circle cx="66.57" cy="456.1" r="2.0" fill="#111"/>
<circle cx="71.43" cy="463.03" r="2.0" fill="#111"/>
<circle cx="76.3" cy="468.31" r="2.0" fill="#111"/>
<circle cx="81.17" cy="444.46" r="2.0" fill="#111"/>
<circle cx="86.03" cy="465.52" r="2.0" fill="#111"/>
<circle cx="90.9" cy="460.6" r="2.0" fill="#111"/>
<circle cx="95.77" cy="451.32" r="2.0" fill="#111"/>
<circle cx="100.63" cy="447.39" r="2.0" fill="#111"/>
<circle cx="105.5" cy="437.11" r="2.0" fill="#111"/>
<circle cx="110.37" cy="431.61" r="2.0" fill="#111"/>
<circle cx="115.23" cy="456.81" r="2.0" fill="#111"/>
<circle cx="120.1" cy="447.39" r="2.0" fill="#111"/>
<circle cx="124.97" cy="445.75" r="2.0" fill="#111"/>
<circle cx="129.83" cy="462.74" r="2.0" fill="#111"/>
<circle cx="134.7" cy="449.68" r="2.0" fill="#111"/>
<line x1="41.2" y1="391.5" x2="68.7" y2="391.5" stroke="#1a1a1a" stroke-width="1"/>
<line x1="41.2" y1="402.7" x2="68.7" y2="402.7" stroke="#2f4fb0" stroke-width="2"/>
<line x1="41.2" y1="413.3" x2="68.7" y2="413.3" stroke="#111" stroke-width="2"/>
<circle cx="54.95" cy="413.3" r="1.6" fill="#111"/>
<text x="71.8" y="395.5" font-size="8.25" text-anchor="start" font-weight="normal" fill="#000" stroke="#000" stroke-width="0.22" >CESM1-LE</text>
<text x="71.8" y="406.4" font-size="8.25" text-anchor="start" font-weight="normal" fill="#000" stroke="#000" stroke-width="0.22" >CESM1-DPLE</text>
<text x="71.8" y="417" font-size="8.25" text-anchor="start" font-weight="normal" fill="#000" stroke="#000" stroke-width="0.22" >Observations</text>
<text x="161.5" y="499" font-size="8.9" text-anchor="start" font-weight="normal" fill="#000" stroke="#000" stroke-width="0.22" >(g)</text>
<text x="225.5" y="521.7" font-size="9.8" text-anchor="middle" font-weight="normal" fill="#262626" stroke="#262626" stroke-width="0.22" >1</text>
<text x="241.72" y="521.7" font-size="9.8" text-anchor="middle" font-weight="normal" fill="#262626" stroke="#262626" stroke-width="0.22" >2</text>
<text x="257.94" y="521.7" font-size="9.8" text-anchor="middle" font-weight="normal" fill="#262626" stroke="#262626" stroke-width="0.22" >3</text>
<text x="274.17" y="521.7" font-size="9.8" text-anchor="middle" font-weight="normal" fill="#262626" stroke="#262626" stroke-width="0.22" >4</text>
<text x="290.39" y="521.7" font-size="9.8" text-anchor="middle" font-weight="normal" fill="#262626" stroke="#262626" stroke-width="0.22" >5</text>
<text x="306.61" y="521.7" font-size="9.8" text-anchor="middle" font-weight="normal" fill="#262626" stroke="#262626" stroke-width="0.22" >6</text>
<text x="322.83" y="521.7" font-size="9.8" text-anchor="middle" font-weight="normal" fill="#262626" stroke="#262626" stroke-width="0.22" >7</text>
<text x="339.06" y="521.7" font-size="9.8" text-anchor="middle" font-weight="normal" fill="#262626" stroke="#262626" stroke-width="0.22" >8</text>
<text x="355.28" y="521.7" font-size="9.8" text-anchor="middle" font-weight="normal" fill="#262626" stroke="#262626" stroke-width="0.22" >9</text>
<text x="371.5" y="521.7" font-size="9.8" text-anchor="middle" font-weight="normal" fill="#262626" stroke="#262626" stroke-width="0.22" >10</text>
<text x="221.3" y="509.36" font-size="9.8" text-anchor="end" font-weight="normal" fill="#262626" stroke="#262626" stroke-width="0.22" >2</text>
<text x="221.3" y="479.17" font-size="9.8" text-anchor="end" font-weight="normal" fill="#262626" stroke="#262626" stroke-width="0.22" >2.5</text>
<text x="221.3" y="448.98" font-size="9.8" text-anchor="end" font-weight="normal" fill="#262626" stroke="#262626" stroke-width="0.22" >3</text>
<text x="221.3" y="418.79" font-size="9.8" text-anchor="end" font-weight="normal" fill="#262626" stroke="#262626" stroke-width="0.22" >3.5</text>
<text x="221.3" y="388.59" font-size="9.8" text-anchor="end" font-weight="normal" fill="#262626" stroke="#262626" stroke-width="0.22" >4</text>
<text x="298.5" y="374.8" font-size="10.3" text-anchor="middle" font-weight="bold" fill="#000" >Influence of initialization</text>
<text x="299.3" y="535.5" font-size="10.3" text-anchor="middle" font-weight="normal" fill="#262626" stroke="#262626" stroke-width="0.22" >Lead time (Years)</text>
<text x="0" y="0" font-size="10.45" text-anchor="middle" font-weight="normal" fill="#262626" stroke="#262626" stroke-width="0.22" transform="translate(202.58,444.25) rotate(-90)">Ensemble spread, <tspan font-style="italic" font-family="Liberation Serif">σ</tspan> (°C)</text>
<g clip-path="url(#ch)">
<rect x="225.5" y="409.35" width="146.0" height="94.2" fill="#e6e6e6"/>
<rect x="225.5" y="426.86" width="146.0" height="57.37" fill="#bdbdbd"/>
<line x1="225.5" y1="454.5" x2="371.5" y2="454.5" stroke="#333" stroke-width="1"/>
<polygon points="225.5,408.74 241.72,404.52 257.94,388.82 274.17,380.36 290.39,397.87 306.61,393.04 322.83,407.54 339.06,393.04 355.28,380.36 371.5,399.69 371.5,493.89 355.28,495.7 339.06,496.91 322.83,498.72 306.61,496.91 290.39,498.72 274.17,508.38 257.94,494.49 241.72,504.15 225.5,505.96" fill="rgb(175,171,223)" stroke="none" fill-opacity="0.476"/>
<polygon points="225.5,422.63 241.72,420.22 257.94,406.93 274.17,417.8 290.39,416.59 306.61,402.7 322.83,419.01 339.06,408.74 355.28,404.52 371.5,407.54 371.5,480.6 355.28,480.6 339.06,481.81 322.83,478.79 306.61,478.19 290.39,481.81 274.17,483.02 257.94,484.23 241.72,489.66 225.5,487.24" fill="rgb(124,116,197)" stroke="none" fill-opacity="0.48"/>
<polyline points="225.5,455.84 241.72,452.22 257.94,446.79 274.17,451.01 290.39,445.58 306.61,440.75 322.83,447.39 339.06,444.37 355.28,444.37 371.5,444.97" fill="none" stroke="#2f4fb0" stroke-width="2.0" stroke-linejoin="round" />
</g>
<line x1="257.3" y1="486.5" x2="284.4" y2="486.5" stroke="#333" stroke-width="1"/>
<line x1="257.3" y1="497.0" x2="284.4" y2="497.0" stroke="#2f4fb0" stroke-width="2"/>
<text x="288.1" y="489.1" font-size="8.25" text-anchor="start" font-weight="normal" fill="#000" stroke="#000" stroke-width="0.22" >CESM1-LE</text>
<text x="288.1" y="500" font-size="8.25" text-anchor="start" font-weight="normal" fill="#000" stroke="#000" stroke-width="0.22" >CESM1-DPLE</text>
<text x="354.5" y="499.7" font-size="8.9" text-anchor="start" font-weight="normal" fill="#000" stroke="#000" stroke-width="0.22" >(h)</text>
<text x="418.5" y="521.7" font-size="9.8" text-anchor="middle" font-weight="normal" fill="#262626" stroke="#262626" stroke-width="0.22" >2000</text>
<text x="467.17" y="521.7" font-size="9.8" text-anchor="middle" font-weight="normal" fill="#262626" stroke="#262626" stroke-width="0.22" >2010</text>
<text x="515.83" y="521.7" font-size="9.8" text-anchor="middle" font-weight="normal" fill="#262626" stroke="#262626" stroke-width="0.22" >2020</text>
<text x="564.5" y="521.7" font-size="9.8" text-anchor="middle" font-weight="normal" fill="#262626" stroke="#262626" stroke-width="0.22" >2030</text>
<text x="414.3" y="490.48" font-size="9.8" text-anchor="end" font-weight="normal" fill="#262626" stroke="#262626" stroke-width="0.22" >-5</text>
<text x="414.3" y="454.79" font-size="9.8" text-anchor="end" font-weight="normal" fill="#262626" stroke="#262626" stroke-width="0.22" >0</text>
<text x="414.3" y="419.09" font-size="9.8" text-anchor="end" font-weight="normal" fill="#262626" stroke="#262626" stroke-width="0.22" >5</text>
<text x="414.3" y="383.4" font-size="9.8" text-anchor="end" font-weight="normal" fill="#262626" stroke="#262626" stroke-width="0.22" >10</text>
<text x="491.5" y="374.8" font-size="10.3" text-anchor="middle" font-weight="bold" fill="#000" >Source of uncertainty</text>
<text x="492.3" y="535.5" font-size="10.3" text-anchor="middle" font-weight="normal" fill="#262626" stroke="#262626" stroke-width="0.22" >Time (Year)</text>
<text x="0" y="0" font-size="10.45" text-anchor="middle" font-weight="normal" fill="#262626" stroke="#262626" stroke-width="0.22" transform="translate(398.3,444.25) rotate(-90)">Temperature anomaly (°C)</text>
<g clip-path="url(#ci)">
<polygon points="418.5,434.47 419.72,434.43 420.93,434.39 422.15,434.34 423.37,434.3 424.58,434.26 425.8,434.22 427.02,434.18 428.23,434.14 429.45,434.09 430.67,434.05 431.88,434.01 433.1,433.97 434.32,433.93 435.53,433.88 436.75,433.84 437.97,433.8 439.18,433.76 440.4,433.72 441.62,433.68 442.83,433.63 444.05,433.59 445.27,433.55 446.48,433.51 447.7,433.47 448.92,433.43 450.13,433.38 451.35,433.34 452.57,433.3 453.78,433.26 455,433.22 456.22,433.17 457.43,433.13 458.65,433.09 459.87,433.05 461.08,433.01 462.3,432.97 463.52,432.92 464.73,432.87 465.95,432.81 467.17,432.74 468.38,432.67 469.6,432.6 470.82,432.54 472.03,432.47 473.25,432.29 474.47,432.11 475.68,431.94 476.9,431.76 478.12,431.64 479.33,431.52 480.55,431.4 481.77,431.29 482.98,431.17 484.2,431.05 485.42,430.94 486.63,430.82 487.85,430.7 489.07,430.58 490.28,430.47 491.5,430.35 492.72,430.23 493.93,430.11 495.15,430 496.37,429.88 497.58,429.76 498.8,429.64 500.02,429.53 501.23,429.41 502.45,429.29 503.67,429.18 504.88,429.06 506.1,428.94 507.32,428.83 508.53,428.71 509.75,428.59 510.97,428.48 512.18,428.36 513.4,428.24 514.62,428.13 515.83,428.01 517.05,427.89 518.27,427.77 519.48,427.66 520.7,427.54 521.92,427.42 523.13,427.31 524.35,427.19 525.57,427.07 526.78,426.96 528,426.84 529.22,426.72 530.43,426.61 531.65,426.49 532.87,426.37 534.08,426.26 535.3,426.14 536.52,426.02 537.73,425.9 538.95,425.79 540.17,425.67 541.38,425.55 542.6,425.44 543.82,425.32 545.03,425.2 546.25,425.09 547.47,424.97 548.68,424.85 549.9,424.74 551.12,424.62 552.33,424.5 553.55,424.39 554.77,424.27 555.98,424.15 557.2,424.03 558.42,423.92 559.63,423.8 560.85,423.68 562.07,423.57 563.28,423.45 564.5,423.33 564.5,466.24 563.28,466.29 562.07,466.34 560.85,466.38 559.63,466.43 558.42,466.48 557.2,466.53 555.98,466.58 554.77,466.63 553.55,466.68 552.33,466.73 551.12,466.78 549.9,466.83 548.68,466.87 547.47,466.92 546.25,466.97 545.03,467.02 543.82,467.07 542.6,467.12 541.38,467.17 540.17,467.22 538.95,467.27 537.73,467.32 536.52,467.36 535.3,467.41 534.08,467.46 532.87,467.51 531.65,467.56 530.43,467.61 529.22,467.66 528,467.71 526.78,467.76 525.57,467.81 524.35,467.85 523.13,467.9 521.92,467.95 520.7,468 519.48,468.05 518.27,468.1 517.05,468.15 515.83,468.2 514.62,468.25 513.4,468.3 512.18,468.34 510.97,468.39 509.75,468.44 508.53,468.49 507.32,468.54 506.1,468.59 504.88,468.64 503.67,468.69 502.45,468.74 501.23,468.79 500.02,468.83 498.8,468.88 497.58,468.93 496.37,468.98 495.15,469.03 493.93,469.08 492.72,469.13 491.5,469.18 490.28,469.23 489.07,469.27 487.85,469.31 486.63,469.35 485.42,469.39 484.2,469.43 482.98,469.47 481.77,469.51 480.55,469.55 479.33,469.59 478.12,469.62 476.9,469.66 475.68,469.56 474.47,469.45 473.25,469.34 472.03,469.24 470.82,469.35 469.6,469.46 468.38,469.57 467.17,469.68 465.95,469.79 464.73,469.91 463.52,470.02 462.3,470.14 461.08,470.26 459.87,470.37 458.65,470.49 457.43,470.61 456.22,470.73 455,470.84 453.78,470.96 452.57,471.08 451.35,471.2 450.13,471.32 448.92,471.43 447.7,471.55 446.48,471.67 445.27,471.79 444.05,471.9 442.83,472.02 441.62,472.14 440.4,472.26 439.18,472.37 437.97,472.49 436.75,472.61 435.53,472.73 434.32,472.85 433.1,472.96 431.88,473.08 430.67,473.2 429.45,473.32 428.23,473.43 427.02,473.55 425.8,473.67 424.58,473.79 423.37,473.91 422.15,474.02 420.93,474.14 419.72,474.26 418.5,474.38" fill="#f27424" stroke="none" />
<polygon points="418.5,451.82 419.72,451.81 420.93,451.8 422.15,451.79 423.37,451.78 424.58,451.77 425.8,451.76 427.02,451.75 428.23,451.74 429.45,451.73 430.67,451.72 431.88,451.71 433.1,451.7 434.32,451.69 435.53,451.68 436.75,451.67 437.97,451.66 439.18,451.65 440.4,451.64 441.62,451.63 442.83,451.62 444.05,451.61 445.27,451.6 446.48,451.59 447.7,451.58 448.92,451.57 450.13,451.56 451.35,451.55 452.57,451.54 453.78,451.53 455,451.53 456.22,451.52 457.43,451.51 458.65,451.5 459.87,451.49 461.08,451.48 462.3,451.47 463.52,451.46 464.73,451.45 465.95,451.44 467.17,451.43 468.38,451.42 469.6,451.41 470.82,451.4 472.03,451.39 473.25,451.21 474.47,451.03 475.68,450.85 476.9,450.68 478.12,450.5 479.33,450.32 480.55,450.14 481.77,449.96 482.98,449.78 484.2,449.6 485.42,449.43 486.63,449.25 487.85,449.07 489.07,448.89 490.28,448.72 491.5,448.61 492.72,448.5 493.93,448.38 495.15,448.27 496.37,448.15 497.58,448.04 498.8,447.92 500.02,447.81 501.23,447.7 502.45,447.58 503.67,447.47 504.88,447.35 506.1,447.24 507.32,447.12 508.53,447.01 509.75,446.9 510.97,446.78 512.18,446.67 513.4,446.55 514.62,446.44 515.83,446.32 517.05,446.21 518.27,446.1 519.48,445.98 520.7,445.87 521.92,445.75 523.13,445.64 524.35,445.52 525.57,445.41 526.78,445.3 528,445.18 529.22,445.07 530.43,444.95 531.65,444.84 532.87,444.72 534.08,444.61 535.3,444.49 536.52,444.38 537.73,444.27 538.95,444.15 540.17,444.04 541.38,443.92 542.6,443.81 543.82,443.69 545.03,443.58 546.25,443.47 547.47,443.35 548.68,443.24 549.9,443.12 551.12,443.01 552.33,442.89 553.55,442.78 554.77,442.67 555.98,442.55 557.2,442.44 558.42,442.32 559.63,442.21 560.85,442.09 562.07,441.98 563.28,441.87 564.5,441.75 564.5,448.75 563.28,448.78 562.07,448.81 560.85,448.84 559.63,448.87 558.42,448.9 557.2,448.94 555.98,448.97 554.77,449 553.55,449.03 552.33,449.06 551.12,449.09 549.9,449.13 548.68,449.16 547.47,449.19 546.25,449.22 545.03,449.25 543.82,449.28 542.6,449.31 541.38,449.35 540.17,449.38 538.95,449.41 537.73,449.44 536.52,449.47 535.3,449.5 534.08,449.53 532.87,449.57 531.65,449.6 530.43,449.63 529.22,449.66 528,449.69 526.78,449.72 525.57,449.76 524.35,449.79 523.13,449.82 521.92,449.85 520.7,449.88 519.48,449.91 518.27,449.94 517.05,449.98 515.83,450.01 514.62,450.04 513.4,450.07 512.18,450.1 510.97,450.13 509.75,450.16 508.53,450.2 507.32,450.23 506.1,450.26 504.88,450.29 503.67,450.32 502.45,450.35 501.23,450.39 500.02,450.42 498.8,450.45 497.58,450.48 496.37,450.51 495.15,450.54 493.93,450.57 492.72,450.61 491.5,450.64 490.28,450.67 489.07,450.71 487.85,450.76 486.63,450.81 485.42,450.86 484.2,450.91 482.98,450.95 481.77,451 480.55,451.05 479.33,451.1 478.12,451.15 476.9,451.2 475.68,451.24 474.47,451.29 473.25,451.34 472.03,451.39 470.82,451.49 469.6,451.58 468.38,451.68 467.17,451.78 465.95,451.88 464.73,451.97 463.52,452.07 462.3,452.17 461.08,452.27 459.87,452.36 458.65,452.46 457.43,452.56 456.22,452.65 455,452.75 453.78,452.85 452.57,452.95 451.35,453.04 450.13,453.14 448.92,453.24 447.7,453.34 446.48,453.43 445.27,453.53 444.05,453.63 442.83,453.73 441.62,453.82 440.4,453.92 439.18,454.02 437.97,454.11 436.75,454.21 435.53,454.31 434.32,454.41 433.1,454.5 431.88,454.6 430.67,454.7 429.45,454.8 428.23,454.89 427.02,454.99 425.8,455.09 424.58,455.19 423.37,455.28 422.15,455.38 420.93,455.48 419.72,455.57 418.5,455.67" fill="#3a4aa3" stroke="none" />
<polygon points="472.03,451.39 473.2,451.3 474.37,451.21 475.54,451.12 476.72,451.03 477.89,450.94 479.06,450.85 480.23,450.76 481.4,450.67 482.57,450.58 483.74,450.49 484.91,450.39 486.08,450.3 487.25,450.21 488.42,450.12 489.59,450.03 490.76,449.94 491.93,449.85 493.1,449.76 494.27,449.67 495.44,449.58 496.61,449.49 497.78,449.4 498.95,449.31 500.12,449.22 501.29,449.13 502.47,449.04 503.64,448.95 504.81,448.86 505.98,448.77 507.15,448.68 508.32,448.59 509.49,448.5 510.66,448.41 511.83,448.32 513,448.23 514.17,448.14 515.34,448.05 516.51,447.95 517.68,447.86 518.85,447.77 520.02,447.68 521.19,447.59 522.36,447.5 523.53,447.41 524.7,447.32 525.87,447.23 527.05,447.14 528.22,447.05 529.39,446.96 530.56,446.87 531.73,446.78 532.9,446.69 534.07,446.6 535.24,446.51 536.41,446.42 537.58,446.33 538.75,446.24 539.92,446.15 541.09,446.06 542.26,445.97 543.43,445.88 544.6,445.79 545.77,445.7 546.94,445.61 548.11,445.52 549.28,445.42 550.45,445.33 551.62,445.24 552.8,445.15 553.97,445.06 555.14,444.97 556.31,444.88 557.48,444.79 558.65,444.7 559.82,444.61 560.99,444.52 562.16,444.43 563.33,444.34 564.5,444.25 564.5,446.68 563.33,446.74 562.16,446.8 560.99,446.86 559.82,446.92 558.65,446.98 557.48,447.04 556.31,447.09 555.14,447.15 553.97,447.21 552.8,447.27 551.62,447.33 550.45,447.39 549.28,447.45 548.11,447.51 546.94,447.57 545.77,447.63 544.6,447.69 543.43,447.75 542.26,447.81 541.09,447.87 539.92,447.93 538.75,447.99 537.58,448.05 536.41,448.11 535.24,448.17 534.07,448.23 532.9,448.29 531.73,448.35 530.56,448.41 529.39,448.47 528.22,448.53 527.05,448.59 525.87,448.65 524.7,448.71 523.53,448.76 522.36,448.82 521.19,448.88 520.02,448.94 518.85,449 517.68,449.06 516.51,449.12 515.34,449.18 514.17,449.24 513,449.3 511.83,449.36 510.66,449.42 509.49,449.48 508.32,449.54 507.15,449.6 505.98,449.66 504.81,449.72 503.64,449.78 502.47,449.84 501.29,449.9 500.12,449.96 498.95,450.02 497.78,450.08 496.61,450.14 495.44,450.2 494.27,450.26 493.1,450.32 491.93,450.37 490.76,450.43 489.59,450.49 488.42,450.55 487.25,450.61 486.08,450.67 484.91,450.73 483.74,450.79 482.57,450.85 481.4,450.91 480.23,450.97 479.06,451.03 477.89,451.09 476.72,451.15 475.54,451.21 474.37,451.27 473.2,451.33 472.03,451.39" fill="#128046" stroke="none" />
<line x1="418.5" y1="451.5" x2="564.5" y2="451.5" stroke="#262626" stroke-opacity="0.6" stroke-width="1"/>
<polyline points="472.03,460.67 473.07,452.38 474.11,444.58 475.15,435.81 476.19,432.36 477.23,431.51 478.27,431.38 479.31,431.25 480.34,431.12 481.38,430.99 482.42,430.86 483.46,430.73 484.5,430.6 485.54,430.47 486.58,430.34 487.62,430.21 488.66,430.07 489.7,429.94 490.73,429.84 491.77,429.74 492.81,429.65 493.85,429.55 494.89,429.46 495.93,429.36 496.97,429.27 498.01,429.18 499.05,429.08 500.09,428.99 501.12,428.89 502.16,428.8 503.2,428.7 504.24,428.61 505.28,428.51 506.32,428.42 507.36,428.32 508.4,428.23 509.44,428.13 510.47,428.04 511.51,427.94 512.55,427.85 513.59,427.76 514.63,427.66 515.67,427.57 516.71,427.47 517.75,427.38 518.79,427.28 519.83,427.19 520.86,427.09 521.9,427 522.94,426.9 523.98,426.81 525.02,426.71 526.06,426.62 527.1,426.53 528.14,426.43 529.18,426.34 530.21,426.24 531.25,426.15 532.29,426.05 533.33,425.96 534.37,425.86 535.41,425.77 536.45,425.67 537.49,425.58 538.53,425.48 539.57,425.39 540.6,425.3 541.64,425.2 542.68,425.11 543.72,425.01 544.76,424.92 545.8,424.82 546.84,424.73 547.88,424.63 548.92,424.54 549.95,424.44 550.99,424.35 552.03,424.25 553.07,424.16 554.11,424.07 555.15,423.97 556.19,423.88 557.23,423.78 558.27,423.69 559.31,423.59 560.34,423.5 561.38,423.4 562.42,423.31 563.46,423.21 564.5,423.12" fill="none" stroke="#000" stroke-width="1.9" stroke-linejoin="round" stroke-dasharray="1.9 1.85"/>
<polyline points="472.03,460.67 473.07,462.22 474.11,463.78 475.15,465.71 476.19,468.09 477.23,469.87 478.27,469.83 479.31,469.79 480.34,469.75 481.38,469.71 482.42,469.67 483.46,469.63 484.5,469.59 485.54,469.55 486.58,469.51 487.62,469.47 488.66,469.43 489.7,469.39 490.73,469.35 491.77,469.31 492.81,469.27 493.85,469.23 494.89,469.18 495.93,469.14 496.97,469.1 498.01,469.06 499.05,469.02 500.09,468.97 501.12,468.93 502.16,468.89 503.2,468.85 504.24,468.81 505.28,468.77 506.32,468.72 507.36,468.68 508.4,468.64 509.44,468.6 510.47,468.56 511.51,468.51 512.55,468.47 513.59,468.43 514.63,468.39 515.67,468.35 516.71,468.31 517.75,468.26 518.79,468.22 519.83,468.18 520.86,468.14 521.9,468.1 522.94,468.05 523.98,468.01 525.02,467.97 526.06,467.93 527.1,467.89 528.14,467.84 529.18,467.8 530.21,467.76 531.25,467.72 532.29,467.68 533.33,467.64 534.37,467.59 535.41,467.55 536.45,467.51 537.49,467.47 538.53,467.43 539.57,467.38 540.6,467.34 541.64,467.3 542.68,467.26 543.72,467.22 544.76,467.18 545.8,467.13 546.84,467.09 547.88,467.05 548.92,467.01 549.95,466.97 550.99,466.92 552.03,466.88 553.07,466.84 554.11,466.8 555.15,466.76 556.19,466.72 557.23,466.67 558.27,466.63 559.31,466.59 560.34,466.55 561.38,466.51 562.42,466.46 563.46,466.42 564.5,466.38" fill="none" stroke="#000" stroke-width="1.9" stroke-linejoin="round" stroke-dasharray="1.9 1.85"/>
</g>
<polyline points="418.5,455.39 423.37,433.33 428.23,455.67 433.1,435.25 437.97,458.81 442.83,449.6 447.7,453.89 452.57,456.1 457.43,463.03 462.3,468.31 467.17,444.46 472.03,465.52 476.9,460.6 481.77,451.32 486.63,447.39 491.5,437.11 496.37,431.61 501.23,456.81 506.1,447.39 510.97,445.75 515.83,462.74 520.7,449.68" fill="none" stroke="#222" stroke-width="2.1" stroke-linejoin="round" />
<circle cx="418.5" cy="455.39" r="2.05" fill="#222"/>
<circle cx="423.37" cy="433.33" r="2.05" fill="#222"/>
<circle cx="428.23" cy="455.67" r="2.05" fill="#222"/>
<circle cx="433.1" cy="435.25" r="2.05" fill="#222"/>
<circle cx="437.97" cy="458.81" r="2.05" fill="#222"/>
<circle cx="442.83" cy="449.6" r="2.05" fill="#222"/>
<circle cx="447.7" cy="453.89" r="2.05" fill="#222"/>
<circle cx="452.57" cy="456.1" r="2.05" fill="#222"/>
<circle cx="457.43" cy="463.03" r="2.05" fill="#222"/>
<circle cx="462.3" cy="468.31" r="2.05" fill="#222"/>
<circle cx="467.17" cy="444.46" r="2.05" fill="#222"/>
<circle cx="472.03" cy="465.52" r="2.05" fill="#222"/>
<circle cx="476.9" cy="460.6" r="2.05" fill="#222"/>
<circle cx="481.77" cy="451.32" r="2.05" fill="#222"/>
<circle cx="486.63" cy="447.39" r="2.05" fill="#222"/>
<circle cx="491.5" cy="437.11" r="2.05" fill="#222"/>
<circle cx="496.37" cy="431.61" r="2.05" fill="#222"/>
<circle cx="501.23" cy="456.81" r="2.05" fill="#222"/>
<circle cx="506.1" cy="447.39" r="2.05" fill="#222"/>
<circle cx="510.97" cy="445.75" r="2.05" fill="#222"/>
<circle cx="515.83" cy="462.74" r="2.05" fill="#222"/>
<circle cx="520.7" cy="449.68" r="2.05" fill="#222"/>
<rect x="426.2" y="388.2" width="27.69999999999999" height="7.5" fill="#f27424"/>
<line x1="425.7" y1="402.3" x2="453.9" y2="402.3" stroke="#000" stroke-width="1.9" stroke-dasharray="1.9 1.85"/>
<rect x="426.2" y="409.8" width="27.69999999999999" height="7.3" fill="#3a4aa3"/>
<rect x="426.2" y="420.5" width="27.69999999999999" height="7" fill="#128046"/>
<text x="457" y="395" font-size="8.25" text-anchor="start" font-weight="normal" fill="#000" stroke="#000" stroke-width="0.22" >Internal variability</text>
<text x="457" y="405.8" font-size="8.25" text-anchor="start" font-weight="normal" fill="#000" stroke="#000" stroke-width="0.22" >Int. var. constrained</text>
<text x="457" y="416.5" font-size="8.25" text-anchor="start" font-weight="normal" fill="#000" stroke="#000" stroke-width="0.22" >Response</text>
<text x="457" y="427" font-size="8.25" text-anchor="start" font-weight="normal" fill="#000" stroke="#000" stroke-width="0.22" >Scenario</text>
<text x="547.5" y="499" font-size="8.9" text-anchor="start" font-weight="normal" fill="#000" stroke="#000" stroke-width="0.22" >(i)</text><rect x="33.5" y="12.5" width="146.0" height="129.0" fill="none" stroke="#6b6b6b" stroke-width="1"/>
<line x1="33.5" y1="141.5" x2="33.5" y2="139.9" stroke="#6b6b6b" stroke-width="0.8"/>
<line x1="33.5" y1="12.5" x2="33.5" y2="14.1" stroke="#6b6b6b" stroke-width="0.8"/>
<line x1="82.17" y1="141.5" x2="82.17" y2="139.9" stroke="#6b6b6b" stroke-width="0.8"/>
<line x1="82.17" y1="12.5" x2="82.17" y2="14.1" stroke="#6b6b6b" stroke-width="0.8"/>
<line x1="130.83" y1="141.5" x2="130.83" y2="139.9" stroke="#6b6b6b" stroke-width="0.8"/>
<line x1="130.83" y1="12.5" x2="130.83" y2="14.1" stroke="#6b6b6b" stroke-width="0.8"/>
<line x1="179.5" y1="141.5" x2="179.5" y2="139.9" stroke="#6b6b6b" stroke-width="0.8"/>
<line x1="179.5" y1="12.5" x2="179.5" y2="14.1" stroke="#6b6b6b" stroke-width="0.8"/>
<line x1="33.5" y1="141.5" x2="35.1" y2="141.5" stroke="#6b6b6b" stroke-width="0.8"/>
<line x1="179.5" y1="141.5" x2="177.9" y2="141.5" stroke="#6b6b6b" stroke-width="0.8"/>
<line x1="33.5" y1="98.5" x2="35.1" y2="98.5" stroke="#6b6b6b" stroke-width="0.8"/>
<line x1="179.5" y1="98.5" x2="177.9" y2="98.5" stroke="#6b6b6b" stroke-width="0.8"/>
<line x1="33.5" y1="55.5" x2="35.1" y2="55.5" stroke="#6b6b6b" stroke-width="0.8"/>
<line x1="179.5" y1="55.5" x2="177.9" y2="55.5" stroke="#6b6b6b" stroke-width="0.8"/>
<line x1="33.5" y1="12.5" x2="35.1" y2="12.5" stroke="#6b6b6b" stroke-width="0.8"/>
<line x1="179.5" y1="12.5" x2="177.9" y2="12.5" stroke="#6b6b6b" stroke-width="0.8"/>
<rect x="226.5" y="12.5" width="146.0" height="129.0" fill="none" stroke="#6b6b6b" stroke-width="1"/>
<line x1="226.5" y1="141.5" x2="226.5" y2="139.9" stroke="#6b6b6b" stroke-width="0.8"/>
<line x1="226.5" y1="12.5" x2="226.5" y2="14.1" stroke="#6b6b6b" stroke-width="0.8"/>
<line x1="242.72" y1="141.5" x2="242.72" y2="139.9" stroke="#6b6b6b" stroke-width="0.8"/>
<line x1="242.72" y1="12.5" x2="242.72" y2="14.1" stroke="#6b6b6b" stroke-width="0.8"/>
<line x1="258.94" y1="141.5" x2="258.94" y2="139.9" stroke="#6b6b6b" stroke-width="0.8"/>
<line x1="258.94" y1="12.5" x2="258.94" y2="14.1" stroke="#6b6b6b" stroke-width="0.8"/>
<line x1="275.17" y1="141.5" x2="275.17" y2="139.9" stroke="#6b6b6b" stroke-width="0.8"/>
<line x1="275.17" y1="12.5" x2="275.17" y2="14.1" stroke="#6b6b6b" stroke-width="0.8"/>
<line x1="291.39" y1="141.5" x2="291.39" y2="139.9" stroke="#6b6b6b" stroke-width="0.8"/>
<line x1="291.39" y1="12.5" x2="291.39" y2="14.1" stroke="#6b6b6b" stroke-width="0.8"/>
<line x1="307.61" y1="141.5" x2="307.61" y2="139.9" stroke="#6b6b6b" stroke-width="0.8"/>
<line x1="307.61" y1="12.5" x2="307.61" y2="14.1" stroke="#6b6b6b" stroke-width="0.8"/>
<line x1="323.83" y1="141.5" x2="323.83" y2="139.9" stroke="#6b6b6b" stroke-width="0.8"/>
<line x1="323.83" y1="12.5" x2="323.83" y2="14.1" stroke="#6b6b6b" stroke-width="0.8"/>
<line x1="340.06" y1="141.5" x2="340.06" y2="139.9" stroke="#6b6b6b" stroke-width="0.8"/>
<line x1="340.06" y1="12.5" x2="340.06" y2="14.1" stroke="#6b6b6b" stroke-width="0.8"/>
<line x1="356.28" y1="141.5" x2="356.28" y2="139.9" stroke="#6b6b6b" stroke-width="0.8"/>
<line x1="356.28" y1="12.5" x2="356.28" y2="14.1" stroke="#6b6b6b" stroke-width="0.8"/>
<line x1="372.5" y1="141.5" x2="372.5" y2="139.9" stroke="#6b6b6b" stroke-width="0.8"/>
<line x1="372.5" y1="12.5" x2="372.5" y2="14.1" stroke="#6b6b6b" stroke-width="0.8"/>
<line x1="226.5" y1="128.3" x2="228.1" y2="128.3" stroke="#6b6b6b" stroke-width="0.8"/>
<line x1="372.5" y1="128.3" x2="370.9" y2="128.3" stroke="#6b6b6b" stroke-width="0.8"/>
<line x1="226.5" y1="70.4" x2="228.1" y2="70.4" stroke="#6b6b6b" stroke-width="0.8"/>
<line x1="372.5" y1="70.4" x2="370.9" y2="70.4" stroke="#6b6b6b" stroke-width="0.8"/>
<line x1="226.5" y1="12.5" x2="228.1" y2="12.5" stroke="#6b6b6b" stroke-width="0.8"/>
<line x1="372.5" y1="12.5" x2="370.9" y2="12.5" stroke="#6b6b6b" stroke-width="0.8"/>
<rect x="419.5" y="12.5" width="146.0" height="129.0" fill="none" stroke="#6b6b6b" stroke-width="1"/>
<line x1="419.5" y1="141.5" x2="419.5" y2="139.9" stroke="#6b6b6b" stroke-width="0.8"/>
<line x1="419.5" y1="12.5" x2="419.5" y2="14.1" stroke="#6b6b6b" stroke-width="0.8"/>
<line x1="468.17" y1="141.5" x2="468.17" y2="139.9" stroke="#6b6b6b" stroke-width="0.8"/>
<line x1="468.17" y1="12.5" x2="468.17" y2="14.1" stroke="#6b6b6b" stroke-width="0.8"/>
<line x1="516.83" y1="141.5" x2="516.83" y2="139.9" stroke="#6b6b6b" stroke-width="0.8"/>
<line x1="516.83" y1="12.5" x2="516.83" y2="14.1" stroke="#6b6b6b" stroke-width="0.8"/>
<line x1="565.5" y1="141.5" x2="565.5" y2="139.9" stroke="#6b6b6b" stroke-width="0.8"/>
<line x1="565.5" y1="12.5" x2="565.5" y2="14.1" stroke="#6b6b6b" stroke-width="0.8"/>
<line x1="419.5" y1="141.5" x2="421.1" y2="141.5" stroke="#6b6b6b" stroke-width="0.8"/>
<line x1="565.5" y1="141.5" x2="563.9" y2="141.5" stroke="#6b6b6b" stroke-width="0.8"/>
<line x1="419.5" y1="98.5" x2="421.1" y2="98.5" stroke="#6b6b6b" stroke-width="0.8"/>
<line x1="565.5" y1="98.5" x2="563.9" y2="98.5" stroke="#6b6b6b" stroke-width="0.8"/>
<line x1="419.5" y1="55.5" x2="421.1" y2="55.5" stroke="#6b6b6b" stroke-width="0.8"/>
<line x1="565.5" y1="55.5" x2="563.9" y2="55.5" stroke="#6b6b6b" stroke-width="0.8"/>
<line x1="419.5" y1="12.5" x2="421.1" y2="12.5" stroke="#6b6b6b" stroke-width="0.8"/>
<line x1="565.5" y1="12.5" x2="563.9" y2="12.5" stroke="#6b6b6b" stroke-width="0.8"/>
<rect x="32.5" y="198.5" width="146.0" height="129.0" fill="none" stroke="#6b6b6b" stroke-width="1"/>
<line x1="32.5" y1="327.5" x2="32.5" y2="325.9" stroke="#6b6b6b" stroke-width="0.8"/>
<line x1="32.5" y1="198.5" x2="32.5" y2="200.1" stroke="#6b6b6b" stroke-width="0.8"/>
<line x1="81.17" y1="327.5" x2="81.17" y2="325.9" stroke="#6b6b6b" stroke-width="0.8"/>
<line x1="81.17" y1="198.5" x2="81.17" y2="200.1" stroke="#6b6b6b" stroke-width="0.8"/>
<line x1="129.83" y1="327.5" x2="129.83" y2="325.9" stroke="#6b6b6b" stroke-width="0.8"/>
<line x1="129.83" y1="198.5" x2="129.83" y2="200.1" stroke="#6b6b6b" stroke-width="0.8"/>
<line x1="178.5" y1="327.5" x2="178.5" y2="325.9" stroke="#6b6b6b" stroke-width="0.8"/>
<line x1="178.5" y1="198.5" x2="178.5" y2="200.1" stroke="#6b6b6b" stroke-width="0.8"/>
<line x1="32.5" y1="327.5" x2="34.1" y2="327.5" stroke="#6b6b6b" stroke-width="0.8"/>
<line x1="178.5" y1="327.5" x2="176.9" y2="327.5" stroke="#6b6b6b" stroke-width="0.8"/>
<line x1="32.5" y1="298.83" x2="34.1" y2="298.83" stroke="#6b6b6b" stroke-width="0.8"/>
<line x1="178.5" y1="298.83" x2="176.9" y2="298.83" stroke="#6b6b6b" stroke-width="0.8"/>
<line x1="32.5" y1="270.17" x2="34.1" y2="270.17" stroke="#6b6b6b" stroke-width="0.8"/>
<line x1="178.5" y1="270.17" x2="176.9" y2="270.17" stroke="#6b6b6b" stroke-width="0.8"/>
<line x1="32.5" y1="241.5" x2="34.1" y2="241.5" stroke="#6b6b6b" stroke-width="0.8"/>
<line x1="178.5" y1="241.5" x2="176.9" y2="241.5" stroke="#6b6b6b" stroke-width="0.8"/>
<line x1="32.5" y1="212.83" x2="34.1" y2="212.83" stroke="#6b6b6b" stroke-width="0.8"/>
<line x1="178.5" y1="212.83" x2="176.9" y2="212.83" stroke="#6b6b6b" stroke-width="0.8"/>
<rect x="225.5" y="198.5" width="146.0" height="129.0" fill="none" stroke="#6b6b6b" stroke-width="1"/>
<line x1="225.5" y1="327.5" x2="225.5" y2="325.9" stroke="#6b6b6b" stroke-width="0.8"/>
<line x1="225.5" y1="198.5" x2="225.5" y2="200.1" stroke="#6b6b6b" stroke-width="0.8"/>
<line x1="241.72" y1="327.5" x2="241.72" y2="325.9" stroke="#6b6b6b" stroke-width="0.8"/>
<line x1="241.72" y1="198.5" x2="241.72" y2="200.1" stroke="#6b6b6b" stroke-width="0.8"/>
<line x1="257.94" y1="327.5" x2="257.94" y2="325.9" stroke="#6b6b6b" stroke-width="0.8"/>
<line x1="257.94" y1="198.5" x2="257.94" y2="200.1" stroke="#6b6b6b" stroke-width="0.8"/>
<line x1="274.17" y1="327.5" x2="274.17" y2="325.9" stroke="#6b6b6b" stroke-width="0.8"/>
<line x1="274.17" y1="198.5" x2="274.17" y2="200.1" stroke="#6b6b6b" stroke-width="0.8"/>
<line x1="290.39" y1="327.5" x2="290.39" y2="325.9" stroke="#6b6b6b" stroke-width="0.8"/>
<line x1="290.39" y1="198.5" x2="290.39" y2="200.1" stroke="#6b6b6b" stroke-width="0.8"/>
<line x1="306.61" y1="327.5" x2="306.61" y2="325.9" stroke="#6b6b6b" stroke-width="0.8"/>
<line x1="306.61" y1="198.5" x2="306.61" y2="200.1" stroke="#6b6b6b" stroke-width="0.8"/>
<line x1="322.83" y1="327.5" x2="322.83" y2="325.9" stroke="#6b6b6b" stroke-width="0.8"/>
<line x1="322.83" y1="198.5" x2="322.83" y2="200.1" stroke="#6b6b6b" stroke-width="0.8"/>
<line x1="339.06" y1="327.5" x2="339.06" y2="325.9" stroke="#6b6b6b" stroke-width="0.8"/>
<line x1="339.06" y1="198.5" x2="339.06" y2="200.1" stroke="#6b6b6b" stroke-width="0.8"/>
<line x1="355.28" y1="327.5" x2="355.28" y2="325.9" stroke="#6b6b6b" stroke-width="0.8"/>
<line x1="355.28" y1="198.5" x2="355.28" y2="200.1" stroke="#6b6b6b" stroke-width="0.8"/>
<line x1="371.5" y1="327.5" x2="371.5" y2="325.9" stroke="#6b6b6b" stroke-width="0.8"/>
<line x1="371.5" y1="198.5" x2="371.5" y2="200.1" stroke="#6b6b6b" stroke-width="0.8"/>
<line x1="225.5" y1="327.5" x2="227.1" y2="327.5" stroke="#6b6b6b" stroke-width="0.8"/>
<line x1="371.5" y1="327.5" x2="369.9" y2="327.5" stroke="#6b6b6b" stroke-width="0.8"/>
<line x1="225.5" y1="301.7" x2="227.1" y2="301.7" stroke="#6b6b6b" stroke-width="0.8"/>
<line x1="371.5" y1="301.7" x2="369.9" y2="301.7" stroke="#6b6b6b" stroke-width="0.8"/>
<line x1="225.5" y1="275.9" x2="227.1" y2="275.9" stroke="#6b6b6b" stroke-width="0.8"/>
<line x1="371.5" y1="275.9" x2="369.9" y2="275.9" stroke="#6b6b6b" stroke-width="0.8"/>
<line x1="225.5" y1="250.1" x2="227.1" y2="250.1" stroke="#6b6b6b" stroke-width="0.8"/>
<line x1="371.5" y1="250.1" x2="369.9" y2="250.1" stroke="#6b6b6b" stroke-width="0.8"/>
<line x1="225.5" y1="224.3" x2="227.1" y2="224.3" stroke="#6b6b6b" stroke-width="0.8"/>
<line x1="371.5" y1="224.3" x2="369.9" y2="224.3" stroke="#6b6b6b" stroke-width="0.8"/>
<line x1="225.5" y1="198.5" x2="227.1" y2="198.5" stroke="#6b6b6b" stroke-width="0.8"/>
<line x1="371.5" y1="198.5" x2="369.9" y2="198.5" stroke="#6b6b6b" stroke-width="0.8"/>
<rect x="418.5" y="198.5" width="146.0" height="129.0" fill="none" stroke="#6b6b6b" stroke-width="1"/>
<line x1="418.5" y1="327.5" x2="418.5" y2="325.9" stroke="#6b6b6b" stroke-width="0.8"/>
<line x1="418.5" y1="198.5" x2="418.5" y2="200.1" stroke="#6b6b6b" stroke-width="0.8"/>
<line x1="467.17" y1="327.5" x2="467.17" y2="325.9" stroke="#6b6b6b" stroke-width="0.8"/>
<line x1="467.17" y1="198.5" x2="467.17" y2="200.1" stroke="#6b6b6b" stroke-width="0.8"/>
<line x1="515.83" y1="327.5" x2="515.83" y2="325.9" stroke="#6b6b6b" stroke-width="0.8"/>
<line x1="515.83" y1="198.5" x2="515.83" y2="200.1" stroke="#6b6b6b" stroke-width="0.8"/>
<line x1="564.5" y1="327.5" x2="564.5" y2="325.9" stroke="#6b6b6b" stroke-width="0.8"/>
<line x1="564.5" y1="198.5" x2="564.5" y2="200.1" stroke="#6b6b6b" stroke-width="0.8"/>
<line x1="418.5" y1="327.5" x2="420.1" y2="327.5" stroke="#6b6b6b" stroke-width="0.8"/>
<line x1="564.5" y1="327.5" x2="562.9" y2="327.5" stroke="#6b6b6b" stroke-width="0.8"/>
<line x1="418.5" y1="298.83" x2="420.1" y2="298.83" stroke="#6b6b6b" stroke-width="0.8"/>
<line x1="564.5" y1="298.83" x2="562.9" y2="298.83" stroke="#6b6b6b" stroke-width="0.8"/>
<line x1="418.5" y1="270.17" x2="420.1" y2="270.17" stroke="#6b6b6b" stroke-width="0.8"/>
<line x1="564.5" y1="270.17" x2="562.9" y2="270.17" stroke="#6b6b6b" stroke-width="0.8"/>
<line x1="418.5" y1="241.5" x2="420.1" y2="241.5" stroke="#6b6b6b" stroke-width="0.8"/>
<line x1="564.5" y1="241.5" x2="562.9" y2="241.5" stroke="#6b6b6b" stroke-width="0.8"/>
<line x1="418.5" y1="212.83" x2="420.1" y2="212.83" stroke="#6b6b6b" stroke-width="0.8"/>
<line x1="564.5" y1="212.83" x2="562.9" y2="212.83" stroke="#6b6b6b" stroke-width="0.8"/>
<rect x="32.5" y="380.0" width="146.0" height="128.5" fill="none" stroke="#6b6b6b" stroke-width="1"/>
<line x1="32.5" y1="508.5" x2="32.5" y2="506.9" stroke="#6b6b6b" stroke-width="0.8"/>
<line x1="32.5" y1="380.0" x2="32.5" y2="381.6" stroke="#6b6b6b" stroke-width="0.8"/>
<line x1="81.17" y1="508.5" x2="81.17" y2="506.9" stroke="#6b6b6b" stroke-width="0.8"/>
<line x1="81.17" y1="380.0" x2="81.17" y2="381.6" stroke="#6b6b6b" stroke-width="0.8"/>
<line x1="129.83" y1="508.5" x2="129.83" y2="506.9" stroke="#6b6b6b" stroke-width="0.8"/>
<line x1="129.83" y1="380.0" x2="129.83" y2="381.6" stroke="#6b6b6b" stroke-width="0.8"/>
<line x1="178.5" y1="508.5" x2="178.5" y2="506.9" stroke="#6b6b6b" stroke-width="0.8"/>
<line x1="178.5" y1="380.0" x2="178.5" y2="381.6" stroke="#6b6b6b" stroke-width="0.8"/>
<line x1="32.5" y1="487.08" x2="34.1" y2="487.08" stroke="#6b6b6b" stroke-width="0.8"/>
<line x1="178.5" y1="487.08" x2="176.9" y2="487.08" stroke="#6b6b6b" stroke-width="0.8"/>
<line x1="32.5" y1="451.39" x2="34.1" y2="451.39" stroke="#6b6b6b" stroke-width="0.8"/>
<line x1="178.5" y1="451.39" x2="176.9" y2="451.39" stroke="#6b6b6b" stroke-width="0.8"/>
<line x1="32.5" y1="415.69" x2="34.1" y2="415.69" stroke="#6b6b6b" stroke-width="0.8"/>
<line x1="178.5" y1="415.69" x2="176.9" y2="415.69" stroke="#6b6b6b" stroke-width="0.8"/>
<line x1="32.5" y1="380" x2="34.1" y2="380" stroke="#6b6b6b" stroke-width="0.8"/>
<line x1="178.5" y1="380" x2="176.9" y2="380" stroke="#6b6b6b" stroke-width="0.8"/>
<rect x="225.5" y="380.0" width="146.0" height="128.5" fill="none" stroke="#6b6b6b" stroke-width="1"/>
<line x1="225.5" y1="508.5" x2="225.5" y2="506.9" stroke="#6b6b6b" stroke-width="0.8"/>
<line x1="225.5" y1="380.0" x2="225.5" y2="381.6" stroke="#6b6b6b" stroke-width="0.8"/>
<line x1="241.72" y1="508.5" x2="241.72" y2="506.9" stroke="#6b6b6b" stroke-width="0.8"/>
<line x1="241.72" y1="380.0" x2="241.72" y2="381.6" stroke="#6b6b6b" stroke-width="0.8"/>
<line x1="257.94" y1="508.5" x2="257.94" y2="506.9" stroke="#6b6b6b" stroke-width="0.8"/>
<line x1="257.94" y1="380.0" x2="257.94" y2="381.6" stroke="#6b6b6b" stroke-width="0.8"/>
<line x1="274.17" y1="508.5" x2="274.17" y2="506.9" stroke="#6b6b6b" stroke-width="0.8"/>
<line x1="274.17" y1="380.0" x2="274.17" y2="381.6" stroke="#6b6b6b" stroke-width="0.8"/>
<line x1="290.39" y1="508.5" x2="290.39" y2="506.9" stroke="#6b6b6b" stroke-width="0.8"/>
<line x1="290.39" y1="380.0" x2="290.39" y2="381.6" stroke="#6b6b6b" stroke-width="0.8"/>
<line x1="306.61" y1="508.5" x2="306.61" y2="506.9" stroke="#6b6b6b" stroke-width="0.8"/>
<line x1="306.61" y1="380.0" x2="306.61" y2="381.6" stroke="#6b6b6b" stroke-width="0.8"/>
<line x1="322.83" y1="508.5" x2="322.83" y2="506.9" stroke="#6b6b6b" stroke-width="0.8"/>
<line x1="322.83" y1="380.0" x2="322.83" y2="381.6" stroke="#6b6b6b" stroke-width="0.8"/>
<line x1="339.06" y1="508.5" x2="339.06" y2="506.9" stroke="#6b6b6b" stroke-width="0.8"/>
<line x1="339.06" y1="380.0" x2="339.06" y2="381.6" stroke="#6b6b6b" stroke-width="0.8"/>
<line x1="355.28" y1="508.5" x2="355.28" y2="506.9" stroke="#6b6b6b" stroke-width="0.8"/>
<line x1="355.28" y1="380.0" x2="355.28" y2="381.6" stroke="#6b6b6b" stroke-width="0.8"/>
<line x1="371.5" y1="508.5" x2="371.5" y2="506.9" stroke="#6b6b6b" stroke-width="0.8"/>
<line x1="371.5" y1="380.0" x2="371.5" y2="381.6" stroke="#6b6b6b" stroke-width="0.8"/>
<line x1="225.5" y1="505.96" x2="227.1" y2="505.96" stroke="#6b6b6b" stroke-width="0.8"/>
<line x1="371.5" y1="505.96" x2="369.9" y2="505.96" stroke="#6b6b6b" stroke-width="0.8"/>
<line x1="225.5" y1="475.77" x2="227.1" y2="475.77" stroke="#6b6b6b" stroke-width="0.8"/>
<line x1="371.5" y1="475.77" x2="369.9" y2="475.77" stroke="#6b6b6b" stroke-width="0.8"/>
<line x1="225.5" y1="445.58" x2="227.1" y2="445.58" stroke="#6b6b6b" stroke-width="0.8"/>
<line x1="371.5" y1="445.58" x2="369.9" y2="445.58" stroke="#6b6b6b" stroke-width="0.8"/>
<line x1="225.5" y1="415.39" x2="227.1" y2="415.39" stroke="#6b6b6b" stroke-width="0.8"/>
<line x1="371.5" y1="415.39" x2="369.9" y2="415.39" stroke="#6b6b6b" stroke-width="0.8"/>
<line x1="225.5" y1="385.19" x2="227.1" y2="385.19" stroke="#6b6b6b" stroke-width="0.8"/>
<line x1="371.5" y1="385.19" x2="369.9" y2="385.19" stroke="#6b6b6b" stroke-width="0.8"/>
<rect x="418.5" y="380.0" width="146.0" height="128.5" fill="none" stroke="#6b6b6b" stroke-width="1"/>
<line x1="418.5" y1="508.5" x2="418.5" y2="506.9" stroke="#6b6b6b" stroke-width="0.8"/>
<line x1="418.5" y1="380.0" x2="418.5" y2="381.6" stroke="#6b6b6b" stroke-width="0.8"/>
<line x1="467.17" y1="508.5" x2="467.17" y2="506.9" stroke="#6b6b6b" stroke-width="0.8"/>
<line x1="467.17" y1="380.0" x2="467.17" y2="381.6" stroke="#6b6b6b" stroke-width="0.8"/>
<line x1="515.83" y1="508.5" x2="515.83" y2="506.9" stroke="#6b6b6b" stroke-width="0.8"/>
<line x1="515.83" y1="380.0" x2="515.83" y2="381.6" stroke="#6b6b6b" stroke-width="0.8"/>
<line x1="564.5" y1="508.5" x2="564.5" y2="506.9" stroke="#6b6b6b" stroke-width="0.8"/>
<line x1="564.5" y1="380.0" x2="564.5" y2="381.6" stroke="#6b6b6b" stroke-width="0.8"/>
<line x1="418.5" y1="487.08" x2="420.1" y2="487.08" stroke="#6b6b6b" stroke-width="0.8"/>
<line x1="564.5" y1="487.08" x2="562.9" y2="487.08" stroke="#6b6b6b" stroke-width="0.8"/>
<line x1="418.5" y1="451.39" x2="420.1" y2="451.39" stroke="#6b6b6b" stroke-width="0.8"/>
<line x1="564.5" y1="451.39" x2="562.9" y2="451.39" stroke="#6b6b6b" stroke-width="0.8"/>
<line x1="418.5" y1="415.69" x2="420.1" y2="415.69" stroke="#6b6b6b" stroke-width="0.8"/>
<line x1="564.5" y1="415.69" x2="562.9" y2="415.69" stroke="#6b6b6b" stroke-width="0.8"/>
<line x1="418.5" y1="380" x2="420.1" y2="380" stroke="#6b6b6b" stroke-width="0.8"/>
<line x1="564.5" y1="380" x2="562.9" y2="380" stroke="#6b6b6b" stroke-width="0.8"/></svg></div></body></html>
